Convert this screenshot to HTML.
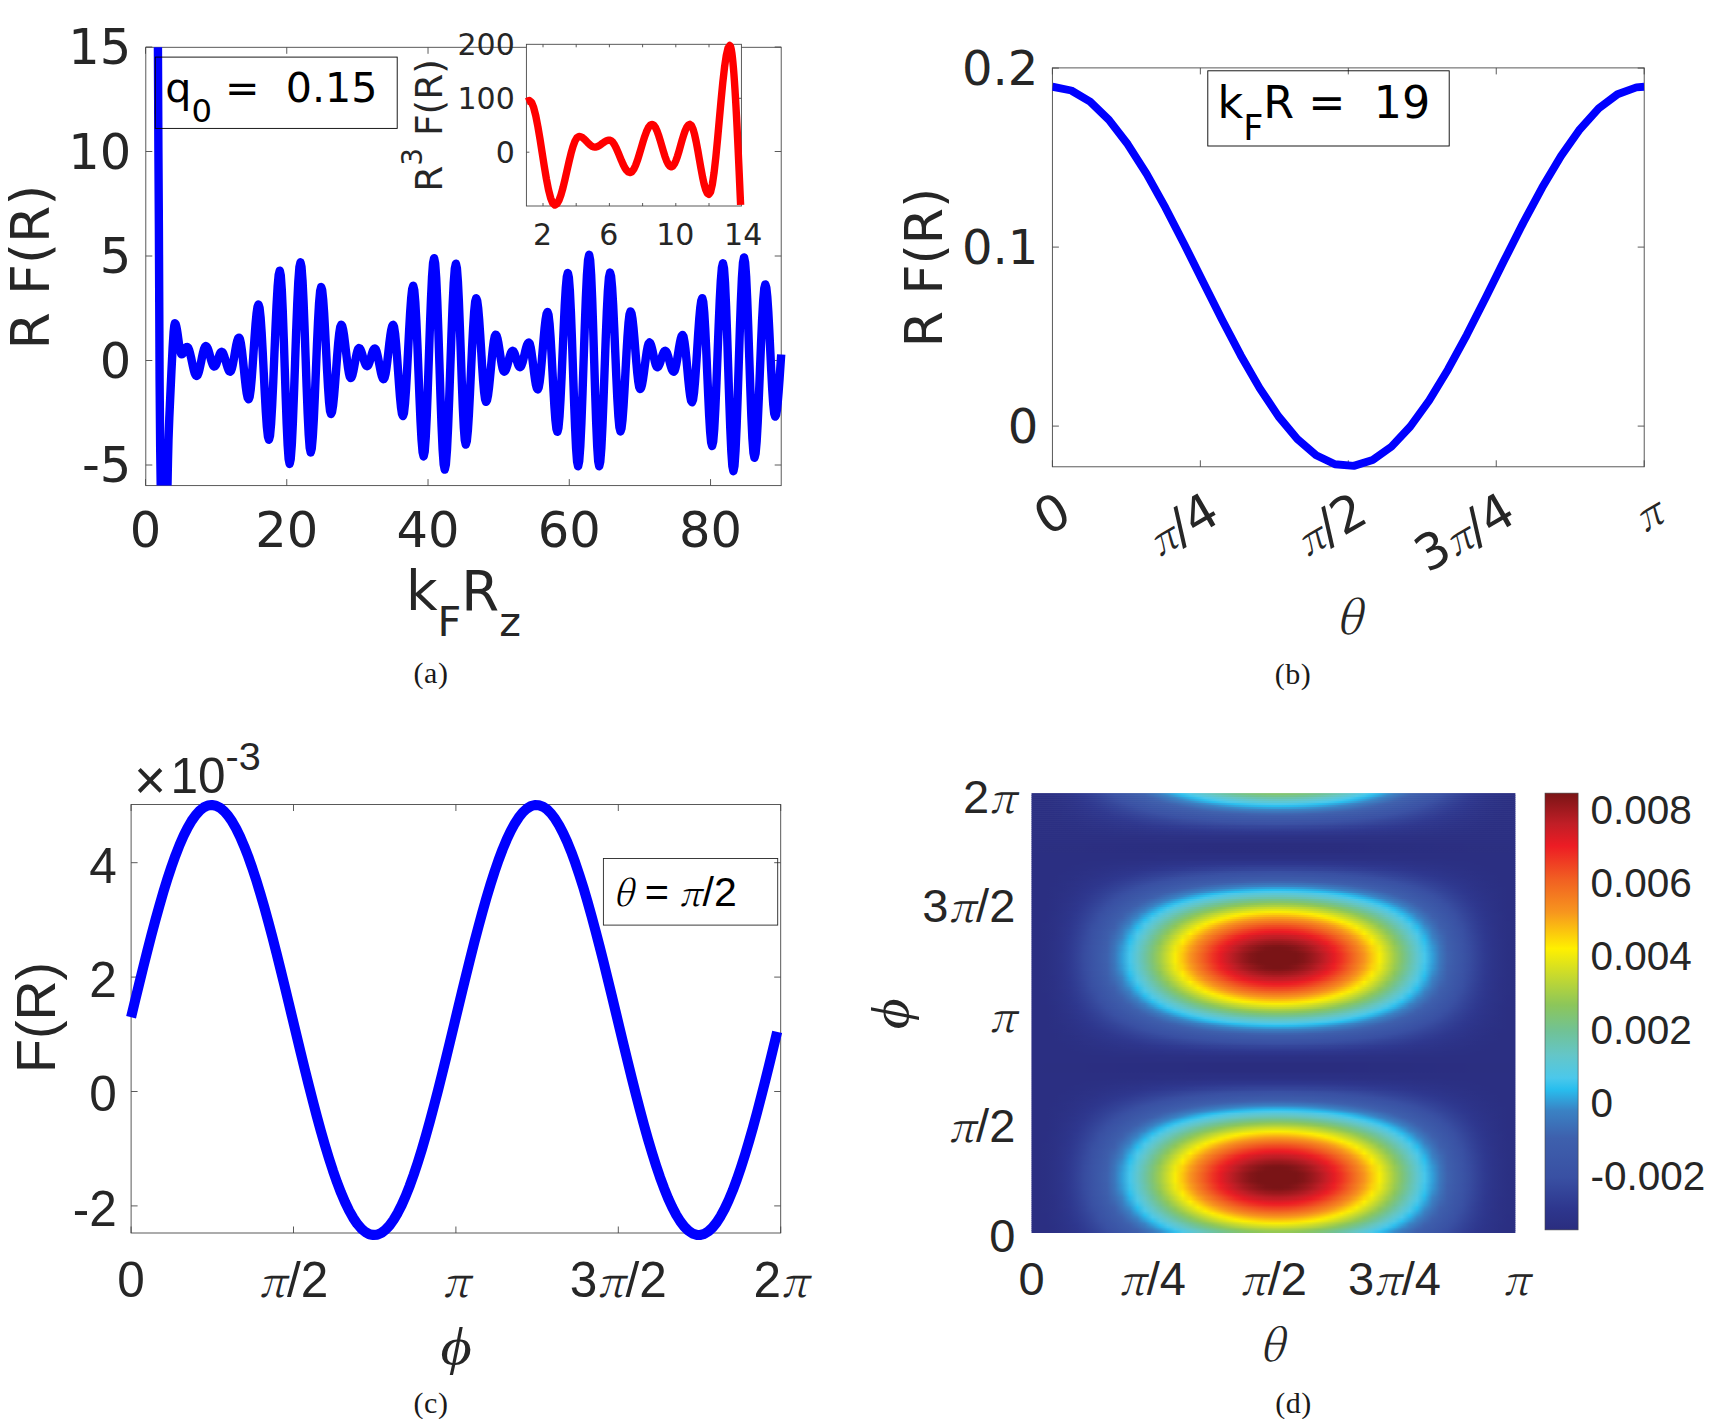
<!DOCTYPE html><html><head><meta charset="utf-8"><title>figure</title><style>html,body{margin:0;padding:0;background:#fff}svg{display:block}</style></head><body>
<svg width="1725" height="1419" viewBox="0 0 1725 1419">
<rect width="1725" height="1419" fill="#fff"/>
<g id="panel-a">
<clipPath id="clipA"><rect x="145.8" y="47.3" width="640.4000000000001" height="438.3"/></clipPath>
<rect x="145.8" y="47.3" width="635.4" height="438.3" fill="none" stroke="#484848" stroke-width="0.9"/>
<path d="M145.5 485.6v-6.5M145.5 47.3v6.5M286.76 485.6v-6.5M286.76 47.3v6.5M428.02 485.6v-6.5M428.02 47.3v6.5M569.28 485.6v-6.5M569.28 47.3v6.5M710.54 485.6v-6.5M710.54 47.3v6.5M145.8 465h6.5M781.2 465h-6.5M145.8 360.5h6.5M781.2 360.5h-6.5M145.8 256h6.5M781.2 256h-6.5M145.8 151.5h6.5M781.2 151.5h-6.5M145.8 47h6.5M781.2 47h-6.5" fill="none" stroke="#484848" stroke-width="0.9"/>
<path d="M157.9 41.3 158.4 150 158.9 230 159.6 380 160.2 450 160.7 485 161.6 515 164 532 166.4 515 167.5 485 168 460 168.5 440 169.3 418 170.2 398 171.4 372 172.6 348 173.6 332 174.3 325.5 174.93 323.22 175.61 323.98 176.28 326.19 176.95 329.64 177.62 333.98 178.29 338.79 178.96 343.6 179.63 347.94 180.3 351.39 180.97 353.6 181.64 354.36 182.19 354.18 182.74 353.64 183.29 352.82 183.84 351.77 184.39 350.61 184.95 349.46 185.5 348.41 186.05 347.59 186.6 347.05 187.15 346.87 188.1 347.58 189.05 349.66 189.99 352.88 190.94 356.95 191.88 361.45 192.83 365.96 193.78 370.03 194.72 373.25 195.67 375.32 196.61 376.04 197.54 375.31 198.47 373.18 199.39 369.86 200.32 365.69 201.25 361.06 202.17 356.43 203.1 352.26 204.02 348.94 204.95 346.82 205.88 346.08 206.72 346.58 207.57 348.04 208.42 350.31 209.27 353.16 210.11 356.33 210.96 359.5 211.81 362.35 212.66 364.62 213.5 366.08 214.35 366.58 215.08 366.22 215.81 365.17 216.54 363.53 217.27 361.47 218 359.19 218.73 356.9 219.46 354.84 220.19 353.21 220.91 352.16 221.64 351.8 222.49 352.28 223.34 353.7 224.19 355.9 225.03 358.67 225.88 361.75 226.73 364.83 227.58 367.6 228.42 369.8 229.27 371.22 230.12 371.7 231.01 370.87 231.89 368.45 232.78 364.68 233.67 359.92 234.55 354.66 235.44 349.39 236.33 344.63 237.21 340.86 238.1 338.44 238.99 337.61 239.95 339.12 240.92 343.5 241.88 350.32 242.85 358.92 243.82 368.45 244.78 377.98 245.75 386.58 246.71 393.4 247.68 397.78 248.64 399.29 249.63 396.97 250.61 390.24 251.6 379.76 252.59 366.54 253.57 351.9 254.56 337.25 255.54 324.04 256.53 313.55 257.51 306.82 258.5 304.5 259.54 307.81 260.59 317.41 261.63 332.36 262.68 351.21 263.72 372.1 264.77 392.99 265.81 411.83 266.85 426.79 267.9 436.39 268.94 439.7 270.03 435.56 271.11 423.55 272.2 404.84 273.28 381.27 274.36 355.15 275.45 329.02 276.53 305.45 277.62 286.75 278.7 274.74 279.78 270.6 280.77 275.33 281.75 289.06 282.74 310.45 283.72 337.4 284.71 367.27 285.7 397.14 286.68 424.09 287.67 445.48 288.65 459.21 289.64 463.94 290.72 459 291.81 444.69 292.89 422.38 293.97 394.28 295.06 363.13 296.14 331.98 297.23 303.88 298.31 281.57 299.39 267.26 300.48 262.32 301.5 266.98 302.53 280.48 303.55 301.52 304.58 328.03 305.6 357.41 306.63 386.8 307.65 413.31 308.68 434.35 309.7 447.85 310.73 452.51 311.77 448.46 312.81 436.7 313.86 418.39 314.9 395.31 315.95 369.73 316.99 344.15 318.04 321.08 319.08 302.77 320.13 291.01 321.17 286.96 322.16 290.07 323.14 299.1 324.13 313.16 325.11 330.88 326.1 350.52 327.08 370.16 328.07 387.88 329.05 401.94 330.04 410.96 331.02 414.08 332.05 411.89 333.07 405.55 334.1 395.67 335.12 383.23 336.15 369.44 337.17 355.64 338.2 343.2 339.22 333.32 340.25 326.98 341.27 324.8 342.22 326.1 343.17 329.88 344.11 335.76 345.06 343.18 346 351.4 346.95 359.63 347.9 367.04 348.84 372.93 349.79 376.71 350.73 378.01 351.56 377.28 352.39 375.15 353.22 371.84 354.04 367.66 354.87 363.03 355.7 358.4 356.53 354.23 357.36 350.91 358.18 348.79 359.01 348.05 359.82 348.5 360.63 349.78 361.43 351.79 362.24 354.32 363.05 357.12 363.86 359.92 364.67 362.45 365.47 364.45 366.28 365.74 367.09 366.18 367.86 365.75 368.63 364.49 369.4 362.53 370.17 360.06 370.93 357.32 371.7 354.58 372.47 352.1 373.24 350.14 374.01 348.88 374.78 348.45 375.66 349.2 376.55 351.38 377.44 354.78 378.32 359.07 379.21 363.82 380.1 368.57 380.99 372.86 381.87 376.26 382.76 378.44 383.65 379.19 384.59 377.86 385.54 374 386.48 367.98 387.43 360.4 388.38 351.99 389.32 343.59 390.27 336.01 391.21 329.99 392.16 326.13 393.11 324.8 394.09 327.03 395.08 333.51 396.06 343.6 397.05 356.32 398.03 370.42 399.02 384.52 400 397.24 400.99 407.33 401.97 413.81 402.96 416.05 403.99 412.86 405.01 403.61 406.03 389.2 407.06 371.04 408.08 350.91 409.11 330.78 410.13 312.62 411.16 298.21 412.18 288.96 413.21 285.77 414.25 289.95 415.3 302.07 416.34 320.95 417.39 344.74 418.43 371.11 419.48 397.48 420.52 421.27 421.56 440.15 422.61 452.27 423.65 456.45 424.7 451.6 425.74 437.52 426.79 415.58 427.83 387.95 428.88 357.32 429.92 326.68 430.97 299.05 432.01 277.12 433.05 263.03 434.1 258.18 435.16 263.36 436.23 278.38 437.29 301.77 438.36 331.24 439.42 363.92 440.48 396.59 441.55 426.07 442.61 449.46 443.68 464.48 444.74 469.65 445.86 464.61 446.98 449.99 448.09 427.2 449.21 398.5 450.33 366.68 451.44 334.86 452.56 306.15 453.68 283.37 454.8 268.74 455.91 263.7 456.9 268.13 457.88 280.98 458.87 300.99 459.85 326.21 460.84 354.16 461.82 382.12 462.81 407.33 463.8 427.35 464.78 440.2 465.77 444.62 466.81 441.04 467.86 430.64 468.9 414.44 469.94 394.03 470.99 371.41 472.03 348.78 473.08 328.37 474.12 312.17 475.17 301.77 476.21 298.19 477.2 300.73 478.18 308.09 479.17 319.56 480.15 334.01 481.14 350.02 482.12 366.04 483.11 380.49 484.1 391.96 485.08 399.32 486.07 401.86 487.03 400.21 488 395.44 488.96 388.01 489.93 378.64 490.89 368.25 491.86 357.87 492.83 348.5 493.79 341.07 494.76 336.3 495.72 334.65 496.57 335.56 497.42 338.19 498.27 342.29 499.11 347.45 499.96 353.18 500.81 358.9 501.66 364.07 502.5 368.16 503.35 370.8 504.2 371.7 505.05 371.19 505.89 369.71 506.74 367.4 507.59 364.49 508.44 361.26 509.28 358.03 510.13 355.12 510.98 352.81 511.82 351.32 512.67 350.81 513.4 351.21 514.13 352.37 514.86 354.18 515.59 356.46 516.32 358.99 517.05 361.52 517.78 363.8 518.51 365.61 519.24 366.77 519.96 367.17 520.85 366.57 521.74 364.82 522.63 362.09 523.51 358.66 524.4 354.85 525.29 351.05 526.17 347.61 527.06 344.89 527.95 343.14 528.83 342.53 529.72 343.68 530.61 347.01 531.49 352.2 532.38 358.74 533.27 365.99 534.15 373.23 535.04 379.77 535.93 384.96 536.82 388.29 537.7 389.44 538.69 387.54 539.67 382.04 540.66 373.48 541.64 362.68 542.63 350.71 543.61 338.75 544.6 327.95 545.59 319.38 546.57 313.88 547.56 311.99 548.54 314.92 549.53 323.43 550.51 336.68 551.5 353.39 552.48 371.9 553.47 390.41 554.45 407.12 555.44 420.37 556.42 428.88 557.41 431.81 558.45 427.93 559.5 416.64 560.54 399.07 561.59 376.93 562.63 352.39 563.68 327.85 564.72 305.7 565.77 288.13 566.81 276.85 567.86 272.96 568.88 277.7 569.91 291.43 570.93 312.81 571.96 339.76 572.98 369.63 574 399.51 575.03 426.45 576.05 447.84 577.08 461.57 578.1 466.3 579.21 461.13 580.31 446.11 581.42 422.72 582.52 393.24 583.62 360.57 584.73 327.89 585.83 298.42 586.93 275.03 588.04 260.01 589.14 254.83 590.15 260.01 591.15 275.03 592.16 298.42 593.16 327.89 594.17 360.57 595.17 393.24 596.18 422.72 597.18 446.11 598.19 461.13 599.19 466.3 600.28 461.56 601.36 447.8 602.44 426.37 603.53 399.37 604.61 369.44 605.7 339.5 606.78 312.5 607.86 291.07 608.95 277.31 610.03 272.57 611.08 276.46 612.12 287.74 613.17 305.31 614.21 327.45 615.25 351.99 616.3 376.54 617.34 398.68 618.39 416.25 619.43 427.53 620.48 431.42 621.48 428.48 622.49 419.96 623.49 406.68 624.5 389.95 625.5 371.41 626.51 352.86 627.51 336.13 628.52 322.86 629.52 314.33 630.53 311.4 631.49 313.3 632.46 318.81 633.43 327.4 634.39 338.22 635.36 350.22 636.32 362.22 637.29 373.04 638.25 381.63 639.22 387.15 640.19 389.05 641.11 387.91 642.04 384.6 642.96 379.46 643.89 372.98 644.82 365.79 645.74 358.6 646.67 352.12 647.6 346.98 648.52 343.67 649.45 342.53 650.24 343.14 651.02 344.89 651.81 347.61 652.6 351.05 653.39 354.85 654.18 358.66 654.97 362.09 655.75 364.82 656.54 366.57 657.33 367.17 658.12 366.77 658.91 365.61 659.7 363.8 660.48 361.52 661.27 358.99 662.06 356.46 662.85 354.18 663.64 352.37 664.43 351.21 665.21 350.81 666.06 351.32 666.91 352.81 667.76 355.12 668.6 358.03 669.45 361.26 670.3 364.49 671.15 367.4 671.99 369.71 672.84 371.19 673.69 371.7 674.58 370.81 675.46 368.2 676.35 364.15 677.24 359.04 678.12 353.37 679.01 347.71 679.9 342.6 680.78 338.55 681.67 335.94 682.56 335.05 683.5 336.69 684.45 341.46 685.4 348.9 686.34 358.26 687.29 368.65 688.23 379.03 689.18 388.4 690.13 395.83 691.07 400.61 692.02 402.25 693.04 399.7 694.07 392.31 695.09 380.8 696.12 366.3 697.14 350.22 698.17 334.14 699.19 319.64 700.22 308.13 701.24 300.74 702.27 298.19 703.25 301.81 704.24 312.31 705.22 328.66 706.21 349.26 707.19 372.1 708.18 394.94 709.16 415.54 710.15 431.89 711.14 442.39 712.12 446 713.2 441.53 714.29 428.56 715.37 408.35 716.46 382.88 717.54 354.66 718.62 326.43 719.71 300.96 720.79 280.75 721.88 267.78 722.96 263.31 724 268.4 725.05 283.16 726.09 306.16 727.14 335.14 728.18 367.27 729.23 399.39 730.27 428.38 731.32 451.37 732.36 466.14 733.41 471.23 734.47 466 735.53 450.81 736.6 427.16 737.66 397.35 738.73 364.31 739.79 331.27 740.86 301.47 741.92 277.81 742.98 262.63 744.05 257.39 745.09 262.3 746.14 276.53 747.18 298.71 748.23 326.64 749.27 357.61 750.32 388.58 751.36 416.52 752.4 438.69 753.45 452.92 754.49 457.83 755.58 453.58 756.66 441.27 757.75 422.08 758.83 397.91 759.91 371.11 761 344.31 762.08 320.14 763.17 300.96 764.25 288.64 765.33 284.39 766.32 287.63 767.3 297.02 768.29 311.65 769.27 330.08 770.26 350.52 771.25 370.95 772.23 389.38 773.22 404.01 774.2 413.4 775.19 416.64 776.05 414.96 776.9 410.03 777.76 402.19 778.62 391.98 779.48 380.08 780.34 367.32 781.2 354.55" fill="none" stroke="#0000ff" stroke-width="8.4" stroke-linejoin="round" stroke-linecap="butt" clip-path="url(#clipA)"/>
<text x="145.5" y="546.8" font-family='"DejaVu Sans", "Liberation Sans", sans-serif' font-size="49.5" text-anchor="middle" fill="#262626">0</text>
<text x="286.76" y="546.8" font-family='"DejaVu Sans", "Liberation Sans", sans-serif' font-size="49.5" text-anchor="middle" fill="#262626">20</text>
<text x="428.02" y="546.8" font-family='"DejaVu Sans", "Liberation Sans", sans-serif' font-size="49.5" text-anchor="middle" fill="#262626">40</text>
<text x="569.28" y="546.8" font-family='"DejaVu Sans", "Liberation Sans", sans-serif' font-size="49.5" text-anchor="middle" fill="#262626">60</text>
<text x="710.54" y="546.8" font-family='"DejaVu Sans", "Liberation Sans", sans-serif' font-size="49.5" text-anchor="middle" fill="#262626">80</text>
<text x="131.3" y="482.2" font-family='"DejaVu Sans", "Liberation Sans", sans-serif' font-size="49.5" text-anchor="end" fill="#262626">-5</text>
<text x="131.3" y="377.7" font-family='"DejaVu Sans", "Liberation Sans", sans-serif' font-size="49.5" text-anchor="end" fill="#262626">0</text>
<text x="131.3" y="273.2" font-family='"DejaVu Sans", "Liberation Sans", sans-serif' font-size="49.5" text-anchor="end" fill="#262626">5</text>
<text x="131.3" y="168.7" font-family='"DejaVu Sans", "Liberation Sans", sans-serif' font-size="49.5" text-anchor="end" fill="#262626">10</text>
<text x="131.3" y="64.2" font-family='"DejaVu Sans", "Liberation Sans", sans-serif' font-size="49.5" text-anchor="end" fill="#262626">15</text>
<text transform="translate(49.2 267) rotate(-90)" font-family='"DejaVu Sans", "Liberation Sans", sans-serif' font-size="53.8" text-anchor="middle" fill="#262626">R F(R)</text>
<text x="406" y="609.7" font-family='"DejaVu Sans", "Liberation Sans", sans-serif' font-size="54.5" fill="#262626">k<tspan font-size="41.3" dy="26.5">F</tspan><tspan font-size="54.5" dy="-26.5">R</tspan><tspan font-size="41.3" dy="26.5">z</tspan></text>
<rect x="155.3" y="57.1" width="241.9" height="71.3" fill="none" stroke="#000" stroke-width="0.9"/>
<text x="165.3" y="102" font-family='"DejaVu Sans", "Liberation Sans", sans-serif' font-size="41.2" fill="#000" xml:space="preserve">q<tspan font-size="32.3" dy="20">0</tspan><tspan font-size="41.2" dy="-20"> =  0.15</tspan></text>
<rect x="526.4" y="44.3" width="215.0" height="161.7" fill="#fff"/>
<rect x="526.4" y="44.3" width="215" height="161.7" fill="none" stroke="#484848" stroke-width="0.9"/>
<path d="M543 206v-3M543 44.3v3M576.2 206v-3M576.2 44.3v3M609.4 206v-3M609.4 44.3v3M642.6 206v-3M642.6 44.3v3M675.8 206v-3M675.8 44.3v3M709 206v-3M709 44.3v3M526.4 152.2h3M741.4 152.2h-3M526.4 98.3h3M741.4 98.3h-3" fill="none" stroke="#484848" stroke-width="0.9"/>
<path d="M526.38 101.62 529.39 100.46 531.52 102.25 533.64 107.47 535.77 115.78 537.89 126.61 540.02 139.22 542.14 152.75 544.27 166.29 546.4 178.9 548.52 189.73 550.65 198.04 552.77 203.26 554.9 205.04 556.91 203.87 558.92 200.45 560.93 194.99 562.94 187.88 564.95 179.61 566.96 170.72 568.97 161.84 570.98 153.57 572.99 146.46 575 141 577 137.58 579.01 136.41 580.33 136.59 581.64 137.12 582.96 137.97 584.27 139.07 585.58 140.36 586.9 141.74 588.21 143.12 589.53 144.41 590.84 145.51 592.15 146.36 593.47 146.89 594.78 147.07 596 146.95 597.22 146.61 598.43 146.05 599.65 145.33 600.87 144.49 602.09 143.59 603.3 142.69 604.52 141.86 605.74 141.13 606.96 140.58 608.17 140.23 609.39 140.12 611.11 140.67 612.83 142.29 614.55 144.87 616.27 148.23 617.99 152.15 619.71 156.35 621.43 160.55 623.15 164.46 624.87 167.83 626.59 170.41 628.31 172.03 630.03 172.58 631.86 171.76 633.7 169.35 635.54 165.52 637.37 160.52 639.21 154.71 641.04 148.46 642.88 142.22 644.71 136.41 646.55 131.41 648.39 127.58 650.22 125.17 652.06 124.35 653.66 125.07 655.27 127.19 656.87 130.56 658.47 134.96 660.08 140.07 661.68 145.57 663.29 151.06 664.89 156.17 666.49 160.57 668.1 163.94 669.7 166.06 671.3 166.78 672.85 166.06 674.4 163.94 675.94 160.57 677.49 156.17 679.03 151.06 680.58 145.57 682.13 140.07 683.67 134.96 685.22 130.56 686.76 127.19 688.31 125.07 689.86 124.35 691.44 125.54 693.02 129.04 694.61 134.6 696.19 141.86 697.78 150.3 699.36 159.36 700.95 168.42 702.53 176.87 704.12 184.12 705.7 189.69 707.29 193.18 708.87 194.38 710.61 191.84 712.35 184.4 714.09 172.58 715.83 157.16 717.57 139.21 719.3 119.94 721.04 100.68 722.78 82.72 724.52 67.31 726.26 55.48 728 48.04 729.74 45.51 730.26 45.97 730.78 47.35 731.3 49.64 731.83 52.83 732.35 56.89 732.87 61.81 733.39 67.55 733.91 74.07 734.43 81.34 734.96 89.31 735.48 97.94 736 107.16 736.52 116.92 737.04 127.17 737.57 137.84 738.09 148.85 738.61 160.16 739.13 171.68 739.65 183.34 740.17 195.07 740.61 204.81" fill="none" stroke="#ff0000" stroke-width="7.4" stroke-linejoin="round" stroke-linecap="butt"/>
<text x="542.5" y="244.7" font-family='"DejaVu Sans", "Liberation Sans", sans-serif' font-size="30" text-anchor="middle" fill="#262626">2</text>
<text x="608.9" y="244.7" font-family='"DejaVu Sans", "Liberation Sans", sans-serif' font-size="30" text-anchor="middle" fill="#262626">6</text>
<text x="675.3" y="244.7" font-family='"DejaVu Sans", "Liberation Sans", sans-serif' font-size="30" text-anchor="middle" fill="#262626">10</text>
<text x="743.2" y="244.7" font-family='"DejaVu Sans", "Liberation Sans", sans-serif' font-size="30" text-anchor="middle" fill="#262626">14</text>
<text x="514.8" y="163.1" font-family='"DejaVu Sans", "Liberation Sans", sans-serif' font-size="30" text-anchor="end" fill="#262626">0</text>
<text x="514.8" y="109.2" font-family='"DejaVu Sans", "Liberation Sans", sans-serif' font-size="30" text-anchor="end" fill="#262626">100</text>
<text x="514.8" y="55.3" font-family='"DejaVu Sans", "Liberation Sans", sans-serif' font-size="30" text-anchor="end" fill="#262626">200</text>
<text transform="translate(441.5 125.5) rotate(-90)" font-family='"DejaVu Sans", "Liberation Sans", sans-serif' font-size="37.5" text-anchor="middle" fill="#262626">R<tspan font-size="28" dy="-20">3</tspan><tspan dy="20"> F(R)</tspan></text>
<text x="431" y="683" font-family='"Liberation Serif", "DejaVu Serif", serif' font-size="30" text-anchor="middle" fill="#1a1a1a" letter-spacing="0.5">(a)</text>
</g>
<g id="panel-b">
<clipPath id="clipB"><rect x="1052.4" y="57.900000000000006" width="591.8" height="418.9"/></clipPath>
<rect x="1052.4" y="67.9" width="591.8" height="398.9" fill="none" stroke="#484848" stroke-width="0.9"/>
<path d="M1052.4 466.8v-6.5M1052.4 67.9v6.5M1200.35 466.8v-6.5M1200.35 67.9v6.5M1348.3 466.8v-6.5M1348.3 67.9v6.5M1496.25 466.8v-6.5M1496.25 67.9v6.5M1644.2 466.8v-6.5M1644.2 67.9v6.5M1052.4 426.1h6.5M1644.2 426.1h-6.5M1052.4 247.1h6.5M1644.2 247.1h-6.5M1052.4 68.1h6.5M1644.2 68.1h-6.5" fill="none" stroke="#484848" stroke-width="0.9"/>
<path d="M1052.4 86.72 1071.24 90.5 1090.08 101.69 1108.91 119.86 1127.75 144.26 1146.59 173.94 1165.43 207.7 1184.26 244.21 1203.1 282 1221.94 319.57 1240.78 355.42 1259.61 388.12 1278.45 416.37 1297.29 439.04 1316.13 455.23 1334.96 464.3 1353.8 465.87 1372.64 459.9 1391.48 446.61 1410.31 426.53 1429.15 400.48 1447.99 369.48 1466.83 334.77 1485.66 297.74 1504.5 259.85 1523.34 222.63 1542.18 187.56 1561.01 156.03 1579.85 129.3 1598.69 108.44 1617.53 94.27 1636.36 87.37 1644.2 86.72" fill="none" stroke="#0000ff" stroke-width="7.9" stroke-linejoin="round" stroke-linecap="butt" clip-path="url(#clipB)"/>
<text x="1038.3" y="443.1" font-family='"DejaVu Sans", "Liberation Sans", sans-serif' font-size="48" text-anchor="end" fill="#262626">0</text>
<text x="1038.3" y="264.1" font-family='"DejaVu Sans", "Liberation Sans", sans-serif' font-size="48" text-anchor="end" fill="#262626">0.1</text>
<text x="1038.3" y="85.1" font-family='"DejaVu Sans", "Liberation Sans", sans-serif' font-size="48" text-anchor="end" fill="#262626">0.2</text>
<text transform="translate(942.3 267.4) rotate(-90)" font-family='"DejaVu Sans", "Liberation Sans", sans-serif' font-size="52.1" text-anchor="middle" fill="#262626">R F(R)</text>
<text transform="translate(1074.4 520.8) rotate(-30)" font-family='"DejaVu Sans", "Liberation Sans", sans-serif' font-size="49.5" text-anchor="end" fill="#262626">0</text>
<text transform="translate(1222.35 520.8) rotate(-30)" font-family='"DejaVu Sans", "Liberation Sans", sans-serif' font-size="49.5" text-anchor="end" fill="#262626"><tspan font-family='"Noto Serif CJK SC", "Liberation Serif", serif' font-style="italic" font-size="38.5">π</tspan>/4</text>
<text transform="translate(1370.3 520.8) rotate(-30)" font-family='"DejaVu Sans", "Liberation Sans", sans-serif' font-size="49.5" text-anchor="end" fill="#262626"><tspan font-family='"Noto Serif CJK SC", "Liberation Serif", serif' font-style="italic" font-size="38.5">π</tspan>/2</text>
<text transform="translate(1518.25 520.8) rotate(-30)" font-family='"DejaVu Sans", "Liberation Sans", sans-serif' font-size="49.5" text-anchor="end" fill="#262626">3<tspan font-family='"Noto Serif CJK SC", "Liberation Serif", serif' font-style="italic" font-size="38.5">π</tspan>/4</text>
<text transform="translate(1666.2 520.8) rotate(-30)" font-family='"DejaVu Sans", "Liberation Sans", sans-serif' font-size="49.5" text-anchor="end" fill="#262626"><tspan font-family='"Noto Serif CJK SC", "Liberation Serif", serif' font-style="italic" font-size="38.5">π</tspan></text>
<text x="1348.5" y="634" font-family='"Noto Serif CJK SC", "Liberation Serif", serif' font-size="45.5" text-anchor="middle" fill="#262626" style="font-style:italic">θ</text>
<rect x="1207.8" y="70.8" width="241.4" height="75.2" fill="none" stroke="#000" stroke-width="0.9"/>
<text x="1217.5" y="118.4" font-family='"DejaVu Sans", "Liberation Sans", sans-serif' font-size="44.4" fill="#000" xml:space="preserve">k<tspan font-size="35" dy="21.5">F</tspan><tspan font-size="44.4" dy="-21.5">R =  19</tspan></text>
<text x="1293" y="684" font-family='"Liberation Serif", "DejaVu Serif", serif' font-size="30" text-anchor="middle" fill="#1a1a1a" letter-spacing="0.5">(b)</text>
</g>
<g id="panel-c">
<rect x="131.1" y="804.5" width="649.6" height="428.5" fill="none" stroke="#484848" stroke-width="0.9"/>
<path d="M131.1 1233v-6.5M131.1 804.5v6.5M293.5 1233v-6.5M293.5 804.5v6.5M455.9 1233v-6.5M455.9 804.5v6.5M618.3 1233v-6.5M618.3 804.5v6.5M780.7 1233v-6.5M780.7 804.5v6.5M131.1 1205.9h6.5M780.7 1205.9h-6.5M131.1 1091.5h6.5M780.7 1091.5h-6.5M131.1 977.1h6.5M780.7 977.1h-6.5M131.1 862.7h6.5M780.7 862.7h-6.5" fill="none" stroke="#484848" stroke-width="0.9"/>
<path d="M131.1 1017.2 135.14 1000.43 139.18 983.78 143.21 967.35 147.25 951.23 151.29 935.54 155.33 920.36 159.37 905.8 163.4 891.92 167.44 878.83 171.48 866.6 175.52 855.3 179.55 845.01 183.59 835.79 187.63 827.69 191.67 820.76 195.71 815.05 199.74 810.59 203.78 807.4 207.82 805.51 211.86 804.93 215.9 805.66 219.93 807.7 223.97 811.03 228.01 815.64 232.05 821.49 236.09 828.55 240.12 836.79 244.16 846.13 248.2 856.54 252.24 867.95 256.28 880.28 260.31 893.47 264.35 907.42 268.39 922.07 272.43 937.31 276.46 953.05 280.5 969.2 284.54 985.67 288.58 1002.34 292.62 1019.12 296.65 1035.91 300.69 1052.59 304.73 1069.08 308.77 1085.27 312.81 1101.07 316.84 1116.36 320.88 1131.07 324.92 1145.11 328.96 1158.38 333 1170.8 337.03 1182.31 341.07 1192.82 345.11 1202.29 349.15 1210.64 353.19 1217.83 357.22 1223.81 361.26 1228.55 365.3 1232.01 369.34 1234.19 373.37 1235.05 377.41 1234.61 381.45 1232.86 385.49 1229.81 389.53 1225.48 393.56 1219.89 397.6 1213.09 401.64 1205.11 405.68 1196 409.72 1185.82 413.75 1174.63 417.79 1162.49 421.83 1149.49 425.87 1135.69 429.91 1121.19 433.94 1106.07 437.98 1090.43 442.02 1074.36 446.06 1057.96 450.09 1041.32 454.13 1024.56 458.17 1007.76 462.21 991.04 466.25 974.5 470.28 958.24 474.32 942.35 478.36 926.94 482.4 912.09 486.44 897.9 490.47 884.46 494.51 871.84 498.55 860.13 502.59 849.39 506.63 839.69 510.66 831.09 514.7 823.65 518.74 817.4 522.78 812.38 526.82 808.64 530.85 806.18 534.89 805.02 538.93 805.18 542.97 806.65 547 809.41 551.04 813.47 555.08 818.78 559.12 825.32 563.16 833.04 567.19 841.91 571.23 851.86 575.27 862.84 579.31 874.77 583.35 887.6 587.38 901.23 591.42 915.58 595.46 930.57 599.5 946.11 603.54 962.09 607.57 978.43 611.61 995.02 615.65 1011.77 619.69 1028.57 623.73 1045.31 627.76 1061.9 631.8 1078.23 635.84 1094.21 639.88 1109.73 643.91 1124.71 647.95 1139.05 651.99 1152.67 656.03 1165.47 660.07 1177.39 664.1 1188.35 668.14 1198.28 672.18 1207.12 676.22 1214.83 680.26 1221.34 684.29 1226.63 688.33 1230.65 692.37 1233.4 696.41 1234.84 700.45 1234.97 704.48 1233.79 708.52 1231.3 712.56 1227.53 716.6 1222.49 720.63 1216.22 724.67 1208.75 728.71 1200.13 732.75 1190.41 736.79 1179.65 740.82 1167.92 744.86 1155.28 748.9 1141.82 752.94 1127.62 756.98 1112.76 761.01 1097.34 765.05 1081.44 769.09 1065.17 773.13 1048.62 777.17 1031.9" fill="none" stroke="#0000ff" stroke-width="10.1" stroke-linejoin="round" stroke-linecap="butt"/>
<text x="116.7" y="1225.7" font-family='"Liberation Sans", "DejaVu Sans", sans-serif' font-size="49.5" text-anchor="end" fill="#262626">-2</text>
<text x="116.7" y="1111.3" font-family='"Liberation Sans", "DejaVu Sans", sans-serif' font-size="49.5" text-anchor="end" fill="#262626">0</text>
<text x="116.7" y="996.9" font-family='"Liberation Sans", "DejaVu Sans", sans-serif' font-size="49.5" text-anchor="end" fill="#262626">2</text>
<text x="116.7" y="882.5" font-family='"Liberation Sans", "DejaVu Sans", sans-serif' font-size="49.5" text-anchor="end" fill="#262626">4</text>
<text x="131.1" y="1297.3" font-family='"Liberation Sans", "DejaVu Sans", sans-serif' font-size="49.5" text-anchor="middle" fill="#262626">0</text>
<text x="293.5" y="1297.3" font-family='"Liberation Sans", "DejaVu Sans", sans-serif' font-size="49.5" text-anchor="middle" fill="#262626"><tspan font-family='"Noto Serif CJK SC", "Liberation Serif", serif' font-style="italic" font-size="41">π</tspan><tspan dx="1.6">/</tspan>2</text>
<text x="455.9" y="1297.3" font-family='"Liberation Sans", "DejaVu Sans", sans-serif' font-size="49.5" text-anchor="middle" fill="#262626"><tspan font-family='"Noto Serif CJK SC", "Liberation Serif", serif' font-style="italic" font-size="41">π</tspan></text>
<text x="618.3" y="1297.3" font-family='"Liberation Sans", "DejaVu Sans", sans-serif' font-size="49.5" text-anchor="middle" fill="#262626">3<tspan font-family='"Noto Serif CJK SC", "Liberation Serif", serif' font-style="italic" font-size="41">π</tspan><tspan dx="1.6">/</tspan>2</text>
<text x="780.7" y="1297.3" font-family='"Liberation Sans", "DejaVu Sans", sans-serif' font-size="49.5" text-anchor="middle" fill="#262626">2<tspan font-family='"Noto Serif CJK SC", "Liberation Serif", serif' font-style="italic" font-size="41">π</tspan></text>
<text x="134" y="799.4" font-family='"Liberation Sans", "DejaVu Sans", sans-serif' font-size="55" text-anchor="start" fill="#262626">×</text>
<text x="170.4" y="793.3" font-family='"Liberation Sans", "DejaVu Sans", sans-serif' font-size="49.5" fill="#262626">10<tspan font-size="39.6" dy="-23.6">-3</tspan></text>
<text transform="translate(54.8 1017.5) rotate(-90)" font-family='"Liberation Sans", "DejaVu Sans", sans-serif' font-size="55.5" text-anchor="middle" fill="#262626">F(R)</text>
<text transform="translate(456.2 1364.2) scale(1.14 1)" x="-13.8" y="0" font-family='"Liberation Serif", "DejaVu Serif", serif' font-style="italic" font-size="53" fill="#262626">ϕ</text>
<rect x="603.4" y="858.5" width="174.3" height="66.6" fill="none" stroke="#262626" stroke-width="0.9"/>
<text x="613.2" y="906.3" font-family='"Liberation Sans", "DejaVu Sans", sans-serif' font-size="41.5" fill="#000"><tspan font-family='"Noto Serif CJK SC", "Liberation Serif", serif' font-style="italic" font-size="35.4">θ</tspan><tspan x="644.7">=</tspan><tspan x="679.3" font-family='"Noto Serif CJK SC", "Liberation Serif", serif' font-style="italic" font-size="33">π</tspan><tspan x="702.5" font-size="41">/2</tspan></text>
<text x="431" y="1412.6" font-family='"Liberation Serif", "DejaVu Serif", serif' font-size="30" text-anchor="middle" fill="#1a1a1a" letter-spacing="0.5">(c)</text>
</g>
<g id="panel-d">
<linearGradient id="cbar" x1="0" y1="1" x2="0" y2="0"><stop offset="0%" stop-color="#2a2d7f"/><stop offset="5%" stop-color="#2e378e"/><stop offset="12%" stop-color="#3950a3"/><stop offset="21%" stop-color="#3e60ad"/><stop offset="27.3%" stop-color="#3a82c4"/><stop offset="32.2%" stop-color="#28beee"/><stop offset="34.8%" stop-color="#4bc8eb"/><stop offset="40%" stop-color="#64c6c8"/><stop offset="45.45%" stop-color="#70c296"/><stop offset="51.5%" stop-color="#8cc65a"/><stop offset="58.3%" stop-color="#c8da2d"/><stop offset="64.4%" stop-color="#fff000"/><stop offset="72.7%" stop-color="#f7961e"/><stop offset="80.3%" stop-color="#f15f22"/><stop offset="87.9%" stop-color="#ed1c24"/><stop offset="93%" stop-color="#c01e26"/><stop offset="100%" stop-color="#7a1416"/></linearGradient>
<rect x="1545" y="793.1" width="33.1" height="436.8" fill="url(#cbar)" stroke="#444" stroke-width="0.6"/>
<defs><linearGradient id="h0"><stop offset="0%" stop-color="#2b2f82"/><stop offset="1.56%" stop-color="#2b2f82"/><stop offset="3.12%" stop-color="#2b2f82"/><stop offset="4.69%" stop-color="#2b3084"/><stop offset="6.25%" stop-color="#2c3186"/><stop offset="7.81%" stop-color="#2d3388"/><stop offset="9.38%" stop-color="#2d368c"/><stop offset="10.94%" stop-color="#2f3990"/><stop offset="12.5%" stop-color="#313e94"/><stop offset="14.06%" stop-color="#344499"/><stop offset="15.62%" stop-color="#374b9f"/><stop offset="17.19%" stop-color="#3951a4"/><stop offset="18.75%" stop-color="#3a55a6"/><stop offset="20.31%" stop-color="#3c59a8"/><stop offset="21.88%" stop-color="#3d5dab"/><stop offset="23.44%" stop-color="#3e63af"/><stop offset="25%" stop-color="#3c6fb7"/><stop offset="26.56%" stop-color="#3b7cc0"/><stop offset="28.12%" stop-color="#3592cf"/><stop offset="29.69%" stop-color="#2daee3"/><stop offset="31.25%" stop-color="#35c2ed"/><stop offset="32.81%" stop-color="#4ec8e7"/><stop offset="34.38%" stop-color="#58c7d9"/><stop offset="35.94%" stop-color="#61c6cc"/><stop offset="37.5%" stop-color="#67c5bc"/><stop offset="39.06%" stop-color="#6bc4ad"/><stop offset="40.62%" stop-color="#6ec39f"/><stop offset="42.19%" stop-color="#72c292"/><stop offset="43.75%" stop-color="#77c387"/><stop offset="45.31%" stop-color="#7bc47e"/><stop offset="46.88%" stop-color="#7ec477"/><stop offset="48.44%" stop-color="#80c473"/><stop offset="50%" stop-color="#82c570"/><stop offset="51.56%" stop-color="#82c570"/><stop offset="53.12%" stop-color="#81c473"/><stop offset="54.69%" stop-color="#7ec477"/><stop offset="56.25%" stop-color="#7bc47e"/><stop offset="57.81%" stop-color="#77c387"/><stop offset="59.38%" stop-color="#72c292"/><stop offset="60.94%" stop-color="#6ec39e"/><stop offset="62.5%" stop-color="#6bc4ac"/><stop offset="64.06%" stop-color="#67c5bc"/><stop offset="65.62%" stop-color="#62c6cb"/><stop offset="67.19%" stop-color="#58c7d9"/><stop offset="68.75%" stop-color="#4ec8e7"/><stop offset="70.31%" stop-color="#36c2ed"/><stop offset="71.88%" stop-color="#2dafe3"/><stop offset="73.44%" stop-color="#3592cf"/><stop offset="75%" stop-color="#3b7cc0"/><stop offset="76.56%" stop-color="#3c70b8"/><stop offset="78.12%" stop-color="#3e63af"/><stop offset="79.69%" stop-color="#3d5dab"/><stop offset="81.25%" stop-color="#3c59a8"/><stop offset="82.81%" stop-color="#3b55a6"/><stop offset="84.38%" stop-color="#3951a4"/><stop offset="85.94%" stop-color="#374b9f"/><stop offset="87.5%" stop-color="#344599"/><stop offset="89.06%" stop-color="#313f94"/><stop offset="90.62%" stop-color="#2f3990"/><stop offset="92.19%" stop-color="#2d368c"/><stop offset="93.75%" stop-color="#2d3389"/><stop offset="95.31%" stop-color="#2c3286"/><stop offset="96.88%" stop-color="#2b3084"/><stop offset="98.44%" stop-color="#2b2f82"/><stop offset="100%" stop-color="#2b2f82"/></linearGradient><linearGradient id="h1"><stop offset="0%" stop-color="#2b2f82"/><stop offset="1.56%" stop-color="#2b2f82"/><stop offset="3.12%" stop-color="#2b2f82"/><stop offset="4.69%" stop-color="#2b3084"/><stop offset="6.25%" stop-color="#2c3186"/><stop offset="7.81%" stop-color="#2c3388"/><stop offset="9.38%" stop-color="#2d358b"/><stop offset="10.94%" stop-color="#2f388f"/><stop offset="12.5%" stop-color="#313d93"/><stop offset="14.06%" stop-color="#334398"/><stop offset="15.62%" stop-color="#36499d"/><stop offset="17.19%" stop-color="#3950a3"/><stop offset="18.75%" stop-color="#3a53a5"/><stop offset="20.31%" stop-color="#3b57a7"/><stop offset="21.88%" stop-color="#3c5baa"/><stop offset="23.44%" stop-color="#3e5fac"/><stop offset="25%" stop-color="#3d69b3"/><stop offset="26.56%" stop-color="#3c75bb"/><stop offset="28.12%" stop-color="#3a81c3"/><stop offset="29.69%" stop-color="#339bd5"/><stop offset="31.25%" stop-color="#2bb5e8"/><stop offset="32.81%" stop-color="#3ac3ec"/><stop offset="34.38%" stop-color="#4fc8e6"/><stop offset="35.94%" stop-color="#58c7d9"/><stop offset="37.5%" stop-color="#60c6ce"/><stop offset="39.06%" stop-color="#66c5c1"/><stop offset="40.62%" stop-color="#69c4b4"/><stop offset="42.19%" stop-color="#6cc3a8"/><stop offset="43.75%" stop-color="#6ec39f"/><stop offset="45.31%" stop-color="#70c297"/><stop offset="46.88%" stop-color="#73c290"/><stop offset="48.44%" stop-color="#75c38c"/><stop offset="50%" stop-color="#76c38a"/><stop offset="51.56%" stop-color="#76c38a"/><stop offset="53.12%" stop-color="#75c38c"/><stop offset="54.69%" stop-color="#73c290"/><stop offset="56.25%" stop-color="#70c296"/><stop offset="57.81%" stop-color="#6ec39e"/><stop offset="59.38%" stop-color="#6cc3a8"/><stop offset="60.94%" stop-color="#69c4b4"/><stop offset="62.5%" stop-color="#66c5c1"/><stop offset="64.06%" stop-color="#60c6cd"/><stop offset="65.62%" stop-color="#58c7d9"/><stop offset="67.19%" stop-color="#4fc8e6"/><stop offset="68.75%" stop-color="#3bc3ec"/><stop offset="70.31%" stop-color="#2ab6e8"/><stop offset="71.88%" stop-color="#329cd6"/><stop offset="73.44%" stop-color="#3a81c4"/><stop offset="75%" stop-color="#3c75bb"/><stop offset="76.56%" stop-color="#3d69b3"/><stop offset="78.12%" stop-color="#3e5fac"/><stop offset="79.69%" stop-color="#3c5baa"/><stop offset="81.25%" stop-color="#3b57a8"/><stop offset="82.81%" stop-color="#3a54a5"/><stop offset="84.38%" stop-color="#3950a3"/><stop offset="85.94%" stop-color="#36499d"/><stop offset="87.5%" stop-color="#334398"/><stop offset="89.06%" stop-color="#313d93"/><stop offset="90.62%" stop-color="#2f388f"/><stop offset="92.19%" stop-color="#2d358b"/><stop offset="93.75%" stop-color="#2c3388"/><stop offset="95.31%" stop-color="#2c3186"/><stop offset="96.88%" stop-color="#2b3084"/><stop offset="98.44%" stop-color="#2b2f82"/><stop offset="100%" stop-color="#2b2f82"/></linearGradient><linearGradient id="h2"><stop offset="0%" stop-color="#2b2f82"/><stop offset="1.56%" stop-color="#2b2f82"/><stop offset="3.12%" stop-color="#2b2f82"/><stop offset="4.69%" stop-color="#2b3083"/><stop offset="6.25%" stop-color="#2c3185"/><stop offset="7.81%" stop-color="#2c3388"/><stop offset="9.38%" stop-color="#2d358b"/><stop offset="10.94%" stop-color="#2e378e"/><stop offset="12.5%" stop-color="#303c92"/><stop offset="14.06%" stop-color="#324196"/><stop offset="15.62%" stop-color="#35479b"/><stop offset="17.19%" stop-color="#384da0"/><stop offset="18.75%" stop-color="#3a52a4"/><stop offset="20.31%" stop-color="#3b55a6"/><stop offset="21.88%" stop-color="#3c59a8"/><stop offset="23.44%" stop-color="#3d5cab"/><stop offset="25%" stop-color="#3e60ad"/><stop offset="26.56%" stop-color="#3d6bb5"/><stop offset="28.12%" stop-color="#3b77bc"/><stop offset="29.69%" stop-color="#3a82c4"/><stop offset="31.25%" stop-color="#3399d4"/><stop offset="32.81%" stop-color="#2cb1e5"/><stop offset="34.38%" stop-color="#33c1ed"/><stop offset="35.94%" stop-color="#4ac8eb"/><stop offset="37.5%" stop-color="#52c7e1"/><stop offset="39.06%" stop-color="#59c7d7"/><stop offset="40.62%" stop-color="#60c6ce"/><stop offset="42.19%" stop-color="#65c6c5"/><stop offset="43.75%" stop-color="#67c5bc"/><stop offset="45.31%" stop-color="#69c4b5"/><stop offset="46.88%" stop-color="#6ac4af"/><stop offset="48.44%" stop-color="#6bc4ac"/><stop offset="50%" stop-color="#6bc4aa"/><stop offset="51.56%" stop-color="#6bc4aa"/><stop offset="53.12%" stop-color="#6bc4ac"/><stop offset="54.69%" stop-color="#6ac4af"/><stop offset="56.25%" stop-color="#69c4b5"/><stop offset="57.81%" stop-color="#67c5bc"/><stop offset="59.38%" stop-color="#65c6c5"/><stop offset="60.94%" stop-color="#60c6ce"/><stop offset="62.5%" stop-color="#5ac7d7"/><stop offset="64.06%" stop-color="#53c7e0"/><stop offset="65.62%" stop-color="#4ac8eb"/><stop offset="67.19%" stop-color="#33c1ed"/><stop offset="68.75%" stop-color="#2cb2e5"/><stop offset="70.31%" stop-color="#339ad5"/><stop offset="71.88%" stop-color="#3a82c4"/><stop offset="73.44%" stop-color="#3b77bc"/><stop offset="75%" stop-color="#3d6cb5"/><stop offset="76.56%" stop-color="#3e60ad"/><stop offset="78.12%" stop-color="#3d5cab"/><stop offset="79.69%" stop-color="#3c59a8"/><stop offset="81.25%" stop-color="#3b55a6"/><stop offset="82.81%" stop-color="#3a52a4"/><stop offset="84.38%" stop-color="#384da1"/><stop offset="85.94%" stop-color="#35479b"/><stop offset="87.5%" stop-color="#324196"/><stop offset="89.06%" stop-color="#303c92"/><stop offset="90.62%" stop-color="#2e378e"/><stop offset="92.19%" stop-color="#2d358b"/><stop offset="93.75%" stop-color="#2c3388"/><stop offset="95.31%" stop-color="#2c3185"/><stop offset="96.88%" stop-color="#2b3083"/><stop offset="98.44%" stop-color="#2b2f82"/><stop offset="100%" stop-color="#2b2f82"/></linearGradient><linearGradient id="h3"><stop offset="0%" stop-color="#2b2f82"/><stop offset="1.56%" stop-color="#2b2f82"/><stop offset="3.12%" stop-color="#2b2f82"/><stop offset="4.69%" stop-color="#2b3083"/><stop offset="6.25%" stop-color="#2c3185"/><stop offset="7.81%" stop-color="#2c3287"/><stop offset="9.38%" stop-color="#2d348a"/><stop offset="10.94%" stop-color="#2e378d"/><stop offset="12.5%" stop-color="#303b91"/><stop offset="14.06%" stop-color="#323f95"/><stop offset="15.62%" stop-color="#34459a"/><stop offset="17.19%" stop-color="#374b9f"/><stop offset="18.75%" stop-color="#3950a3"/><stop offset="20.31%" stop-color="#3a54a5"/><stop offset="21.88%" stop-color="#3b57a7"/><stop offset="23.44%" stop-color="#3c5aaa"/><stop offset="25%" stop-color="#3d5eac"/><stop offset="26.56%" stop-color="#3e64b0"/><stop offset="28.12%" stop-color="#3c6fb7"/><stop offset="29.69%" stop-color="#3b79be"/><stop offset="31.25%" stop-color="#3985c6"/><stop offset="32.81%" stop-color="#339bd5"/><stop offset="34.38%" stop-color="#2cb0e4"/><stop offset="35.94%" stop-color="#2fc0ed"/><stop offset="37.5%" stop-color="#43c6ec"/><stop offset="39.06%" stop-color="#4fc8e6"/><stop offset="40.62%" stop-color="#55c7dd"/><stop offset="42.19%" stop-color="#5ac7d6"/><stop offset="43.75%" stop-color="#5ec6d0"/><stop offset="45.31%" stop-color="#62c6cb"/><stop offset="46.88%" stop-color="#64c6c6"/><stop offset="48.44%" stop-color="#65c6c3"/><stop offset="50%" stop-color="#66c5c1"/><stop offset="51.56%" stop-color="#66c5c1"/><stop offset="53.12%" stop-color="#65c6c3"/><stop offset="54.69%" stop-color="#64c6c6"/><stop offset="56.25%" stop-color="#62c6cb"/><stop offset="57.81%" stop-color="#5fc6d0"/><stop offset="59.38%" stop-color="#5ac7d6"/><stop offset="60.94%" stop-color="#55c7dd"/><stop offset="62.5%" stop-color="#4fc8e5"/><stop offset="64.06%" stop-color="#43c6ec"/><stop offset="65.62%" stop-color="#2fc0ed"/><stop offset="67.19%" stop-color="#2cb0e5"/><stop offset="68.75%" stop-color="#329bd6"/><stop offset="70.31%" stop-color="#3985c6"/><stop offset="71.88%" stop-color="#3b79be"/><stop offset="73.44%" stop-color="#3c6fb7"/><stop offset="75%" stop-color="#3d64b0"/><stop offset="76.56%" stop-color="#3d5eac"/><stop offset="78.12%" stop-color="#3c5aaa"/><stop offset="79.69%" stop-color="#3b57a7"/><stop offset="81.25%" stop-color="#3a54a5"/><stop offset="82.81%" stop-color="#3951a3"/><stop offset="84.38%" stop-color="#374b9f"/><stop offset="85.94%" stop-color="#34459a"/><stop offset="87.5%" stop-color="#324095"/><stop offset="89.06%" stop-color="#303b91"/><stop offset="90.62%" stop-color="#2e378d"/><stop offset="92.19%" stop-color="#2d348a"/><stop offset="93.75%" stop-color="#2c3387"/><stop offset="95.31%" stop-color="#2c3185"/><stop offset="96.88%" stop-color="#2b3083"/><stop offset="98.44%" stop-color="#2b2f82"/><stop offset="100%" stop-color="#2b2f82"/></linearGradient><linearGradient id="h4"><stop offset="0%" stop-color="#2b2f82"/><stop offset="1.56%" stop-color="#2b2f82"/><stop offset="3.12%" stop-color="#2b2f82"/><stop offset="4.69%" stop-color="#2b3083"/><stop offset="6.25%" stop-color="#2c3185"/><stop offset="7.81%" stop-color="#2c3287"/><stop offset="9.38%" stop-color="#2d3489"/><stop offset="10.94%" stop-color="#2e368d"/><stop offset="12.5%" stop-color="#2f3990"/><stop offset="14.06%" stop-color="#313e94"/><stop offset="15.62%" stop-color="#334398"/><stop offset="17.19%" stop-color="#36499d"/><stop offset="18.75%" stop-color="#384ea2"/><stop offset="20.31%" stop-color="#3a52a4"/><stop offset="21.88%" stop-color="#3b55a6"/><stop offset="23.44%" stop-color="#3c58a8"/><stop offset="25%" stop-color="#3d5caa"/><stop offset="26.56%" stop-color="#3e5fac"/><stop offset="28.12%" stop-color="#3d67b2"/><stop offset="29.69%" stop-color="#3c70b8"/><stop offset="31.25%" stop-color="#3b7abf"/><stop offset="32.81%" stop-color="#3985c6"/><stop offset="34.38%" stop-color="#3398d4"/><stop offset="35.94%" stop-color="#2eabe1"/><stop offset="37.5%" stop-color="#28bced"/><stop offset="39.06%" stop-color="#38c3ed"/><stop offset="40.62%" stop-color="#48c7eb"/><stop offset="42.19%" stop-color="#4fc8e6"/><stop offset="43.75%" stop-color="#53c7e0"/><stop offset="45.31%" stop-color="#56c7db"/><stop offset="46.88%" stop-color="#59c7d8"/><stop offset="48.44%" stop-color="#5bc7d5"/><stop offset="50%" stop-color="#5bc7d4"/><stop offset="51.56%" stop-color="#5bc7d4"/><stop offset="53.12%" stop-color="#5bc7d5"/><stop offset="54.69%" stop-color="#59c7d8"/><stop offset="56.25%" stop-color="#56c7db"/><stop offset="57.81%" stop-color="#53c7e0"/><stop offset="59.38%" stop-color="#4fc8e6"/><stop offset="60.94%" stop-color="#48c7eb"/><stop offset="62.5%" stop-color="#38c3ed"/><stop offset="64.06%" stop-color="#28bded"/><stop offset="65.62%" stop-color="#2eace1"/><stop offset="67.19%" stop-color="#3399d4"/><stop offset="68.75%" stop-color="#3985c6"/><stop offset="70.31%" stop-color="#3b7abf"/><stop offset="71.88%" stop-color="#3c71b8"/><stop offset="73.44%" stop-color="#3d67b2"/><stop offset="75%" stop-color="#3e5fac"/><stop offset="76.56%" stop-color="#3d5caa"/><stop offset="78.12%" stop-color="#3c59a8"/><stop offset="79.69%" stop-color="#3b55a6"/><stop offset="81.25%" stop-color="#3a52a4"/><stop offset="82.81%" stop-color="#384ea2"/><stop offset="84.38%" stop-color="#36499d"/><stop offset="85.94%" stop-color="#334398"/><stop offset="87.5%" stop-color="#313e94"/><stop offset="89.06%" stop-color="#2f3990"/><stop offset="90.62%" stop-color="#2e368d"/><stop offset="92.19%" stop-color="#2d348a"/><stop offset="93.75%" stop-color="#2c3287"/><stop offset="95.31%" stop-color="#2c3185"/><stop offset="96.88%" stop-color="#2b3083"/><stop offset="98.44%" stop-color="#2b2f82"/><stop offset="100%" stop-color="#2b2f82"/></linearGradient><linearGradient id="h5"><stop offset="0%" stop-color="#2b2f82"/><stop offset="1.56%" stop-color="#2b2f82"/><stop offset="3.12%" stop-color="#2b2f82"/><stop offset="4.69%" stop-color="#2b3083"/><stop offset="6.25%" stop-color="#2b3184"/><stop offset="7.81%" stop-color="#2c3286"/><stop offset="9.38%" stop-color="#2d3389"/><stop offset="10.94%" stop-color="#2d358c"/><stop offset="12.5%" stop-color="#2e388f"/><stop offset="14.06%" stop-color="#303c92"/><stop offset="15.62%" stop-color="#324196"/><stop offset="17.19%" stop-color="#34469a"/><stop offset="18.75%" stop-color="#374b9f"/><stop offset="20.31%" stop-color="#3950a3"/><stop offset="21.88%" stop-color="#3a53a5"/><stop offset="23.44%" stop-color="#3b56a7"/><stop offset="25%" stop-color="#3c59a9"/><stop offset="26.56%" stop-color="#3d5caa"/><stop offset="28.12%" stop-color="#3e5fac"/><stop offset="29.69%" stop-color="#3d65b0"/><stop offset="31.25%" stop-color="#3c6eb6"/><stop offset="32.81%" stop-color="#3b76bc"/><stop offset="34.38%" stop-color="#3a7ec1"/><stop offset="35.94%" stop-color="#388aca"/><stop offset="37.5%" stop-color="#339ad5"/><stop offset="39.06%" stop-color="#2fa8df"/><stop offset="40.62%" stop-color="#2bb5e8"/><stop offset="42.19%" stop-color="#2bbfee"/><stop offset="43.75%" stop-color="#35c2ed"/><stop offset="45.31%" stop-color="#3ec4ec"/><stop offset="46.88%" stop-color="#45c6ec"/><stop offset="48.44%" stop-color="#49c7eb"/><stop offset="50%" stop-color="#4bc8eb"/><stop offset="51.56%" stop-color="#4bc8eb"/><stop offset="53.12%" stop-color="#49c7eb"/><stop offset="54.69%" stop-color="#45c6ec"/><stop offset="56.25%" stop-color="#3ec4ec"/><stop offset="57.81%" stop-color="#36c2ed"/><stop offset="59.38%" stop-color="#2bbfee"/><stop offset="60.94%" stop-color="#2bb5e8"/><stop offset="62.5%" stop-color="#2ea9df"/><stop offset="64.06%" stop-color="#339ad5"/><stop offset="65.62%" stop-color="#388aca"/><stop offset="67.19%" stop-color="#3a7ec1"/><stop offset="68.75%" stop-color="#3b76bc"/><stop offset="70.31%" stop-color="#3c6eb6"/><stop offset="71.88%" stop-color="#3d65b1"/><stop offset="73.44%" stop-color="#3e5fac"/><stop offset="75%" stop-color="#3d5caa"/><stop offset="76.56%" stop-color="#3c59a9"/><stop offset="78.12%" stop-color="#3b56a7"/><stop offset="79.69%" stop-color="#3a53a5"/><stop offset="81.25%" stop-color="#3950a3"/><stop offset="82.81%" stop-color="#374b9f"/><stop offset="84.38%" stop-color="#34469a"/><stop offset="85.94%" stop-color="#324196"/><stop offset="87.5%" stop-color="#303c92"/><stop offset="89.06%" stop-color="#2e388f"/><stop offset="90.62%" stop-color="#2d358c"/><stop offset="92.19%" stop-color="#2d3489"/><stop offset="93.75%" stop-color="#2c3286"/><stop offset="95.31%" stop-color="#2b3185"/><stop offset="96.88%" stop-color="#2b3083"/><stop offset="98.44%" stop-color="#2b2f82"/><stop offset="100%" stop-color="#2b2f82"/></linearGradient><linearGradient id="h6"><stop offset="0%" stop-color="#2b2f82"/><stop offset="1.56%" stop-color="#2b2f82"/><stop offset="3.12%" stop-color="#2b2f82"/><stop offset="4.69%" stop-color="#2b3083"/><stop offset="6.25%" stop-color="#2b3084"/><stop offset="7.81%" stop-color="#2c3286"/><stop offset="9.38%" stop-color="#2c3388"/><stop offset="10.94%" stop-color="#2d358b"/><stop offset="12.5%" stop-color="#2e378e"/><stop offset="14.06%" stop-color="#303b91"/><stop offset="15.62%" stop-color="#313f95"/><stop offset="17.19%" stop-color="#334398"/><stop offset="18.75%" stop-color="#36489c"/><stop offset="20.31%" stop-color="#384da1"/><stop offset="21.88%" stop-color="#3951a4"/><stop offset="23.44%" stop-color="#3a54a5"/><stop offset="25%" stop-color="#3b57a7"/><stop offset="26.56%" stop-color="#3c59a9"/><stop offset="28.12%" stop-color="#3d5cab"/><stop offset="29.69%" stop-color="#3e5fac"/><stop offset="31.25%" stop-color="#3d65b0"/><stop offset="32.81%" stop-color="#3d6cb5"/><stop offset="34.38%" stop-color="#3c74ba"/><stop offset="35.94%" stop-color="#3b7bbf"/><stop offset="37.5%" stop-color="#3a81c3"/><stop offset="39.06%" stop-color="#378dcc"/><stop offset="40.62%" stop-color="#3399d4"/><stop offset="42.19%" stop-color="#30a4db"/><stop offset="43.75%" stop-color="#2dace2"/><stop offset="45.31%" stop-color="#2bb4e7"/><stop offset="46.88%" stop-color="#29b9eb"/><stop offset="48.44%" stop-color="#28bded"/><stop offset="50%" stop-color="#29beee"/><stop offset="51.56%" stop-color="#29beee"/><stop offset="53.12%" stop-color="#28bded"/><stop offset="54.69%" stop-color="#29b9eb"/><stop offset="56.25%" stop-color="#2bb4e7"/><stop offset="57.81%" stop-color="#2dade2"/><stop offset="59.38%" stop-color="#30a4dc"/><stop offset="60.94%" stop-color="#3399d4"/><stop offset="62.5%" stop-color="#378dcc"/><stop offset="64.06%" stop-color="#3a81c3"/><stop offset="65.62%" stop-color="#3b7bbf"/><stop offset="67.19%" stop-color="#3c74ba"/><stop offset="68.75%" stop-color="#3d6cb5"/><stop offset="70.31%" stop-color="#3d65b0"/><stop offset="71.88%" stop-color="#3e5fac"/><stop offset="73.44%" stop-color="#3d5cab"/><stop offset="75%" stop-color="#3c5aa9"/><stop offset="76.56%" stop-color="#3b57a7"/><stop offset="78.12%" stop-color="#3a54a6"/><stop offset="79.69%" stop-color="#3951a4"/><stop offset="81.25%" stop-color="#384da1"/><stop offset="82.81%" stop-color="#36489d"/><stop offset="84.38%" stop-color="#334398"/><stop offset="85.94%" stop-color="#313f95"/><stop offset="87.5%" stop-color="#303b91"/><stop offset="89.06%" stop-color="#2e378e"/><stop offset="90.62%" stop-color="#2d358b"/><stop offset="92.19%" stop-color="#2c3388"/><stop offset="93.75%" stop-color="#2c3286"/><stop offset="95.31%" stop-color="#2b3184"/><stop offset="96.88%" stop-color="#2b3083"/><stop offset="98.44%" stop-color="#2b2f82"/><stop offset="100%" stop-color="#2b2f82"/></linearGradient><linearGradient id="h7"><stop offset="0%" stop-color="#2b2f82"/><stop offset="1.56%" stop-color="#2b2f82"/><stop offset="3.12%" stop-color="#2b2f82"/><stop offset="4.69%" stop-color="#2b3083"/><stop offset="6.25%" stop-color="#2b3084"/><stop offset="7.81%" stop-color="#2c3186"/><stop offset="9.38%" stop-color="#2c3388"/><stop offset="10.94%" stop-color="#2d348a"/><stop offset="12.5%" stop-color="#2e368d"/><stop offset="14.06%" stop-color="#2f3990"/><stop offset="15.62%" stop-color="#313d93"/><stop offset="17.19%" stop-color="#324197"/><stop offset="18.75%" stop-color="#34469a"/><stop offset="20.31%" stop-color="#364a9e"/><stop offset="21.88%" stop-color="#394fa2"/><stop offset="23.44%" stop-color="#3a52a4"/><stop offset="25%" stop-color="#3a55a6"/><stop offset="26.56%" stop-color="#3b57a7"/><stop offset="28.12%" stop-color="#3c5aa9"/><stop offset="29.69%" stop-color="#3d5cab"/><stop offset="31.25%" stop-color="#3e5eac"/><stop offset="32.81%" stop-color="#3e62af"/><stop offset="34.38%" stop-color="#3d69b3"/><stop offset="35.94%" stop-color="#3c70b8"/><stop offset="37.5%" stop-color="#3b75bc"/><stop offset="39.06%" stop-color="#3b7bbf"/><stop offset="40.62%" stop-color="#3a80c2"/><stop offset="42.19%" stop-color="#3987c7"/><stop offset="43.75%" stop-color="#368fcd"/><stop offset="45.31%" stop-color="#3495d2"/><stop offset="46.88%" stop-color="#339ad5"/><stop offset="48.44%" stop-color="#329ed8"/><stop offset="50%" stop-color="#31a0d9"/><stop offset="51.56%" stop-color="#31a0d9"/><stop offset="53.12%" stop-color="#329ed8"/><stop offset="54.69%" stop-color="#339bd5"/><stop offset="56.25%" stop-color="#3496d2"/><stop offset="57.81%" stop-color="#368fcd"/><stop offset="59.38%" stop-color="#3987c7"/><stop offset="60.94%" stop-color="#3a80c3"/><stop offset="62.5%" stop-color="#3b7bbf"/><stop offset="64.06%" stop-color="#3b76bc"/><stop offset="65.62%" stop-color="#3c70b8"/><stop offset="67.19%" stop-color="#3d69b3"/><stop offset="68.75%" stop-color="#3e63af"/><stop offset="70.31%" stop-color="#3e5fac"/><stop offset="71.88%" stop-color="#3d5cab"/><stop offset="73.44%" stop-color="#3c5aa9"/><stop offset="75%" stop-color="#3b57a7"/><stop offset="76.56%" stop-color="#3a55a6"/><stop offset="78.12%" stop-color="#3a52a4"/><stop offset="79.69%" stop-color="#394fa2"/><stop offset="81.25%" stop-color="#374a9e"/><stop offset="82.81%" stop-color="#34469a"/><stop offset="84.38%" stop-color="#334197"/><stop offset="85.94%" stop-color="#313d93"/><stop offset="87.5%" stop-color="#2f3990"/><stop offset="89.06%" stop-color="#2e368d"/><stop offset="90.62%" stop-color="#2d348a"/><stop offset="92.19%" stop-color="#2c3388"/><stop offset="93.75%" stop-color="#2c3186"/><stop offset="95.31%" stop-color="#2b3084"/><stop offset="96.88%" stop-color="#2b3083"/><stop offset="98.44%" stop-color="#2b2f82"/><stop offset="100%" stop-color="#2b2f82"/></linearGradient><linearGradient id="h8"><stop offset="0%" stop-color="#2b2f82"/><stop offset="1.56%" stop-color="#2b2f82"/><stop offset="3.12%" stop-color="#2b2f82"/><stop offset="4.69%" stop-color="#2b2f83"/><stop offset="6.25%" stop-color="#2b3084"/><stop offset="7.81%" stop-color="#2c3185"/><stop offset="9.38%" stop-color="#2c3287"/><stop offset="10.94%" stop-color="#2d3489"/><stop offset="12.5%" stop-color="#2d358c"/><stop offset="14.06%" stop-color="#2e388e"/><stop offset="15.62%" stop-color="#303b91"/><stop offset="17.19%" stop-color="#313f95"/><stop offset="18.75%" stop-color="#334398"/><stop offset="20.31%" stop-color="#35479c"/><stop offset="21.88%" stop-color="#374c9f"/><stop offset="23.44%" stop-color="#3950a3"/><stop offset="25%" stop-color="#3a52a4"/><stop offset="26.56%" stop-color="#3a55a6"/><stop offset="28.12%" stop-color="#3b57a7"/><stop offset="29.69%" stop-color="#3c59a9"/><stop offset="31.25%" stop-color="#3d5baa"/><stop offset="32.81%" stop-color="#3d5eab"/><stop offset="34.38%" stop-color="#3e60ad"/><stop offset="35.94%" stop-color="#3d65b0"/><stop offset="37.5%" stop-color="#3d6ab4"/><stop offset="39.06%" stop-color="#3c6fb7"/><stop offset="40.62%" stop-color="#3c73ba"/><stop offset="42.19%" stop-color="#3b77bd"/><stop offset="43.75%" stop-color="#3b7bbf"/><stop offset="45.31%" stop-color="#3b7dc1"/><stop offset="46.88%" stop-color="#3a7fc2"/><stop offset="48.44%" stop-color="#3a81c3"/><stop offset="50%" stop-color="#3a81c4"/><stop offset="51.56%" stop-color="#3a81c4"/><stop offset="53.12%" stop-color="#3a81c3"/><stop offset="54.69%" stop-color="#3a7fc2"/><stop offset="56.25%" stop-color="#3b7dc1"/><stop offset="57.81%" stop-color="#3b7bbf"/><stop offset="59.38%" stop-color="#3b77bd"/><stop offset="60.94%" stop-color="#3c73ba"/><stop offset="62.5%" stop-color="#3c6fb7"/><stop offset="64.06%" stop-color="#3d6ab4"/><stop offset="65.62%" stop-color="#3d65b0"/><stop offset="67.19%" stop-color="#3e60ad"/><stop offset="68.75%" stop-color="#3d5eac"/><stop offset="70.31%" stop-color="#3d5baa"/><stop offset="71.88%" stop-color="#3c59a9"/><stop offset="73.44%" stop-color="#3b57a7"/><stop offset="75%" stop-color="#3a55a6"/><stop offset="76.56%" stop-color="#3a52a5"/><stop offset="78.12%" stop-color="#3950a3"/><stop offset="79.69%" stop-color="#374c9f"/><stop offset="81.25%" stop-color="#35479c"/><stop offset="82.81%" stop-color="#334398"/><stop offset="84.38%" stop-color="#323f95"/><stop offset="85.94%" stop-color="#303b92"/><stop offset="87.5%" stop-color="#2e388f"/><stop offset="89.06%" stop-color="#2d368c"/><stop offset="90.62%" stop-color="#2d3489"/><stop offset="92.19%" stop-color="#2c3287"/><stop offset="93.75%" stop-color="#2c3185"/><stop offset="95.31%" stop-color="#2b3084"/><stop offset="96.88%" stop-color="#2b2f83"/><stop offset="98.44%" stop-color="#2b2f82"/><stop offset="100%" stop-color="#2b2f82"/></linearGradient><linearGradient id="h9"><stop offset="0%" stop-color="#2b2f82"/><stop offset="1.56%" stop-color="#2b2f82"/><stop offset="3.12%" stop-color="#2b2f82"/><stop offset="4.69%" stop-color="#2b2f83"/><stop offset="6.25%" stop-color="#2b3084"/><stop offset="7.81%" stop-color="#2c3185"/><stop offset="9.38%" stop-color="#2c3287"/><stop offset="10.94%" stop-color="#2d3389"/><stop offset="12.5%" stop-color="#2d358b"/><stop offset="14.06%" stop-color="#2e368d"/><stop offset="15.62%" stop-color="#2f3990"/><stop offset="17.19%" stop-color="#313d93"/><stop offset="18.75%" stop-color="#324096"/><stop offset="20.31%" stop-color="#344499"/><stop offset="21.88%" stop-color="#36489c"/><stop offset="23.44%" stop-color="#374ca0"/><stop offset="25%" stop-color="#3950a3"/><stop offset="26.56%" stop-color="#3a52a4"/><stop offset="28.12%" stop-color="#3a54a6"/><stop offset="29.69%" stop-color="#3b56a7"/><stop offset="31.25%" stop-color="#3c58a8"/><stop offset="32.81%" stop-color="#3c5aa9"/><stop offset="34.38%" stop-color="#3d5cab"/><stop offset="35.94%" stop-color="#3d5eac"/><stop offset="37.5%" stop-color="#3e60ad"/><stop offset="39.06%" stop-color="#3e63af"/><stop offset="40.62%" stop-color="#3d67b2"/><stop offset="42.19%" stop-color="#3d6ab4"/><stop offset="43.75%" stop-color="#3c6db6"/><stop offset="45.31%" stop-color="#3c70b8"/><stop offset="46.88%" stop-color="#3c72b9"/><stop offset="48.44%" stop-color="#3c73ba"/><stop offset="50%" stop-color="#3c74ba"/><stop offset="51.56%" stop-color="#3c74ba"/><stop offset="53.12%" stop-color="#3c73ba"/><stop offset="54.69%" stop-color="#3c72b9"/><stop offset="56.25%" stop-color="#3c70b8"/><stop offset="57.81%" stop-color="#3c6eb6"/><stop offset="59.38%" stop-color="#3d6bb4"/><stop offset="60.94%" stop-color="#3d67b2"/><stop offset="62.5%" stop-color="#3e63af"/><stop offset="64.06%" stop-color="#3e60ad"/><stop offset="65.62%" stop-color="#3d5eac"/><stop offset="67.19%" stop-color="#3d5cab"/><stop offset="68.75%" stop-color="#3c5aa9"/><stop offset="70.31%" stop-color="#3c58a8"/><stop offset="71.88%" stop-color="#3b56a7"/><stop offset="73.44%" stop-color="#3a54a6"/><stop offset="75%" stop-color="#3a52a4"/><stop offset="76.56%" stop-color="#3950a3"/><stop offset="78.12%" stop-color="#374ca0"/><stop offset="79.69%" stop-color="#36489d"/><stop offset="81.25%" stop-color="#344499"/><stop offset="82.81%" stop-color="#324196"/><stop offset="84.38%" stop-color="#313d93"/><stop offset="85.94%" stop-color="#2f3990"/><stop offset="87.5%" stop-color="#2e378d"/><stop offset="89.06%" stop-color="#2d358b"/><stop offset="90.62%" stop-color="#2d3389"/><stop offset="92.19%" stop-color="#2c3287"/><stop offset="93.75%" stop-color="#2c3185"/><stop offset="95.31%" stop-color="#2b3084"/><stop offset="96.88%" stop-color="#2b2f83"/><stop offset="98.44%" stop-color="#2b2f82"/><stop offset="100%" stop-color="#2b2f82"/></linearGradient><linearGradient id="h10"><stop offset="0%" stop-color="#2b2f82"/><stop offset="1.56%" stop-color="#2b2f82"/><stop offset="3.12%" stop-color="#2b2f82"/><stop offset="4.69%" stop-color="#2b2f82"/><stop offset="6.25%" stop-color="#2b3083"/><stop offset="7.81%" stop-color="#2b3185"/><stop offset="9.38%" stop-color="#2c3286"/><stop offset="10.94%" stop-color="#2c3388"/><stop offset="12.5%" stop-color="#2d348a"/><stop offset="14.06%" stop-color="#2d368c"/><stop offset="15.62%" stop-color="#2e378e"/><stop offset="17.19%" stop-color="#303b91"/><stop offset="18.75%" stop-color="#313e94"/><stop offset="20.31%" stop-color="#334197"/><stop offset="21.88%" stop-color="#34459a"/><stop offset="23.44%" stop-color="#36489d"/><stop offset="25%" stop-color="#374ca0"/><stop offset="26.56%" stop-color="#3950a3"/><stop offset="28.12%" stop-color="#3a52a4"/><stop offset="29.69%" stop-color="#3a54a5"/><stop offset="31.25%" stop-color="#3b55a6"/><stop offset="32.81%" stop-color="#3b57a7"/><stop offset="34.38%" stop-color="#3c59a8"/><stop offset="35.94%" stop-color="#3c5aa9"/><stop offset="37.5%" stop-color="#3d5caa"/><stop offset="39.06%" stop-color="#3d5dab"/><stop offset="40.62%" stop-color="#3d5eac"/><stop offset="42.19%" stop-color="#3e5fad"/><stop offset="43.75%" stop-color="#3e60ad"/><stop offset="45.31%" stop-color="#3e63af"/><stop offset="46.88%" stop-color="#3e64b0"/><stop offset="48.44%" stop-color="#3d65b1"/><stop offset="50%" stop-color="#3d66b1"/><stop offset="51.56%" stop-color="#3d66b1"/><stop offset="53.12%" stop-color="#3d65b1"/><stop offset="54.69%" stop-color="#3e64b0"/><stop offset="56.25%" stop-color="#3e63af"/><stop offset="57.81%" stop-color="#3e60ad"/><stop offset="59.38%" stop-color="#3e5fad"/><stop offset="60.94%" stop-color="#3d5eac"/><stop offset="62.5%" stop-color="#3d5dab"/><stop offset="64.06%" stop-color="#3d5caa"/><stop offset="65.62%" stop-color="#3c5aa9"/><stop offset="67.19%" stop-color="#3c59a8"/><stop offset="68.75%" stop-color="#3b57a7"/><stop offset="70.31%" stop-color="#3b55a6"/><stop offset="71.88%" stop-color="#3a54a5"/><stop offset="73.44%" stop-color="#3a52a4"/><stop offset="75%" stop-color="#3950a3"/><stop offset="76.56%" stop-color="#374ca0"/><stop offset="78.12%" stop-color="#36499d"/><stop offset="79.69%" stop-color="#34459a"/><stop offset="81.25%" stop-color="#334197"/><stop offset="82.81%" stop-color="#313e94"/><stop offset="84.38%" stop-color="#303b91"/><stop offset="85.94%" stop-color="#2e388e"/><stop offset="87.5%" stop-color="#2d368c"/><stop offset="89.06%" stop-color="#2d348a"/><stop offset="90.62%" stop-color="#2c3388"/><stop offset="92.19%" stop-color="#2c3286"/><stop offset="93.75%" stop-color="#2b3185"/><stop offset="95.31%" stop-color="#2b3083"/><stop offset="96.88%" stop-color="#2b2f82"/><stop offset="98.44%" stop-color="#2b2f82"/><stop offset="100%" stop-color="#2b2f82"/></linearGradient><linearGradient id="h11"><stop offset="0%" stop-color="#2b2f82"/><stop offset="1.56%" stop-color="#2b2f82"/><stop offset="3.12%" stop-color="#2b2f82"/><stop offset="4.69%" stop-color="#2b2f82"/><stop offset="6.25%" stop-color="#2b3083"/><stop offset="7.81%" stop-color="#2b3084"/><stop offset="9.38%" stop-color="#2c3185"/><stop offset="10.94%" stop-color="#2c3287"/><stop offset="12.5%" stop-color="#2d3489"/><stop offset="14.06%" stop-color="#2d358b"/><stop offset="15.62%" stop-color="#2e368d"/><stop offset="17.19%" stop-color="#2f388f"/><stop offset="18.75%" stop-color="#303b92"/><stop offset="20.31%" stop-color="#313e94"/><stop offset="21.88%" stop-color="#334197"/><stop offset="23.44%" stop-color="#344599"/><stop offset="25%" stop-color="#35489c"/><stop offset="26.56%" stop-color="#374b9f"/><stop offset="28.12%" stop-color="#384ea2"/><stop offset="29.69%" stop-color="#3951a4"/><stop offset="31.25%" stop-color="#3a52a4"/><stop offset="32.81%" stop-color="#3a54a5"/><stop offset="34.38%" stop-color="#3b55a6"/><stop offset="35.94%" stop-color="#3b57a7"/><stop offset="37.5%" stop-color="#3b58a8"/><stop offset="39.06%" stop-color="#3c59a9"/><stop offset="40.62%" stop-color="#3c5aa9"/><stop offset="42.19%" stop-color="#3c5baa"/><stop offset="43.75%" stop-color="#3d5caa"/><stop offset="45.31%" stop-color="#3d5cab"/><stop offset="46.88%" stop-color="#3d5dab"/><stop offset="48.44%" stop-color="#3d5dab"/><stop offset="50%" stop-color="#3d5dab"/><stop offset="51.56%" stop-color="#3d5dab"/><stop offset="53.12%" stop-color="#3d5dab"/><stop offset="54.69%" stop-color="#3d5dab"/><stop offset="56.25%" stop-color="#3d5cab"/><stop offset="57.81%" stop-color="#3d5caa"/><stop offset="59.38%" stop-color="#3c5baa"/><stop offset="60.94%" stop-color="#3c5aa9"/><stop offset="62.5%" stop-color="#3c59a9"/><stop offset="64.06%" stop-color="#3b58a8"/><stop offset="65.62%" stop-color="#3b57a7"/><stop offset="67.19%" stop-color="#3b55a6"/><stop offset="68.75%" stop-color="#3a54a5"/><stop offset="70.31%" stop-color="#3a52a4"/><stop offset="71.88%" stop-color="#3951a4"/><stop offset="73.44%" stop-color="#384ea2"/><stop offset="75%" stop-color="#374b9f"/><stop offset="76.56%" stop-color="#35489c"/><stop offset="78.12%" stop-color="#344599"/><stop offset="79.69%" stop-color="#334197"/><stop offset="81.25%" stop-color="#313e94"/><stop offset="82.81%" stop-color="#303b92"/><stop offset="84.38%" stop-color="#2f388f"/><stop offset="85.94%" stop-color="#2e368d"/><stop offset="87.5%" stop-color="#2d358b"/><stop offset="89.06%" stop-color="#2d3489"/><stop offset="90.62%" stop-color="#2c3287"/><stop offset="92.19%" stop-color="#2c3186"/><stop offset="93.75%" stop-color="#2b3084"/><stop offset="95.31%" stop-color="#2b3083"/><stop offset="96.88%" stop-color="#2b2f82"/><stop offset="98.44%" stop-color="#2b2f82"/><stop offset="100%" stop-color="#2b2f82"/></linearGradient><linearGradient id="h12"><stop offset="0%" stop-color="#2b2f82"/><stop offset="1.56%" stop-color="#2b2f82"/><stop offset="3.12%" stop-color="#2b2f82"/><stop offset="4.69%" stop-color="#2b2f82"/><stop offset="6.25%" stop-color="#2b3083"/><stop offset="7.81%" stop-color="#2b3084"/><stop offset="9.38%" stop-color="#2c3185"/><stop offset="10.94%" stop-color="#2c3287"/><stop offset="12.5%" stop-color="#2c3388"/><stop offset="14.06%" stop-color="#2d348a"/><stop offset="15.62%" stop-color="#2d368c"/><stop offset="17.19%" stop-color="#2e378e"/><stop offset="18.75%" stop-color="#2f3990"/><stop offset="20.31%" stop-color="#303c92"/><stop offset="21.88%" stop-color="#323f95"/><stop offset="23.44%" stop-color="#334297"/><stop offset="25%" stop-color="#34459a"/><stop offset="26.56%" stop-color="#35489c"/><stop offset="28.12%" stop-color="#374b9f"/><stop offset="29.69%" stop-color="#384ea1"/><stop offset="31.25%" stop-color="#3950a3"/><stop offset="32.81%" stop-color="#3a52a4"/><stop offset="34.38%" stop-color="#3a53a5"/><stop offset="35.94%" stop-color="#3a54a6"/><stop offset="37.5%" stop-color="#3b55a6"/><stop offset="39.06%" stop-color="#3b56a7"/><stop offset="40.62%" stop-color="#3b57a8"/><stop offset="42.19%" stop-color="#3c58a8"/><stop offset="43.75%" stop-color="#3c59a9"/><stop offset="45.31%" stop-color="#3c59a9"/><stop offset="46.88%" stop-color="#3c5aa9"/><stop offset="48.44%" stop-color="#3c5aa9"/><stop offset="50%" stop-color="#3c5aa9"/><stop offset="51.56%" stop-color="#3c5aa9"/><stop offset="53.12%" stop-color="#3c5aa9"/><stop offset="54.69%" stop-color="#3c5aa9"/><stop offset="56.25%" stop-color="#3c5aa9"/><stop offset="57.81%" stop-color="#3c59a9"/><stop offset="59.38%" stop-color="#3c58a8"/><stop offset="60.94%" stop-color="#3b57a8"/><stop offset="62.5%" stop-color="#3b56a7"/><stop offset="64.06%" stop-color="#3b55a6"/><stop offset="65.62%" stop-color="#3a54a6"/><stop offset="67.19%" stop-color="#3a53a5"/><stop offset="68.75%" stop-color="#3a52a4"/><stop offset="70.31%" stop-color="#3950a3"/><stop offset="71.88%" stop-color="#384ea1"/><stop offset="73.44%" stop-color="#374b9f"/><stop offset="75%" stop-color="#35489c"/><stop offset="76.56%" stop-color="#34459a"/><stop offset="78.12%" stop-color="#334297"/><stop offset="79.69%" stop-color="#323f95"/><stop offset="81.25%" stop-color="#303c92"/><stop offset="82.81%" stop-color="#2f3a90"/><stop offset="84.38%" stop-color="#2e378e"/><stop offset="85.94%" stop-color="#2d368c"/><stop offset="87.5%" stop-color="#2d348a"/><stop offset="89.06%" stop-color="#2c3388"/><stop offset="90.62%" stop-color="#2c3287"/><stop offset="92.19%" stop-color="#2c3185"/><stop offset="93.75%" stop-color="#2b3084"/><stop offset="95.31%" stop-color="#2b3083"/><stop offset="96.88%" stop-color="#2b2f82"/><stop offset="98.44%" stop-color="#2b2f82"/><stop offset="100%" stop-color="#2b2f82"/></linearGradient><linearGradient id="h13"><stop offset="0%" stop-color="#2b2f82"/><stop offset="1.56%" stop-color="#2b2f82"/><stop offset="3.12%" stop-color="#2b2f82"/><stop offset="4.69%" stop-color="#2b2f82"/><stop offset="6.25%" stop-color="#2b3083"/><stop offset="7.81%" stop-color="#2b3084"/><stop offset="9.38%" stop-color="#2b3185"/><stop offset="10.94%" stop-color="#2c3286"/><stop offset="12.5%" stop-color="#2c3287"/><stop offset="14.06%" stop-color="#2d3389"/><stop offset="15.62%" stop-color="#2d358a"/><stop offset="17.19%" stop-color="#2d368c"/><stop offset="18.75%" stop-color="#2e378e"/><stop offset="20.31%" stop-color="#2f3990"/><stop offset="21.88%" stop-color="#303c92"/><stop offset="23.44%" stop-color="#313e94"/><stop offset="25%" stop-color="#324196"/><stop offset="26.56%" stop-color="#334398"/><stop offset="28.12%" stop-color="#34469a"/><stop offset="29.69%" stop-color="#36489c"/><stop offset="31.25%" stop-color="#374b9e"/><stop offset="32.81%" stop-color="#384da0"/><stop offset="34.38%" stop-color="#394fa2"/><stop offset="35.94%" stop-color="#3951a3"/><stop offset="37.5%" stop-color="#3a52a4"/><stop offset="39.06%" stop-color="#3a53a5"/><stop offset="40.62%" stop-color="#3a53a5"/><stop offset="42.19%" stop-color="#3a54a6"/><stop offset="43.75%" stop-color="#3a55a6"/><stop offset="45.31%" stop-color="#3b55a6"/><stop offset="46.88%" stop-color="#3b55a6"/><stop offset="48.44%" stop-color="#3b56a7"/><stop offset="50%" stop-color="#3b56a7"/><stop offset="51.56%" stop-color="#3b56a7"/><stop offset="53.12%" stop-color="#3b56a7"/><stop offset="54.69%" stop-color="#3b55a6"/><stop offset="56.25%" stop-color="#3b55a6"/><stop offset="57.81%" stop-color="#3a55a6"/><stop offset="59.38%" stop-color="#3a54a6"/><stop offset="60.94%" stop-color="#3a53a5"/><stop offset="62.5%" stop-color="#3a53a5"/><stop offset="64.06%" stop-color="#3a52a4"/><stop offset="65.62%" stop-color="#3951a3"/><stop offset="67.19%" stop-color="#394fa2"/><stop offset="68.75%" stop-color="#384da0"/><stop offset="70.31%" stop-color="#374b9f"/><stop offset="71.88%" stop-color="#36489c"/><stop offset="73.44%" stop-color="#34469a"/><stop offset="75%" stop-color="#334398"/><stop offset="76.56%" stop-color="#324196"/><stop offset="78.12%" stop-color="#313e94"/><stop offset="79.69%" stop-color="#303c92"/><stop offset="81.25%" stop-color="#2f3990"/><stop offset="82.81%" stop-color="#2e378e"/><stop offset="84.38%" stop-color="#2d368c"/><stop offset="85.94%" stop-color="#2d358a"/><stop offset="87.5%" stop-color="#2d3389"/><stop offset="89.06%" stop-color="#2c3287"/><stop offset="90.62%" stop-color="#2c3286"/><stop offset="92.19%" stop-color="#2b3185"/><stop offset="93.75%" stop-color="#2b3084"/><stop offset="95.31%" stop-color="#2b3083"/><stop offset="96.88%" stop-color="#2b2f82"/><stop offset="98.44%" stop-color="#2b2f82"/><stop offset="100%" stop-color="#2b2f82"/></linearGradient><linearGradient id="h14"><stop offset="0%" stop-color="#2b2f82"/><stop offset="1.56%" stop-color="#2b2f82"/><stop offset="3.12%" stop-color="#2b2f82"/><stop offset="4.69%" stop-color="#2b2f82"/><stop offset="6.25%" stop-color="#2b2f83"/><stop offset="7.81%" stop-color="#2b3083"/><stop offset="9.38%" stop-color="#2b3084"/><stop offset="10.94%" stop-color="#2c3185"/><stop offset="12.5%" stop-color="#2c3286"/><stop offset="14.06%" stop-color="#2c3388"/><stop offset="15.62%" stop-color="#2d3489"/><stop offset="17.19%" stop-color="#2d358b"/><stop offset="18.75%" stop-color="#2e368c"/><stop offset="20.31%" stop-color="#2e378e"/><stop offset="21.88%" stop-color="#2f3990"/><stop offset="23.44%" stop-color="#303c92"/><stop offset="25%" stop-color="#313e94"/><stop offset="26.56%" stop-color="#324096"/><stop offset="28.12%" stop-color="#334297"/><stop offset="29.69%" stop-color="#344499"/><stop offset="31.25%" stop-color="#35479b"/><stop offset="32.81%" stop-color="#36499d"/><stop offset="34.38%" stop-color="#374b9e"/><stop offset="35.94%" stop-color="#374ca0"/><stop offset="37.5%" stop-color="#384ea1"/><stop offset="39.06%" stop-color="#3950a3"/><stop offset="40.62%" stop-color="#3951a3"/><stop offset="42.19%" stop-color="#3951a4"/><stop offset="43.75%" stop-color="#3a52a4"/><stop offset="45.31%" stop-color="#3a52a4"/><stop offset="46.88%" stop-color="#3a52a5"/><stop offset="48.44%" stop-color="#3a53a5"/><stop offset="50%" stop-color="#3a53a5"/><stop offset="51.56%" stop-color="#3a53a5"/><stop offset="53.12%" stop-color="#3a53a5"/><stop offset="54.69%" stop-color="#3a52a5"/><stop offset="56.25%" stop-color="#3a52a4"/><stop offset="57.81%" stop-color="#3a52a4"/><stop offset="59.38%" stop-color="#3951a4"/><stop offset="60.94%" stop-color="#3951a3"/><stop offset="62.5%" stop-color="#3950a3"/><stop offset="64.06%" stop-color="#384ea2"/><stop offset="65.62%" stop-color="#374da0"/><stop offset="67.19%" stop-color="#374b9f"/><stop offset="68.75%" stop-color="#36499d"/><stop offset="70.31%" stop-color="#35479b"/><stop offset="71.88%" stop-color="#344499"/><stop offset="73.44%" stop-color="#334297"/><stop offset="75%" stop-color="#324096"/><stop offset="76.56%" stop-color="#313e94"/><stop offset="78.12%" stop-color="#303c92"/><stop offset="79.69%" stop-color="#2f3990"/><stop offset="81.25%" stop-color="#2e378e"/><stop offset="82.81%" stop-color="#2e368c"/><stop offset="84.38%" stop-color="#2d358b"/><stop offset="85.94%" stop-color="#2d3489"/><stop offset="87.5%" stop-color="#2c3388"/><stop offset="89.06%" stop-color="#2c3286"/><stop offset="90.62%" stop-color="#2c3185"/><stop offset="92.19%" stop-color="#2b3084"/><stop offset="93.75%" stop-color="#2b3083"/><stop offset="95.31%" stop-color="#2b2f83"/><stop offset="96.88%" stop-color="#2b2f82"/><stop offset="98.44%" stop-color="#2b2f82"/><stop offset="100%" stop-color="#2b2f82"/></linearGradient><linearGradient id="h15"><stop offset="0%" stop-color="#2b2f82"/><stop offset="1.56%" stop-color="#2b2f82"/><stop offset="3.12%" stop-color="#2b2f82"/><stop offset="4.69%" stop-color="#2b2f82"/><stop offset="6.25%" stop-color="#2b2f82"/><stop offset="7.81%" stop-color="#2b3083"/><stop offset="9.38%" stop-color="#2b3084"/><stop offset="10.94%" stop-color="#2c3185"/><stop offset="12.5%" stop-color="#2c3286"/><stop offset="14.06%" stop-color="#2c3287"/><stop offset="15.62%" stop-color="#2c3388"/><stop offset="17.19%" stop-color="#2d348a"/><stop offset="18.75%" stop-color="#2d358b"/><stop offset="20.31%" stop-color="#2e368c"/><stop offset="21.88%" stop-color="#2e378e"/><stop offset="23.44%" stop-color="#2f3990"/><stop offset="25%" stop-color="#303b91"/><stop offset="26.56%" stop-color="#313d93"/><stop offset="28.12%" stop-color="#313f95"/><stop offset="29.69%" stop-color="#324196"/><stop offset="31.25%" stop-color="#334398"/><stop offset="32.81%" stop-color="#344499"/><stop offset="34.38%" stop-color="#35469b"/><stop offset="35.94%" stop-color="#35489c"/><stop offset="37.5%" stop-color="#36499d"/><stop offset="39.06%" stop-color="#374a9e"/><stop offset="40.62%" stop-color="#374c9f"/><stop offset="42.19%" stop-color="#384da0"/><stop offset="43.75%" stop-color="#384ea1"/><stop offset="45.31%" stop-color="#384ea2"/><stop offset="46.88%" stop-color="#394fa2"/><stop offset="48.44%" stop-color="#394fa3"/><stop offset="50%" stop-color="#3950a3"/><stop offset="51.56%" stop-color="#3950a3"/><stop offset="53.12%" stop-color="#394fa3"/><stop offset="54.69%" stop-color="#394fa2"/><stop offset="56.25%" stop-color="#384ea2"/><stop offset="57.81%" stop-color="#384ea1"/><stop offset="59.38%" stop-color="#384da0"/><stop offset="60.94%" stop-color="#374c9f"/><stop offset="62.5%" stop-color="#374b9e"/><stop offset="64.06%" stop-color="#36499d"/><stop offset="65.62%" stop-color="#35489c"/><stop offset="67.19%" stop-color="#35469b"/><stop offset="68.75%" stop-color="#344499"/><stop offset="70.31%" stop-color="#334398"/><stop offset="71.88%" stop-color="#324196"/><stop offset="73.44%" stop-color="#313f95"/><stop offset="75%" stop-color="#313d93"/><stop offset="76.56%" stop-color="#303b91"/><stop offset="78.12%" stop-color="#2f3990"/><stop offset="79.69%" stop-color="#2e378e"/><stop offset="81.25%" stop-color="#2e368d"/><stop offset="82.81%" stop-color="#2d358b"/><stop offset="84.38%" stop-color="#2d348a"/><stop offset="85.94%" stop-color="#2c3388"/><stop offset="87.5%" stop-color="#2c3287"/><stop offset="89.06%" stop-color="#2c3286"/><stop offset="90.62%" stop-color="#2c3185"/><stop offset="92.19%" stop-color="#2b3084"/><stop offset="93.75%" stop-color="#2b3083"/><stop offset="95.31%" stop-color="#2b2f82"/><stop offset="96.88%" stop-color="#2b2f82"/><stop offset="98.44%" stop-color="#2b2f82"/><stop offset="100%" stop-color="#2b2f82"/></linearGradient><linearGradient id="h16"><stop offset="0%" stop-color="#2b2f82"/><stop offset="1.56%" stop-color="#2b2f82"/><stop offset="3.12%" stop-color="#2b2f82"/><stop offset="4.69%" stop-color="#2b2f82"/><stop offset="6.25%" stop-color="#2b2f82"/><stop offset="7.81%" stop-color="#2b2f83"/><stop offset="9.38%" stop-color="#2b3083"/><stop offset="10.94%" stop-color="#2b3084"/><stop offset="12.5%" stop-color="#2c3185"/><stop offset="14.06%" stop-color="#2c3186"/><stop offset="15.62%" stop-color="#2c3287"/><stop offset="17.19%" stop-color="#2c3388"/><stop offset="18.75%" stop-color="#2d3489"/><stop offset="20.31%" stop-color="#2d348a"/><stop offset="21.88%" stop-color="#2d358b"/><stop offset="23.44%" stop-color="#2e368c"/><stop offset="25%" stop-color="#2e378e"/><stop offset="26.56%" stop-color="#2e388f"/><stop offset="28.12%" stop-color="#2f3a90"/><stop offset="29.69%" stop-color="#303b91"/><stop offset="31.25%" stop-color="#303c93"/><stop offset="32.81%" stop-color="#313e94"/><stop offset="34.38%" stop-color="#323f95"/><stop offset="35.94%" stop-color="#324096"/><stop offset="37.5%" stop-color="#334297"/><stop offset="39.06%" stop-color="#334398"/><stop offset="40.62%" stop-color="#344499"/><stop offset="42.19%" stop-color="#344499"/><stop offset="43.75%" stop-color="#34459a"/><stop offset="45.31%" stop-color="#34469a"/><stop offset="46.88%" stop-color="#35469b"/><stop offset="48.44%" stop-color="#35469b"/><stop offset="50%" stop-color="#35479b"/><stop offset="51.56%" stop-color="#35479b"/><stop offset="53.12%" stop-color="#35469b"/><stop offset="54.69%" stop-color="#35469b"/><stop offset="56.25%" stop-color="#34469a"/><stop offset="57.81%" stop-color="#34459a"/><stop offset="59.38%" stop-color="#344499"/><stop offset="60.94%" stop-color="#344499"/><stop offset="62.5%" stop-color="#334398"/><stop offset="64.06%" stop-color="#334297"/><stop offset="65.62%" stop-color="#324096"/><stop offset="67.19%" stop-color="#323f95"/><stop offset="68.75%" stop-color="#313e94"/><stop offset="70.31%" stop-color="#303c93"/><stop offset="71.88%" stop-color="#303b91"/><stop offset="73.44%" stop-color="#2f3a90"/><stop offset="75%" stop-color="#2e388f"/><stop offset="76.56%" stop-color="#2e378e"/><stop offset="78.12%" stop-color="#2e368c"/><stop offset="79.69%" stop-color="#2d358b"/><stop offset="81.25%" stop-color="#2d348a"/><stop offset="82.81%" stop-color="#2d3489"/><stop offset="84.38%" stop-color="#2c3388"/><stop offset="85.94%" stop-color="#2c3287"/><stop offset="87.5%" stop-color="#2c3186"/><stop offset="89.06%" stop-color="#2c3185"/><stop offset="90.62%" stop-color="#2b3084"/><stop offset="92.19%" stop-color="#2b3083"/><stop offset="93.75%" stop-color="#2b2f83"/><stop offset="95.31%" stop-color="#2b2f82"/><stop offset="96.88%" stop-color="#2b2f82"/><stop offset="98.44%" stop-color="#2b2f82"/><stop offset="100%" stop-color="#2b2f82"/></linearGradient><linearGradient id="h17"><stop offset="0%" stop-color="#2b2f82"/><stop offset="1.56%" stop-color="#2b2f82"/><stop offset="3.12%" stop-color="#2b2f82"/><stop offset="4.69%" stop-color="#2b2f82"/><stop offset="6.25%" stop-color="#2b2f82"/><stop offset="7.81%" stop-color="#2b2f83"/><stop offset="9.38%" stop-color="#2b3083"/><stop offset="10.94%" stop-color="#2b3084"/><stop offset="12.5%" stop-color="#2b3184"/><stop offset="14.06%" stop-color="#2c3185"/><stop offset="15.62%" stop-color="#2c3286"/><stop offset="17.19%" stop-color="#2c3287"/><stop offset="18.75%" stop-color="#2c3388"/><stop offset="20.31%" stop-color="#2d3489"/><stop offset="21.88%" stop-color="#2d348a"/><stop offset="23.44%" stop-color="#2d358b"/><stop offset="25%" stop-color="#2e368c"/><stop offset="26.56%" stop-color="#2e378e"/><stop offset="28.12%" stop-color="#2e388f"/><stop offset="29.69%" stop-color="#2f3990"/><stop offset="31.25%" stop-color="#2f3a91"/><stop offset="32.81%" stop-color="#303c92"/><stop offset="34.38%" stop-color="#313d93"/><stop offset="35.94%" stop-color="#313e94"/><stop offset="37.5%" stop-color="#323f95"/><stop offset="39.06%" stop-color="#324096"/><stop offset="40.62%" stop-color="#324196"/><stop offset="42.19%" stop-color="#334297"/><stop offset="43.75%" stop-color="#334297"/><stop offset="45.31%" stop-color="#334398"/><stop offset="46.88%" stop-color="#334398"/><stop offset="48.44%" stop-color="#334398"/><stop offset="50%" stop-color="#334398"/><stop offset="51.56%" stop-color="#334398"/><stop offset="53.12%" stop-color="#334398"/><stop offset="54.69%" stop-color="#334398"/><stop offset="56.25%" stop-color="#334398"/><stop offset="57.81%" stop-color="#334297"/><stop offset="59.38%" stop-color="#334297"/><stop offset="60.94%" stop-color="#324196"/><stop offset="62.5%" stop-color="#324096"/><stop offset="64.06%" stop-color="#323f95"/><stop offset="65.62%" stop-color="#313e94"/><stop offset="67.19%" stop-color="#313d93"/><stop offset="68.75%" stop-color="#303c92"/><stop offset="70.31%" stop-color="#303a91"/><stop offset="71.88%" stop-color="#2f3990"/><stop offset="73.44%" stop-color="#2e388f"/><stop offset="75%" stop-color="#2e378e"/><stop offset="76.56%" stop-color="#2e368c"/><stop offset="78.12%" stop-color="#2d358b"/><stop offset="79.69%" stop-color="#2d348a"/><stop offset="81.25%" stop-color="#2d3489"/><stop offset="82.81%" stop-color="#2c3388"/><stop offset="84.38%" stop-color="#2c3287"/><stop offset="85.94%" stop-color="#2c3286"/><stop offset="87.5%" stop-color="#2c3185"/><stop offset="89.06%" stop-color="#2b3184"/><stop offset="90.62%" stop-color="#2b3084"/><stop offset="92.19%" stop-color="#2b3083"/><stop offset="93.75%" stop-color="#2b2f83"/><stop offset="95.31%" stop-color="#2b2f82"/><stop offset="96.88%" stop-color="#2b2f82"/><stop offset="98.44%" stop-color="#2b2f82"/><stop offset="100%" stop-color="#2b2f82"/></linearGradient><linearGradient id="h18"><stop offset="0%" stop-color="#2b2f82"/><stop offset="1.56%" stop-color="#2b2f82"/><stop offset="3.12%" stop-color="#2b2f82"/><stop offset="4.69%" stop-color="#2b2f82"/><stop offset="6.25%" stop-color="#2b2f82"/><stop offset="7.81%" stop-color="#2b2f82"/><stop offset="9.38%" stop-color="#2b3083"/><stop offset="10.94%" stop-color="#2b3083"/><stop offset="12.5%" stop-color="#2b3084"/><stop offset="14.06%" stop-color="#2b3184"/><stop offset="15.62%" stop-color="#2c3185"/><stop offset="17.19%" stop-color="#2c3286"/><stop offset="18.75%" stop-color="#2c3287"/><stop offset="20.31%" stop-color="#2c3387"/><stop offset="21.88%" stop-color="#2c3388"/><stop offset="23.44%" stop-color="#2d3489"/><stop offset="25%" stop-color="#2d348a"/><stop offset="26.56%" stop-color="#2d358b"/><stop offset="28.12%" stop-color="#2d368c"/><stop offset="29.69%" stop-color="#2e368d"/><stop offset="31.25%" stop-color="#2e378d"/><stop offset="32.81%" stop-color="#2e378e"/><stop offset="34.38%" stop-color="#2f388f"/><stop offset="35.94%" stop-color="#2f3990"/><stop offset="37.5%" stop-color="#2f3a90"/><stop offset="39.06%" stop-color="#303b91"/><stop offset="40.62%" stop-color="#303b92"/><stop offset="42.19%" stop-color="#303c92"/><stop offset="43.75%" stop-color="#303c93"/><stop offset="45.31%" stop-color="#313d93"/><stop offset="46.88%" stop-color="#313d93"/><stop offset="48.44%" stop-color="#313d93"/><stop offset="50%" stop-color="#313d93"/><stop offset="51.56%" stop-color="#313d93"/><stop offset="53.12%" stop-color="#313d93"/><stop offset="54.69%" stop-color="#313d93"/><stop offset="56.25%" stop-color="#313d93"/><stop offset="57.81%" stop-color="#303c93"/><stop offset="59.38%" stop-color="#303c92"/><stop offset="60.94%" stop-color="#303b92"/><stop offset="62.5%" stop-color="#303b91"/><stop offset="64.06%" stop-color="#2f3a90"/><stop offset="65.62%" stop-color="#2f3990"/><stop offset="67.19%" stop-color="#2f388f"/><stop offset="68.75%" stop-color="#2e378e"/><stop offset="70.31%" stop-color="#2e378d"/><stop offset="71.88%" stop-color="#2e368d"/><stop offset="73.44%" stop-color="#2d368c"/><stop offset="75%" stop-color="#2d358b"/><stop offset="76.56%" stop-color="#2d348a"/><stop offset="78.12%" stop-color="#2d3489"/><stop offset="79.69%" stop-color="#2c3388"/><stop offset="81.25%" stop-color="#2c3387"/><stop offset="82.81%" stop-color="#2c3287"/><stop offset="84.38%" stop-color="#2c3286"/><stop offset="85.94%" stop-color="#2c3185"/><stop offset="87.5%" stop-color="#2b3184"/><stop offset="89.06%" stop-color="#2b3084"/><stop offset="90.62%" stop-color="#2b3083"/><stop offset="92.19%" stop-color="#2b3083"/><stop offset="93.75%" stop-color="#2b2f82"/><stop offset="95.31%" stop-color="#2b2f82"/><stop offset="96.88%" stop-color="#2b2f82"/><stop offset="98.44%" stop-color="#2b2f82"/><stop offset="100%" stop-color="#2b2f82"/></linearGradient><linearGradient id="h19"><stop offset="0%" stop-color="#2b2f82"/><stop offset="1.56%" stop-color="#2b2f82"/><stop offset="3.12%" stop-color="#2b2f82"/><stop offset="4.69%" stop-color="#2b2f82"/><stop offset="6.25%" stop-color="#2b2f82"/><stop offset="7.81%" stop-color="#2b2f82"/><stop offset="9.38%" stop-color="#2b2f82"/><stop offset="10.94%" stop-color="#2b3083"/><stop offset="12.5%" stop-color="#2b3083"/><stop offset="14.06%" stop-color="#2b3084"/><stop offset="15.62%" stop-color="#2b3084"/><stop offset="17.19%" stop-color="#2b3185"/><stop offset="18.75%" stop-color="#2c3185"/><stop offset="20.31%" stop-color="#2c3186"/><stop offset="21.88%" stop-color="#2c3286"/><stop offset="23.44%" stop-color="#2c3287"/><stop offset="25%" stop-color="#2c3388"/><stop offset="26.56%" stop-color="#2c3388"/><stop offset="28.12%" stop-color="#2d3489"/><stop offset="29.69%" stop-color="#2d3489"/><stop offset="31.25%" stop-color="#2d348a"/><stop offset="32.81%" stop-color="#2d358b"/><stop offset="34.38%" stop-color="#2d358b"/><stop offset="35.94%" stop-color="#2d358c"/><stop offset="37.5%" stop-color="#2e368c"/><stop offset="39.06%" stop-color="#2e368d"/><stop offset="40.62%" stop-color="#2e368d"/><stop offset="42.19%" stop-color="#2e378d"/><stop offset="43.75%" stop-color="#2e378e"/><stop offset="45.31%" stop-color="#2e378e"/><stop offset="46.88%" stop-color="#2e378e"/><stop offset="48.44%" stop-color="#2e378e"/><stop offset="50%" stop-color="#2e378e"/><stop offset="51.56%" stop-color="#2e378e"/><stop offset="53.12%" stop-color="#2e378e"/><stop offset="54.69%" stop-color="#2e378e"/><stop offset="56.25%" stop-color="#2e378e"/><stop offset="57.81%" stop-color="#2e378e"/><stop offset="59.38%" stop-color="#2e378d"/><stop offset="60.94%" stop-color="#2e368d"/><stop offset="62.5%" stop-color="#2e368d"/><stop offset="64.06%" stop-color="#2e368c"/><stop offset="65.62%" stop-color="#2d358c"/><stop offset="67.19%" stop-color="#2d358b"/><stop offset="68.75%" stop-color="#2d358b"/><stop offset="70.31%" stop-color="#2d348a"/><stop offset="71.88%" stop-color="#2d3489"/><stop offset="73.44%" stop-color="#2d3489"/><stop offset="75%" stop-color="#2c3388"/><stop offset="76.56%" stop-color="#2c3388"/><stop offset="78.12%" stop-color="#2c3287"/><stop offset="79.69%" stop-color="#2c3286"/><stop offset="81.25%" stop-color="#2c3286"/><stop offset="82.81%" stop-color="#2c3185"/><stop offset="84.38%" stop-color="#2b3185"/><stop offset="85.94%" stop-color="#2b3084"/><stop offset="87.5%" stop-color="#2b3084"/><stop offset="89.06%" stop-color="#2b3083"/><stop offset="90.62%" stop-color="#2b3083"/><stop offset="92.19%" stop-color="#2b2f82"/><stop offset="93.75%" stop-color="#2b2f82"/><stop offset="95.31%" stop-color="#2b2f82"/><stop offset="96.88%" stop-color="#2b2f82"/><stop offset="98.44%" stop-color="#2b2f82"/><stop offset="100%" stop-color="#2b2f82"/></linearGradient><linearGradient id="h20"><stop offset="0%" stop-color="#2b2f82"/><stop offset="1.56%" stop-color="#2b2f82"/><stop offset="3.12%" stop-color="#2b2f82"/><stop offset="4.69%" stop-color="#2b2f82"/><stop offset="6.25%" stop-color="#2b2f82"/><stop offset="7.81%" stop-color="#2b2f82"/><stop offset="9.38%" stop-color="#2b2f82"/><stop offset="10.94%" stop-color="#2b2f83"/><stop offset="12.5%" stop-color="#2b3083"/><stop offset="14.06%" stop-color="#2b3083"/><stop offset="15.62%" stop-color="#2b3084"/><stop offset="17.19%" stop-color="#2b3084"/><stop offset="18.75%" stop-color="#2b3184"/><stop offset="20.31%" stop-color="#2c3185"/><stop offset="21.88%" stop-color="#2c3185"/><stop offset="23.44%" stop-color="#2c3286"/><stop offset="25%" stop-color="#2c3286"/><stop offset="26.56%" stop-color="#2c3287"/><stop offset="28.12%" stop-color="#2c3387"/><stop offset="29.69%" stop-color="#2c3388"/><stop offset="31.25%" stop-color="#2c3388"/><stop offset="32.81%" stop-color="#2d3489"/><stop offset="34.38%" stop-color="#2d3489"/><stop offset="35.94%" stop-color="#2d348a"/><stop offset="37.5%" stop-color="#2d348a"/><stop offset="39.06%" stop-color="#2d358a"/><stop offset="40.62%" stop-color="#2d358b"/><stop offset="42.19%" stop-color="#2d358b"/><stop offset="43.75%" stop-color="#2d358b"/><stop offset="45.31%" stop-color="#2d358b"/><stop offset="46.88%" stop-color="#2d358c"/><stop offset="48.44%" stop-color="#2d358c"/><stop offset="50%" stop-color="#2d358c"/><stop offset="51.56%" stop-color="#2d358c"/><stop offset="53.12%" stop-color="#2d358c"/><stop offset="54.69%" stop-color="#2d358c"/><stop offset="56.25%" stop-color="#2d358b"/><stop offset="57.81%" stop-color="#2d358b"/><stop offset="59.38%" stop-color="#2d358b"/><stop offset="60.94%" stop-color="#2d358b"/><stop offset="62.5%" stop-color="#2d358a"/><stop offset="64.06%" stop-color="#2d348a"/><stop offset="65.62%" stop-color="#2d348a"/><stop offset="67.19%" stop-color="#2d3489"/><stop offset="68.75%" stop-color="#2d3489"/><stop offset="70.31%" stop-color="#2c3388"/><stop offset="71.88%" stop-color="#2c3388"/><stop offset="73.44%" stop-color="#2c3387"/><stop offset="75%" stop-color="#2c3287"/><stop offset="76.56%" stop-color="#2c3286"/><stop offset="78.12%" stop-color="#2c3286"/><stop offset="79.69%" stop-color="#2c3185"/><stop offset="81.25%" stop-color="#2c3185"/><stop offset="82.81%" stop-color="#2b3184"/><stop offset="84.38%" stop-color="#2b3084"/><stop offset="85.94%" stop-color="#2b3084"/><stop offset="87.5%" stop-color="#2b3083"/><stop offset="89.06%" stop-color="#2b3083"/><stop offset="90.62%" stop-color="#2b2f83"/><stop offset="92.19%" stop-color="#2b2f82"/><stop offset="93.75%" stop-color="#2b2f82"/><stop offset="95.31%" stop-color="#2b2f82"/><stop offset="96.88%" stop-color="#2b2f82"/><stop offset="98.44%" stop-color="#2b2f82"/><stop offset="100%" stop-color="#2b2f82"/></linearGradient><linearGradient id="h21"><stop offset="0%" stop-color="#2b2f82"/><stop offset="1.56%" stop-color="#2b2f82"/><stop offset="3.12%" stop-color="#2b2f82"/><stop offset="4.69%" stop-color="#2b2f82"/><stop offset="6.25%" stop-color="#2b2f82"/><stop offset="7.81%" stop-color="#2b2f82"/><stop offset="9.38%" stop-color="#2b2f82"/><stop offset="10.94%" stop-color="#2b2f82"/><stop offset="12.5%" stop-color="#2b2f82"/><stop offset="14.06%" stop-color="#2b2f82"/><stop offset="15.62%" stop-color="#2b2f83"/><stop offset="17.19%" stop-color="#2b3083"/><stop offset="18.75%" stop-color="#2b3083"/><stop offset="20.31%" stop-color="#2b3083"/><stop offset="21.88%" stop-color="#2b3083"/><stop offset="23.44%" stop-color="#2b3084"/><stop offset="25%" stop-color="#2b3084"/><stop offset="26.56%" stop-color="#2b3084"/><stop offset="28.12%" stop-color="#2b3184"/><stop offset="29.69%" stop-color="#2c3185"/><stop offset="31.25%" stop-color="#2c3185"/><stop offset="32.81%" stop-color="#2c3185"/><stop offset="34.38%" stop-color="#2c3185"/><stop offset="35.94%" stop-color="#2c3186"/><stop offset="37.5%" stop-color="#2c3286"/><stop offset="39.06%" stop-color="#2c3286"/><stop offset="40.62%" stop-color="#2c3286"/><stop offset="42.19%" stop-color="#2c3286"/><stop offset="43.75%" stop-color="#2c3286"/><stop offset="45.31%" stop-color="#2c3286"/><stop offset="46.88%" stop-color="#2c3287"/><stop offset="48.44%" stop-color="#2c3287"/><stop offset="50%" stop-color="#2c3287"/><stop offset="51.56%" stop-color="#2c3287"/><stop offset="53.12%" stop-color="#2c3287"/><stop offset="54.69%" stop-color="#2c3287"/><stop offset="56.25%" stop-color="#2c3286"/><stop offset="57.81%" stop-color="#2c3286"/><stop offset="59.38%" stop-color="#2c3286"/><stop offset="60.94%" stop-color="#2c3286"/><stop offset="62.5%" stop-color="#2c3286"/><stop offset="64.06%" stop-color="#2c3286"/><stop offset="65.62%" stop-color="#2c3186"/><stop offset="67.19%" stop-color="#2c3185"/><stop offset="68.75%" stop-color="#2c3185"/><stop offset="70.31%" stop-color="#2c3185"/><stop offset="71.88%" stop-color="#2c3185"/><stop offset="73.44%" stop-color="#2b3184"/><stop offset="75%" stop-color="#2b3084"/><stop offset="76.56%" stop-color="#2b3084"/><stop offset="78.12%" stop-color="#2b3084"/><stop offset="79.69%" stop-color="#2b3083"/><stop offset="81.25%" stop-color="#2b3083"/><stop offset="82.81%" stop-color="#2b3083"/><stop offset="84.38%" stop-color="#2b3083"/><stop offset="85.94%" stop-color="#2b2f83"/><stop offset="87.5%" stop-color="#2b2f82"/><stop offset="89.06%" stop-color="#2b2f82"/><stop offset="90.62%" stop-color="#2b2f82"/><stop offset="92.19%" stop-color="#2b2f82"/><stop offset="93.75%" stop-color="#2b2f82"/><stop offset="95.31%" stop-color="#2b2f82"/><stop offset="96.88%" stop-color="#2b2f82"/><stop offset="98.44%" stop-color="#2b2f82"/><stop offset="100%" stop-color="#2b2f82"/></linearGradient><linearGradient id="h22"><stop offset="0%" stop-color="#2b2f82"/><stop offset="1.56%" stop-color="#2b2f82"/><stop offset="3.12%" stop-color="#2b2f82"/><stop offset="4.69%" stop-color="#2b2f82"/><stop offset="6.25%" stop-color="#2b2f82"/><stop offset="7.81%" stop-color="#2b2f82"/><stop offset="9.38%" stop-color="#2b2f82"/><stop offset="10.94%" stop-color="#2b2f82"/><stop offset="12.5%" stop-color="#2b2f82"/><stop offset="14.06%" stop-color="#2b2f82"/><stop offset="15.62%" stop-color="#2b2f82"/><stop offset="17.19%" stop-color="#2b2f82"/><stop offset="18.75%" stop-color="#2b2f82"/><stop offset="20.31%" stop-color="#2b2f82"/><stop offset="21.88%" stop-color="#2b2f82"/><stop offset="23.44%" stop-color="#2b2f83"/><stop offset="25%" stop-color="#2b2f83"/><stop offset="26.56%" stop-color="#2b3083"/><stop offset="28.12%" stop-color="#2b3083"/><stop offset="29.69%" stop-color="#2b3083"/><stop offset="31.25%" stop-color="#2b3083"/><stop offset="32.81%" stop-color="#2b3083"/><stop offset="34.38%" stop-color="#2b3083"/><stop offset="35.94%" stop-color="#2b3084"/><stop offset="37.5%" stop-color="#2b3084"/><stop offset="39.06%" stop-color="#2b3084"/><stop offset="40.62%" stop-color="#2b3084"/><stop offset="42.19%" stop-color="#2b3084"/><stop offset="43.75%" stop-color="#2b3084"/><stop offset="45.31%" stop-color="#2b3084"/><stop offset="46.88%" stop-color="#2b3084"/><stop offset="48.44%" stop-color="#2b3084"/><stop offset="50%" stop-color="#2b3084"/><stop offset="51.56%" stop-color="#2b3084"/><stop offset="53.12%" stop-color="#2b3084"/><stop offset="54.69%" stop-color="#2b3084"/><stop offset="56.25%" stop-color="#2b3084"/><stop offset="57.81%" stop-color="#2b3084"/><stop offset="59.38%" stop-color="#2b3084"/><stop offset="60.94%" stop-color="#2b3084"/><stop offset="62.5%" stop-color="#2b3084"/><stop offset="64.06%" stop-color="#2b3084"/><stop offset="65.62%" stop-color="#2b3084"/><stop offset="67.19%" stop-color="#2b3083"/><stop offset="68.75%" stop-color="#2b3083"/><stop offset="70.31%" stop-color="#2b3083"/><stop offset="71.88%" stop-color="#2b3083"/><stop offset="73.44%" stop-color="#2b3083"/><stop offset="75%" stop-color="#2b3083"/><stop offset="76.56%" stop-color="#2b2f83"/><stop offset="78.12%" stop-color="#2b2f83"/><stop offset="79.69%" stop-color="#2b2f82"/><stop offset="81.25%" stop-color="#2b2f82"/><stop offset="82.81%" stop-color="#2b2f82"/><stop offset="84.38%" stop-color="#2b2f82"/><stop offset="85.94%" stop-color="#2b2f82"/><stop offset="87.5%" stop-color="#2b2f82"/><stop offset="89.06%" stop-color="#2b2f82"/><stop offset="90.62%" stop-color="#2b2f82"/><stop offset="92.19%" stop-color="#2b2f82"/><stop offset="93.75%" stop-color="#2b2f82"/><stop offset="95.31%" stop-color="#2b2f82"/><stop offset="96.88%" stop-color="#2b2f82"/><stop offset="98.44%" stop-color="#2b2f82"/><stop offset="100%" stop-color="#2b2f82"/></linearGradient><linearGradient id="h23"><stop offset="0%" stop-color="#2b2f82"/><stop offset="1.56%" stop-color="#2b2f82"/><stop offset="3.12%" stop-color="#2b2f82"/><stop offset="4.69%" stop-color="#2b2f82"/><stop offset="6.25%" stop-color="#2b2f82"/><stop offset="7.81%" stop-color="#2b2f82"/><stop offset="9.38%" stop-color="#2b2f82"/><stop offset="10.94%" stop-color="#2b2f82"/><stop offset="12.5%" stop-color="#2b2f82"/><stop offset="14.06%" stop-color="#2b2f82"/><stop offset="15.62%" stop-color="#2b2f82"/><stop offset="17.19%" stop-color="#2b2f82"/><stop offset="18.75%" stop-color="#2b2f82"/><stop offset="20.31%" stop-color="#2b2f82"/><stop offset="21.88%" stop-color="#2b2f82"/><stop offset="23.44%" stop-color="#2b2f82"/><stop offset="25%" stop-color="#2b2f82"/><stop offset="26.56%" stop-color="#2b2f82"/><stop offset="28.12%" stop-color="#2b2f82"/><stop offset="29.69%" stop-color="#2b2f82"/><stop offset="31.25%" stop-color="#2b2f82"/><stop offset="32.81%" stop-color="#2b2f82"/><stop offset="34.38%" stop-color="#2b2f82"/><stop offset="35.94%" stop-color="#2b2f82"/><stop offset="37.5%" stop-color="#2b2f82"/><stop offset="39.06%" stop-color="#2b2f82"/><stop offset="40.62%" stop-color="#2b2f82"/><stop offset="42.19%" stop-color="#2b2f82"/><stop offset="43.75%" stop-color="#2b2f82"/><stop offset="45.31%" stop-color="#2b2f82"/><stop offset="46.88%" stop-color="#2b2f82"/><stop offset="48.44%" stop-color="#2b2f82"/><stop offset="50%" stop-color="#2b2f82"/><stop offset="51.56%" stop-color="#2b2f82"/><stop offset="53.12%" stop-color="#2b2f82"/><stop offset="54.69%" stop-color="#2b2f82"/><stop offset="56.25%" stop-color="#2b2f82"/><stop offset="57.81%" stop-color="#2b2f82"/><stop offset="59.38%" stop-color="#2b2f82"/><stop offset="60.94%" stop-color="#2b2f82"/><stop offset="62.5%" stop-color="#2b2f82"/><stop offset="64.06%" stop-color="#2b2f82"/><stop offset="65.62%" stop-color="#2b2f82"/><stop offset="67.19%" stop-color="#2b2f82"/><stop offset="68.75%" stop-color="#2b2f82"/><stop offset="70.31%" stop-color="#2b2f82"/><stop offset="71.88%" stop-color="#2b2f82"/><stop offset="73.44%" stop-color="#2b2f82"/><stop offset="75%" stop-color="#2b2f82"/><stop offset="76.56%" stop-color="#2b2f82"/><stop offset="78.12%" stop-color="#2b2f82"/><stop offset="79.69%" stop-color="#2b2f82"/><stop offset="81.25%" stop-color="#2b2f82"/><stop offset="82.81%" stop-color="#2b2f82"/><stop offset="84.38%" stop-color="#2b2f82"/><stop offset="85.94%" stop-color="#2b2f82"/><stop offset="87.5%" stop-color="#2b2f82"/><stop offset="89.06%" stop-color="#2b2f82"/><stop offset="90.62%" stop-color="#2b2f82"/><stop offset="92.19%" stop-color="#2b2f82"/><stop offset="93.75%" stop-color="#2b2f82"/><stop offset="95.31%" stop-color="#2b2f82"/><stop offset="96.88%" stop-color="#2b2f82"/><stop offset="98.44%" stop-color="#2b2f82"/><stop offset="100%" stop-color="#2b2f82"/></linearGradient><linearGradient id="h24"><stop offset="0%" stop-color="#2b2f82"/><stop offset="1.56%" stop-color="#2b2f82"/><stop offset="3.12%" stop-color="#2b2f81"/><stop offset="4.69%" stop-color="#2b2f81"/><stop offset="6.25%" stop-color="#2b2f81"/><stop offset="7.81%" stop-color="#2b2f81"/><stop offset="9.38%" stop-color="#2b2f81"/><stop offset="10.94%" stop-color="#2b2f81"/><stop offset="12.5%" stop-color="#2b2e81"/><stop offset="14.06%" stop-color="#2b2e81"/><stop offset="15.62%" stop-color="#2b2e81"/><stop offset="17.19%" stop-color="#2b2e81"/><stop offset="18.75%" stop-color="#2a2e81"/><stop offset="20.31%" stop-color="#2a2e81"/><stop offset="21.88%" stop-color="#2a2e81"/><stop offset="23.44%" stop-color="#2a2e80"/><stop offset="25%" stop-color="#2a2e80"/><stop offset="26.56%" stop-color="#2a2e80"/><stop offset="28.12%" stop-color="#2a2e80"/><stop offset="29.69%" stop-color="#2a2e80"/><stop offset="31.25%" stop-color="#2a2e80"/><stop offset="32.81%" stop-color="#2a2d80"/><stop offset="34.38%" stop-color="#2a2d80"/><stop offset="35.94%" stop-color="#2a2d80"/><stop offset="37.5%" stop-color="#2a2d7f"/><stop offset="39.06%" stop-color="#2a2d7f"/><stop offset="40.62%" stop-color="#2a2d7f"/><stop offset="42.19%" stop-color="#2a2d7f"/><stop offset="43.75%" stop-color="#2a2d7f"/><stop offset="45.31%" stop-color="#2a2d7f"/><stop offset="46.88%" stop-color="#2a2d7f"/><stop offset="48.44%" stop-color="#2a2d7f"/><stop offset="50%" stop-color="#2a2d7f"/><stop offset="51.56%" stop-color="#2a2d7f"/><stop offset="53.12%" stop-color="#2a2d7f"/><stop offset="54.69%" stop-color="#2a2d7f"/><stop offset="56.25%" stop-color="#2a2d7f"/><stop offset="57.81%" stop-color="#2a2d7f"/><stop offset="59.38%" stop-color="#2a2d7f"/><stop offset="60.94%" stop-color="#2a2d7f"/><stop offset="62.5%" stop-color="#2a2d7f"/><stop offset="64.06%" stop-color="#2a2d7f"/><stop offset="65.62%" stop-color="#2a2d80"/><stop offset="67.19%" stop-color="#2a2d80"/><stop offset="68.75%" stop-color="#2a2d80"/><stop offset="70.31%" stop-color="#2a2e80"/><stop offset="71.88%" stop-color="#2a2e80"/><stop offset="73.44%" stop-color="#2a2e80"/><stop offset="75%" stop-color="#2a2e80"/><stop offset="76.56%" stop-color="#2a2e80"/><stop offset="78.12%" stop-color="#2a2e80"/><stop offset="79.69%" stop-color="#2a2e81"/><stop offset="81.25%" stop-color="#2a2e81"/><stop offset="82.81%" stop-color="#2a2e81"/><stop offset="84.38%" stop-color="#2b2e81"/><stop offset="85.94%" stop-color="#2b2e81"/><stop offset="87.5%" stop-color="#2b2e81"/><stop offset="89.06%" stop-color="#2b2e81"/><stop offset="90.62%" stop-color="#2b2f81"/><stop offset="92.19%" stop-color="#2b2f81"/><stop offset="93.75%" stop-color="#2b2f81"/><stop offset="95.31%" stop-color="#2b2f81"/><stop offset="96.88%" stop-color="#2b2f81"/><stop offset="98.44%" stop-color="#2b2f81"/><stop offset="100%" stop-color="#2b2f82"/></linearGradient><linearGradient id="h25"><stop offset="0%" stop-color="#2b2f82"/><stop offset="1.56%" stop-color="#2b2f82"/><stop offset="3.12%" stop-color="#2b2f82"/><stop offset="4.69%" stop-color="#2b3084"/><stop offset="6.25%" stop-color="#2c3286"/><stop offset="7.81%" stop-color="#2d3489"/><stop offset="9.38%" stop-color="#2e368d"/><stop offset="10.94%" stop-color="#2f3a91"/><stop offset="12.5%" stop-color="#324096"/><stop offset="14.06%" stop-color="#35469b"/><stop offset="15.62%" stop-color="#384da1"/><stop offset="17.19%" stop-color="#3a52a5"/><stop offset="18.75%" stop-color="#3b56a7"/><stop offset="20.31%" stop-color="#3c5baa"/><stop offset="21.88%" stop-color="#3e5fac"/><stop offset="23.44%" stop-color="#3d6ab4"/><stop offset="25%" stop-color="#3b78bd"/><stop offset="26.56%" stop-color="#378bca"/><stop offset="28.12%" stop-color="#2eaae0"/><stop offset="29.69%" stop-color="#33c1ed"/><stop offset="31.25%" stop-color="#4ec8e7"/><stop offset="32.81%" stop-color="#59c7d7"/><stop offset="34.38%" stop-color="#64c6c7"/><stop offset="35.94%" stop-color="#69c4b4"/><stop offset="37.5%" stop-color="#6dc3a2"/><stop offset="39.06%" stop-color="#72c291"/><stop offset="40.62%" stop-color="#7ac381"/><stop offset="42.19%" stop-color="#80c473"/><stop offset="43.75%" stop-color="#86c567"/><stop offset="45.31%" stop-color="#8ac65d"/><stop offset="46.88%" stop-color="#8fc757"/><stop offset="48.44%" stop-color="#94c954"/><stop offset="50%" stop-color="#96c952"/><stop offset="51.56%" stop-color="#96c952"/><stop offset="53.12%" stop-color="#94c954"/><stop offset="54.69%" stop-color="#90c757"/><stop offset="56.25%" stop-color="#8ac65d"/><stop offset="57.81%" stop-color="#86c567"/><stop offset="59.38%" stop-color="#80c473"/><stop offset="60.94%" stop-color="#7ac381"/><stop offset="62.5%" stop-color="#72c291"/><stop offset="64.06%" stop-color="#6dc3a2"/><stop offset="65.62%" stop-color="#69c4b4"/><stop offset="67.19%" stop-color="#64c6c7"/><stop offset="68.75%" stop-color="#5ac7d6"/><stop offset="70.31%" stop-color="#4ec8e6"/><stop offset="71.88%" stop-color="#34c1ed"/><stop offset="73.44%" stop-color="#2eaae0"/><stop offset="75%" stop-color="#378bcb"/><stop offset="76.56%" stop-color="#3b78bd"/><stop offset="78.12%" stop-color="#3d6bb4"/><stop offset="79.69%" stop-color="#3e5fac"/><stop offset="81.25%" stop-color="#3c5baa"/><stop offset="82.81%" stop-color="#3b57a7"/><stop offset="84.38%" stop-color="#3a53a5"/><stop offset="85.94%" stop-color="#384ea1"/><stop offset="87.5%" stop-color="#35479b"/><stop offset="89.06%" stop-color="#324096"/><stop offset="90.62%" stop-color="#303a91"/><stop offset="92.19%" stop-color="#2e368d"/><stop offset="93.75%" stop-color="#2d3489"/><stop offset="95.31%" stop-color="#2c3286"/><stop offset="96.88%" stop-color="#2b3084"/><stop offset="98.44%" stop-color="#2b2f82"/><stop offset="100%" stop-color="#2b2f82"/></linearGradient><linearGradient id="h26"><stop offset="0%" stop-color="#2b2f82"/><stop offset="1.56%" stop-color="#2b2f82"/><stop offset="3.12%" stop-color="#2b2f82"/><stop offset="4.69%" stop-color="#2b3084"/><stop offset="6.25%" stop-color="#2c3286"/><stop offset="7.81%" stop-color="#2d3489"/><stop offset="9.38%" stop-color="#2e368d"/><stop offset="10.94%" stop-color="#303b92"/><stop offset="12.5%" stop-color="#324197"/><stop offset="14.06%" stop-color="#35489c"/><stop offset="15.62%" stop-color="#394fa2"/><stop offset="17.19%" stop-color="#3a54a5"/><stop offset="18.75%" stop-color="#3b58a8"/><stop offset="20.31%" stop-color="#3d5cab"/><stop offset="21.88%" stop-color="#3e62ae"/><stop offset="23.44%" stop-color="#3c70b8"/><stop offset="25%" stop-color="#3a7fc2"/><stop offset="26.56%" stop-color="#339bd5"/><stop offset="28.12%" stop-color="#29bbec"/><stop offset="29.69%" stop-color="#48c7eb"/><stop offset="31.25%" stop-color="#56c7db"/><stop offset="32.81%" stop-color="#62c6ca"/><stop offset="34.38%" stop-color="#68c5b6"/><stop offset="35.94%" stop-color="#6dc3a1"/><stop offset="37.5%" stop-color="#74c38e"/><stop offset="39.06%" stop-color="#7dc47b"/><stop offset="40.62%" stop-color="#84c56a"/><stop offset="42.19%" stop-color="#8bc65c"/><stop offset="43.75%" stop-color="#96c953"/><stop offset="45.31%" stop-color="#9fcc4c"/><stop offset="46.88%" stop-color="#a6cf47"/><stop offset="48.44%" stop-color="#aad043"/><stop offset="50%" stop-color="#add142"/><stop offset="51.56%" stop-color="#add142"/><stop offset="53.12%" stop-color="#aad043"/><stop offset="54.69%" stop-color="#a6cf47"/><stop offset="56.25%" stop-color="#9fcc4c"/><stop offset="57.81%" stop-color="#96c953"/><stop offset="59.38%" stop-color="#8bc65b"/><stop offset="60.94%" stop-color="#85c56a"/><stop offset="62.5%" stop-color="#7dc47b"/><stop offset="64.06%" stop-color="#74c38d"/><stop offset="65.62%" stop-color="#6dc3a1"/><stop offset="67.19%" stop-color="#68c5b5"/><stop offset="68.75%" stop-color="#62c6ca"/><stop offset="70.31%" stop-color="#57c7db"/><stop offset="71.88%" stop-color="#49c7eb"/><stop offset="73.44%" stop-color="#29bced"/><stop offset="75%" stop-color="#329cd6"/><stop offset="76.56%" stop-color="#3a7fc2"/><stop offset="78.12%" stop-color="#3c71b8"/><stop offset="79.69%" stop-color="#3e62af"/><stop offset="81.25%" stop-color="#3d5cab"/><stop offset="82.81%" stop-color="#3b58a8"/><stop offset="84.38%" stop-color="#3a54a5"/><stop offset="85.94%" stop-color="#394fa3"/><stop offset="87.5%" stop-color="#36489c"/><stop offset="89.06%" stop-color="#334197"/><stop offset="90.62%" stop-color="#303b92"/><stop offset="92.19%" stop-color="#2e368d"/><stop offset="93.75%" stop-color="#2d3489"/><stop offset="95.31%" stop-color="#2c3286"/><stop offset="96.88%" stop-color="#2b3084"/><stop offset="98.44%" stop-color="#2b2f82"/><stop offset="100%" stop-color="#2b2f82"/></linearGradient><linearGradient id="h27"><stop offset="0%" stop-color="#2b2f82"/><stop offset="1.56%" stop-color="#2b2f82"/><stop offset="3.12%" stop-color="#2b2f82"/><stop offset="4.69%" stop-color="#2b3084"/><stop offset="6.25%" stop-color="#2c3287"/><stop offset="7.81%" stop-color="#2d348a"/><stop offset="9.38%" stop-color="#2e378e"/><stop offset="10.94%" stop-color="#303c93"/><stop offset="12.5%" stop-color="#334398"/><stop offset="14.06%" stop-color="#364a9e"/><stop offset="15.62%" stop-color="#3951a4"/><stop offset="17.19%" stop-color="#3b55a6"/><stop offset="18.75%" stop-color="#3c5aa9"/><stop offset="20.31%" stop-color="#3d5eac"/><stop offset="21.88%" stop-color="#3d69b3"/><stop offset="23.44%" stop-color="#3b78bd"/><stop offset="25%" stop-color="#368ecc"/><stop offset="26.56%" stop-color="#2cb1e5"/><stop offset="28.12%" stop-color="#3fc5ec"/><stop offset="29.69%" stop-color="#54c7de"/><stop offset="31.25%" stop-color="#61c6cc"/><stop offset="32.81%" stop-color="#69c4b5"/><stop offset="34.38%" stop-color="#6ec39e"/><stop offset="35.94%" stop-color="#77c387"/><stop offset="37.5%" stop-color="#81c472"/><stop offset="39.06%" stop-color="#8ac65e"/><stop offset="40.62%" stop-color="#99ca51"/><stop offset="42.19%" stop-color="#a6cf46"/><stop offset="43.75%" stop-color="#b2d33d"/><stop offset="45.31%" stop-color="#bcd636"/><stop offset="46.88%" stop-color="#c3d831"/><stop offset="48.44%" stop-color="#c8da2d"/><stop offset="50%" stop-color="#cbdb2b"/><stop offset="51.56%" stop-color="#cbdb2b"/><stop offset="53.12%" stop-color="#c8da2d"/><stop offset="54.69%" stop-color="#c3d831"/><stop offset="56.25%" stop-color="#bcd636"/><stop offset="57.81%" stop-color="#b3d33d"/><stop offset="59.38%" stop-color="#a7cf46"/><stop offset="60.94%" stop-color="#99ca50"/><stop offset="62.5%" stop-color="#8ac65d"/><stop offset="64.06%" stop-color="#81c471"/><stop offset="65.62%" stop-color="#77c387"/><stop offset="67.19%" stop-color="#6ec39e"/><stop offset="68.75%" stop-color="#69c4b5"/><stop offset="70.31%" stop-color="#62c6cb"/><stop offset="71.88%" stop-color="#55c7de"/><stop offset="73.44%" stop-color="#40c5ec"/><stop offset="75%" stop-color="#2cb2e5"/><stop offset="76.56%" stop-color="#368fcd"/><stop offset="78.12%" stop-color="#3b78be"/><stop offset="79.69%" stop-color="#3d69b3"/><stop offset="81.25%" stop-color="#3d5eac"/><stop offset="82.81%" stop-color="#3c5aa9"/><stop offset="84.38%" stop-color="#3b55a6"/><stop offset="85.94%" stop-color="#3951a4"/><stop offset="87.5%" stop-color="#364a9e"/><stop offset="89.06%" stop-color="#334398"/><stop offset="90.62%" stop-color="#303d93"/><stop offset="92.19%" stop-color="#2e378e"/><stop offset="93.75%" stop-color="#2d348a"/><stop offset="95.31%" stop-color="#2c3287"/><stop offset="96.88%" stop-color="#2b3084"/><stop offset="98.44%" stop-color="#2b2f82"/><stop offset="100%" stop-color="#2b2f82"/></linearGradient><linearGradient id="h28"><stop offset="0%" stop-color="#2b2f82"/><stop offset="1.56%" stop-color="#2b2f82"/><stop offset="3.12%" stop-color="#2b2f82"/><stop offset="4.69%" stop-color="#2b3084"/><stop offset="6.25%" stop-color="#2c3287"/><stop offset="7.81%" stop-color="#2d348a"/><stop offset="9.38%" stop-color="#2e378e"/><stop offset="10.94%" stop-color="#313d93"/><stop offset="12.5%" stop-color="#344499"/><stop offset="14.06%" stop-color="#374b9f"/><stop offset="15.62%" stop-color="#3a52a4"/><stop offset="17.19%" stop-color="#3b56a7"/><stop offset="18.75%" stop-color="#3c5baa"/><stop offset="20.31%" stop-color="#3e60ad"/><stop offset="21.88%" stop-color="#3c6eb7"/><stop offset="23.44%" stop-color="#3a7ec1"/><stop offset="25%" stop-color="#329dd7"/><stop offset="26.56%" stop-color="#2bbfee"/><stop offset="28.12%" stop-color="#4ec8e7"/><stop offset="29.69%" stop-color="#5cc7d3"/><stop offset="31.25%" stop-color="#66c5be"/><stop offset="32.81%" stop-color="#6dc3a4"/><stop offset="34.38%" stop-color="#75c38c"/><stop offset="35.94%" stop-color="#80c473"/><stop offset="37.5%" stop-color="#8bc65d"/><stop offset="39.06%" stop-color="#9ccb4e"/><stop offset="40.62%" stop-color="#add141"/><stop offset="42.19%" stop-color="#bbd637"/><stop offset="43.75%" stop-color="#c8da2d"/><stop offset="45.31%" stop-color="#d2de25"/><stop offset="46.88%" stop-color="#dae11f"/><stop offset="48.44%" stop-color="#dfe31a"/><stop offset="50%" stop-color="#e2e418"/><stop offset="51.56%" stop-color="#e2e418"/><stop offset="53.12%" stop-color="#dfe31a"/><stop offset="54.69%" stop-color="#dae11e"/><stop offset="56.25%" stop-color="#d2de25"/><stop offset="57.81%" stop-color="#c8da2d"/><stop offset="59.38%" stop-color="#bcd636"/><stop offset="60.94%" stop-color="#add141"/><stop offset="62.5%" stop-color="#9dcc4e"/><stop offset="64.06%" stop-color="#8bc65c"/><stop offset="65.62%" stop-color="#80c473"/><stop offset="67.19%" stop-color="#75c38b"/><stop offset="68.75%" stop-color="#6dc3a4"/><stop offset="70.31%" stop-color="#67c5bd"/><stop offset="71.88%" stop-color="#5cc7d3"/><stop offset="73.44%" stop-color="#4ec8e7"/><stop offset="75%" stop-color="#2cbfee"/><stop offset="76.56%" stop-color="#329ed7"/><stop offset="78.12%" stop-color="#3a7ec1"/><stop offset="79.69%" stop-color="#3c6fb7"/><stop offset="81.25%" stop-color="#3e60ad"/><stop offset="82.81%" stop-color="#3c5baa"/><stop offset="84.38%" stop-color="#3b56a7"/><stop offset="85.94%" stop-color="#3a52a4"/><stop offset="87.5%" stop-color="#374c9f"/><stop offset="89.06%" stop-color="#344499"/><stop offset="90.62%" stop-color="#313d93"/><stop offset="92.19%" stop-color="#2e388e"/><stop offset="93.75%" stop-color="#2d348a"/><stop offset="95.31%" stop-color="#2c3287"/><stop offset="96.88%" stop-color="#2b3084"/><stop offset="98.44%" stop-color="#2b2f83"/><stop offset="100%" stop-color="#2b2f82"/></linearGradient><linearGradient id="h29"><stop offset="0%" stop-color="#2b2f82"/><stop offset="1.56%" stop-color="#2b2f82"/><stop offset="3.12%" stop-color="#2b2f83"/><stop offset="4.69%" stop-color="#2b3184"/><stop offset="6.25%" stop-color="#2c3287"/><stop offset="7.81%" stop-color="#2d358b"/><stop offset="9.38%" stop-color="#2e388f"/><stop offset="10.94%" stop-color="#313e94"/><stop offset="12.5%" stop-color="#34459a"/><stop offset="14.06%" stop-color="#384da0"/><stop offset="15.62%" stop-color="#3a53a5"/><stop offset="17.19%" stop-color="#3b57a8"/><stop offset="18.75%" stop-color="#3d5cab"/><stop offset="20.31%" stop-color="#3e64af"/><stop offset="21.88%" stop-color="#3c73ba"/><stop offset="23.44%" stop-color="#3986c7"/><stop offset="25%" stop-color="#2eace1"/><stop offset="26.56%" stop-color="#3dc4ec"/><stop offset="28.12%" stop-color="#55c7dd"/><stop offset="29.69%" stop-color="#63c6c9"/><stop offset="31.25%" stop-color="#6ac4ae"/><stop offset="32.81%" stop-color="#71c294"/><stop offset="34.38%" stop-color="#7ec479"/><stop offset="35.94%" stop-color="#8ac65f"/><stop offset="37.5%" stop-color="#9ccb4e"/><stop offset="39.06%" stop-color="#b0d23f"/><stop offset="40.62%" stop-color="#c1d832"/><stop offset="42.19%" stop-color="#d0dd26"/><stop offset="43.75%" stop-color="#dee31b"/><stop offset="45.31%" stop-color="#e8e713"/><stop offset="46.88%" stop-color="#f0ea0c"/><stop offset="48.44%" stop-color="#f6ec08"/><stop offset="50%" stop-color="#f9ed05"/><stop offset="51.56%" stop-color="#f9ed05"/><stop offset="53.12%" stop-color="#f6ec07"/><stop offset="54.69%" stop-color="#f0ea0c"/><stop offset="56.25%" stop-color="#e8e712"/><stop offset="57.81%" stop-color="#dee31b"/><stop offset="59.38%" stop-color="#d1dd26"/><stop offset="60.94%" stop-color="#c1d832"/><stop offset="62.5%" stop-color="#b0d23f"/><stop offset="64.06%" stop-color="#9dcc4d"/><stop offset="65.62%" stop-color="#8ac65f"/><stop offset="67.19%" stop-color="#7ec478"/><stop offset="68.75%" stop-color="#71c293"/><stop offset="70.31%" stop-color="#6ac4ad"/><stop offset="71.88%" stop-color="#64c6c8"/><stop offset="73.44%" stop-color="#55c7dd"/><stop offset="75%" stop-color="#3ec4ec"/><stop offset="76.56%" stop-color="#2dade2"/><stop offset="78.12%" stop-color="#3987c7"/><stop offset="79.69%" stop-color="#3c74ba"/><stop offset="81.25%" stop-color="#3e64b0"/><stop offset="82.81%" stop-color="#3d5cab"/><stop offset="84.38%" stop-color="#3b57a8"/><stop offset="85.94%" stop-color="#3a53a5"/><stop offset="87.5%" stop-color="#384da1"/><stop offset="89.06%" stop-color="#34459a"/><stop offset="90.62%" stop-color="#313e94"/><stop offset="92.19%" stop-color="#2f388f"/><stop offset="93.75%" stop-color="#2d358b"/><stop offset="95.31%" stop-color="#2c3287"/><stop offset="96.88%" stop-color="#2b3184"/><stop offset="98.44%" stop-color="#2b2f83"/><stop offset="100%" stop-color="#2b2f82"/></linearGradient><linearGradient id="h30"><stop offset="0%" stop-color="#2b2f82"/><stop offset="1.56%" stop-color="#2b2f82"/><stop offset="3.12%" stop-color="#2b2f83"/><stop offset="4.69%" stop-color="#2b3184"/><stop offset="6.25%" stop-color="#2c3387"/><stop offset="7.81%" stop-color="#2d358b"/><stop offset="9.38%" stop-color="#2f3990"/><stop offset="10.94%" stop-color="#323f95"/><stop offset="12.5%" stop-color="#35479b"/><stop offset="14.06%" stop-color="#394fa2"/><stop offset="15.62%" stop-color="#3a54a5"/><stop offset="17.19%" stop-color="#3c59a8"/><stop offset="18.75%" stop-color="#3d5eac"/><stop offset="20.31%" stop-color="#3d6ab3"/><stop offset="21.88%" stop-color="#3b7abf"/><stop offset="23.44%" stop-color="#3398d3"/><stop offset="25%" stop-color="#2abeee"/><stop offset="26.56%" stop-color="#4fc8e6"/><stop offset="28.12%" stop-color="#5ec6d0"/><stop offset="29.69%" stop-color="#68c5b6"/><stop offset="31.25%" stop-color="#6fc299"/><stop offset="32.81%" stop-color="#7cc47c"/><stop offset="34.38%" stop-color="#8ac65f"/><stop offset="35.94%" stop-color="#9fcc4c"/><stop offset="37.5%" stop-color="#b6d43b"/><stop offset="39.06%" stop-color="#cadb2b"/><stop offset="40.62%" stop-color="#dde21c"/><stop offset="42.19%" stop-color="#ede90f"/><stop offset="43.75%" stop-color="#fbee04"/><stop offset="45.31%" stop-color="#fee803"/><stop offset="46.88%" stop-color="#fddd06"/><stop offset="48.44%" stop-color="#fdd609"/><stop offset="50%" stop-color="#fcd30a"/><stop offset="51.56%" stop-color="#fcd30a"/><stop offset="53.12%" stop-color="#fdd609"/><stop offset="54.69%" stop-color="#fddd06"/><stop offset="56.25%" stop-color="#fee703"/><stop offset="57.81%" stop-color="#fbee03"/><stop offset="59.38%" stop-color="#ede90f"/><stop offset="60.94%" stop-color="#dde21c"/><stop offset="62.5%" stop-color="#cadb2b"/><stop offset="64.06%" stop-color="#b6d43a"/><stop offset="65.62%" stop-color="#a0cd4b"/><stop offset="67.19%" stop-color="#8ac65e"/><stop offset="68.75%" stop-color="#7dc47b"/><stop offset="70.31%" stop-color="#6fc298"/><stop offset="71.88%" stop-color="#69c4b5"/><stop offset="73.44%" stop-color="#5fc6d0"/><stop offset="75%" stop-color="#4fc8e5"/><stop offset="76.56%" stop-color="#2bbfee"/><stop offset="78.12%" stop-color="#3399d4"/><stop offset="79.69%" stop-color="#3b7bbf"/><stop offset="81.25%" stop-color="#3d6ab4"/><stop offset="82.81%" stop-color="#3d5eac"/><stop offset="84.38%" stop-color="#3c59a9"/><stop offset="85.94%" stop-color="#3a54a6"/><stop offset="87.5%" stop-color="#394fa2"/><stop offset="89.06%" stop-color="#35479b"/><stop offset="90.62%" stop-color="#324095"/><stop offset="92.19%" stop-color="#2f3990"/><stop offset="93.75%" stop-color="#2d358b"/><stop offset="95.31%" stop-color="#2c3387"/><stop offset="96.88%" stop-color="#2b3185"/><stop offset="98.44%" stop-color="#2b2f83"/><stop offset="100%" stop-color="#2b2f82"/></linearGradient><linearGradient id="h31"><stop offset="0%" stop-color="#2b2f82"/><stop offset="1.56%" stop-color="#2b2f82"/><stop offset="3.12%" stop-color="#2b2f83"/><stop offset="4.69%" stop-color="#2b3185"/><stop offset="6.25%" stop-color="#2c3388"/><stop offset="7.81%" stop-color="#2d358b"/><stop offset="9.38%" stop-color="#2f3a90"/><stop offset="10.94%" stop-color="#324096"/><stop offset="12.5%" stop-color="#35489c"/><stop offset="14.06%" stop-color="#3950a3"/><stop offset="15.62%" stop-color="#3b55a6"/><stop offset="17.19%" stop-color="#3c5aa9"/><stop offset="18.75%" stop-color="#3e5fac"/><stop offset="20.31%" stop-color="#3c6eb7"/><stop offset="21.88%" stop-color="#3a80c2"/><stop offset="23.44%" stop-color="#2fa5dd"/><stop offset="25%" stop-color="#3ac3ec"/><stop offset="26.56%" stop-color="#55c7dd"/><stop offset="28.12%" stop-color="#65c6c6"/><stop offset="29.69%" stop-color="#6cc3a7"/><stop offset="31.25%" stop-color="#76c389"/><stop offset="32.81%" stop-color="#85c56a"/><stop offset="34.38%" stop-color="#98ca51"/><stop offset="35.94%" stop-color="#b1d23e"/><stop offset="37.5%" stop-color="#c8da2d"/><stop offset="39.06%" stop-color="#dee31b"/><stop offset="40.62%" stop-color="#f1ea0b"/><stop offset="42.19%" stop-color="#ffec01"/><stop offset="43.75%" stop-color="#fddb07"/><stop offset="45.31%" stop-color="#fccd0c"/><stop offset="46.88%" stop-color="#fbc20f"/><stop offset="48.44%" stop-color="#fabb12"/><stop offset="50%" stop-color="#fab713"/><stop offset="51.56%" stop-color="#fab713"/><stop offset="53.12%" stop-color="#fabb12"/><stop offset="54.69%" stop-color="#fbc20f"/><stop offset="56.25%" stop-color="#fccd0c"/><stop offset="57.81%" stop-color="#fddb07"/><stop offset="59.38%" stop-color="#ffec01"/><stop offset="60.94%" stop-color="#f2eb0b"/><stop offset="62.5%" stop-color="#dee31b"/><stop offset="64.06%" stop-color="#c9da2c"/><stop offset="65.62%" stop-color="#b2d33e"/><stop offset="67.19%" stop-color="#99ca50"/><stop offset="68.75%" stop-color="#85c569"/><stop offset="70.31%" stop-color="#77c388"/><stop offset="71.88%" stop-color="#6cc3a6"/><stop offset="73.44%" stop-color="#65c6c5"/><stop offset="75%" stop-color="#55c7dc"/><stop offset="76.56%" stop-color="#3bc3ec"/><stop offset="78.12%" stop-color="#2fa6dd"/><stop offset="79.69%" stop-color="#3a80c3"/><stop offset="81.25%" stop-color="#3c6fb7"/><stop offset="82.81%" stop-color="#3e5fad"/><stop offset="84.38%" stop-color="#3c5aa9"/><stop offset="85.94%" stop-color="#3b55a6"/><stop offset="87.5%" stop-color="#3950a3"/><stop offset="89.06%" stop-color="#36489c"/><stop offset="90.62%" stop-color="#324096"/><stop offset="92.19%" stop-color="#2f3a90"/><stop offset="93.75%" stop-color="#2d358b"/><stop offset="95.31%" stop-color="#2c3388"/><stop offset="96.88%" stop-color="#2c3185"/><stop offset="98.44%" stop-color="#2b2f83"/><stop offset="100%" stop-color="#2b2f82"/></linearGradient><linearGradient id="h32"><stop offset="0%" stop-color="#2b2f82"/><stop offset="1.56%" stop-color="#2b2f82"/><stop offset="3.12%" stop-color="#2b2f83"/><stop offset="4.69%" stop-color="#2c3185"/><stop offset="6.25%" stop-color="#2c3388"/><stop offset="7.81%" stop-color="#2d358c"/><stop offset="9.38%" stop-color="#2f3a91"/><stop offset="10.94%" stop-color="#324197"/><stop offset="12.5%" stop-color="#36499d"/><stop offset="14.06%" stop-color="#3951a4"/><stop offset="15.62%" stop-color="#3b56a7"/><stop offset="17.19%" stop-color="#3c5baa"/><stop offset="18.75%" stop-color="#3e61ae"/><stop offset="20.31%" stop-color="#3c73ba"/><stop offset="21.88%" stop-color="#3888c8"/><stop offset="23.44%" stop-color="#2bb2e6"/><stop offset="25%" stop-color="#4ac8eb"/><stop offset="26.56%" stop-color="#5cc7d4"/><stop offset="28.12%" stop-color="#68c5b8"/><stop offset="29.69%" stop-color="#6fc299"/><stop offset="31.25%" stop-color="#7ec478"/><stop offset="32.81%" stop-color="#8ec758"/><stop offset="34.38%" stop-color="#a9d044"/><stop offset="35.94%" stop-color="#c3d831"/><stop offset="37.5%" stop-color="#dce21d"/><stop offset="39.06%" stop-color="#f2eb0b"/><stop offset="40.62%" stop-color="#fee803"/><stop offset="42.19%" stop-color="#fcd30a"/><stop offset="43.75%" stop-color="#fbc110"/><stop offset="45.31%" stop-color="#f9b215"/><stop offset="46.88%" stop-color="#f9a718"/><stop offset="48.44%" stop-color="#f89f1b"/><stop offset="50%" stop-color="#f89c1c"/><stop offset="51.56%" stop-color="#f89c1c"/><stop offset="53.12%" stop-color="#f89f1b"/><stop offset="54.69%" stop-color="#f8a718"/><stop offset="56.25%" stop-color="#f9b215"/><stop offset="57.81%" stop-color="#fbc010"/><stop offset="59.38%" stop-color="#fcd20a"/><stop offset="60.94%" stop-color="#fee703"/><stop offset="62.5%" stop-color="#f2eb0a"/><stop offset="64.06%" stop-color="#dce21d"/><stop offset="65.62%" stop-color="#c4d930"/><stop offset="67.19%" stop-color="#aad043"/><stop offset="68.75%" stop-color="#8fc758"/><stop offset="70.31%" stop-color="#7fc477"/><stop offset="71.88%" stop-color="#70c298"/><stop offset="73.44%" stop-color="#68c5b7"/><stop offset="75%" stop-color="#5cc7d3"/><stop offset="76.56%" stop-color="#4bc8eb"/><stop offset="78.12%" stop-color="#2bb3e7"/><stop offset="79.69%" stop-color="#3889c9"/><stop offset="81.25%" stop-color="#3c73ba"/><stop offset="82.81%" stop-color="#3e62ae"/><stop offset="84.38%" stop-color="#3c5baa"/><stop offset="85.94%" stop-color="#3b56a7"/><stop offset="87.5%" stop-color="#3951a4"/><stop offset="89.06%" stop-color="#36499d"/><stop offset="90.62%" stop-color="#334197"/><stop offset="92.19%" stop-color="#2f3a91"/><stop offset="93.75%" stop-color="#2d368c"/><stop offset="95.31%" stop-color="#2c3388"/><stop offset="96.88%" stop-color="#2c3185"/><stop offset="98.44%" stop-color="#2b2f83"/><stop offset="100%" stop-color="#2b2f82"/></linearGradient><linearGradient id="h33"><stop offset="0%" stop-color="#2b2f82"/><stop offset="1.56%" stop-color="#2b2f82"/><stop offset="3.12%" stop-color="#2b2f83"/><stop offset="4.69%" stop-color="#2c3185"/><stop offset="6.25%" stop-color="#2c3388"/><stop offset="7.81%" stop-color="#2d368c"/><stop offset="9.38%" stop-color="#303b91"/><stop offset="10.94%" stop-color="#334297"/><stop offset="12.5%" stop-color="#364a9e"/><stop offset="14.06%" stop-color="#3a52a4"/><stop offset="15.62%" stop-color="#3b57a7"/><stop offset="17.19%" stop-color="#3d5cab"/><stop offset="18.75%" stop-color="#3d65b0"/><stop offset="20.31%" stop-color="#3b77bd"/><stop offset="21.88%" stop-color="#3594d1"/><stop offset="23.44%" stop-color="#2abfee"/><stop offset="25%" stop-color="#51c8e3"/><stop offset="26.56%" stop-color="#62c6cb"/><stop offset="28.12%" stop-color="#6bc4ab"/><stop offset="29.69%" stop-color="#76c389"/><stop offset="31.25%" stop-color="#86c567"/><stop offset="32.81%" stop-color="#9ecc4c"/><stop offset="34.38%" stop-color="#bad537"/><stop offset="35.94%" stop-color="#d5df22"/><stop offset="37.5%" stop-color="#efe90d"/><stop offset="39.06%" stop-color="#fee803"/><stop offset="40.62%" stop-color="#fccf0b"/><stop offset="42.19%" stop-color="#fab912"/><stop offset="43.75%" stop-color="#f8a619"/><stop offset="45.31%" stop-color="#f7971e"/><stop offset="46.88%" stop-color="#f68f1e"/><stop offset="48.44%" stop-color="#f68a1f"/><stop offset="50%" stop-color="#f5871f"/><stop offset="51.56%" stop-color="#f5871f"/><stop offset="53.12%" stop-color="#f68a1f"/><stop offset="54.69%" stop-color="#f68f1f"/><stop offset="56.25%" stop-color="#f7971e"/><stop offset="57.81%" stop-color="#f8a619"/><stop offset="59.38%" stop-color="#fab813"/><stop offset="60.94%" stop-color="#fcce0b"/><stop offset="62.5%" stop-color="#fee703"/><stop offset="64.06%" stop-color="#efea0d"/><stop offset="65.62%" stop-color="#d6e022"/><stop offset="67.19%" stop-color="#bbd637"/><stop offset="68.75%" stop-color="#9fcc4c"/><stop offset="70.31%" stop-color="#86c566"/><stop offset="71.88%" stop-color="#76c388"/><stop offset="73.44%" stop-color="#6bc4aa"/><stop offset="75%" stop-color="#62c6ca"/><stop offset="76.56%" stop-color="#51c8e3"/><stop offset="78.12%" stop-color="#2bbfee"/><stop offset="79.69%" stop-color="#3495d1"/><stop offset="81.25%" stop-color="#3b78bd"/><stop offset="82.81%" stop-color="#3d66b1"/><stop offset="84.38%" stop-color="#3d5cab"/><stop offset="85.94%" stop-color="#3b57a7"/><stop offset="87.5%" stop-color="#3a52a4"/><stop offset="89.06%" stop-color="#374a9e"/><stop offset="90.62%" stop-color="#334297"/><stop offset="92.19%" stop-color="#303b91"/><stop offset="93.75%" stop-color="#2e368c"/><stop offset="95.31%" stop-color="#2c3388"/><stop offset="96.88%" stop-color="#2c3185"/><stop offset="98.44%" stop-color="#2b2f83"/><stop offset="100%" stop-color="#2b2f82"/></linearGradient><linearGradient id="h34"><stop offset="0%" stop-color="#2b2f82"/><stop offset="1.56%" stop-color="#2b2f82"/><stop offset="3.12%" stop-color="#2b2f83"/><stop offset="4.69%" stop-color="#2c3185"/><stop offset="6.25%" stop-color="#2c3388"/><stop offset="7.81%" stop-color="#2e368c"/><stop offset="9.38%" stop-color="#303b92"/><stop offset="10.94%" stop-color="#334398"/><stop offset="12.5%" stop-color="#374b9f"/><stop offset="14.06%" stop-color="#3a52a5"/><stop offset="15.62%" stop-color="#3b58a8"/><stop offset="17.19%" stop-color="#3d5dab"/><stop offset="18.75%" stop-color="#3d69b3"/><stop offset="20.31%" stop-color="#3b7cc0"/><stop offset="21.88%" stop-color="#31a0d9"/><stop offset="23.44%" stop-color="#38c3ed"/><stop offset="25%" stop-color="#56c7db"/><stop offset="26.56%" stop-color="#66c5c0"/><stop offset="28.12%" stop-color="#6ec39d"/><stop offset="29.69%" stop-color="#7dc479"/><stop offset="31.25%" stop-color="#90c757"/><stop offset="32.81%" stop-color="#aed140"/><stop offset="34.38%" stop-color="#ccdb2a"/><stop offset="35.94%" stop-color="#e8e713"/><stop offset="37.5%" stop-color="#ffec01"/><stop offset="39.06%" stop-color="#fcd00b"/><stop offset="40.62%" stop-color="#fab613"/><stop offset="42.19%" stop-color="#f89f1b"/><stop offset="43.75%" stop-color="#f68f1e"/><stop offset="45.31%" stop-color="#f5851f"/><stop offset="46.88%" stop-color="#f47d20"/><stop offset="48.44%" stop-color="#f47820"/><stop offset="50%" stop-color="#f37520"/><stop offset="51.56%" stop-color="#f37520"/><stop offset="53.12%" stop-color="#f47820"/><stop offset="54.69%" stop-color="#f47d20"/><stop offset="56.25%" stop-color="#f5851f"/><stop offset="57.81%" stop-color="#f68f1f"/><stop offset="59.38%" stop-color="#f89f1b"/><stop offset="60.94%" stop-color="#fab514"/><stop offset="62.5%" stop-color="#fccf0b"/><stop offset="64.06%" stop-color="#ffec01"/><stop offset="65.62%" stop-color="#e8e713"/><stop offset="67.19%" stop-color="#ccdc2a"/><stop offset="68.75%" stop-color="#afd240"/><stop offset="70.31%" stop-color="#90c757"/><stop offset="71.88%" stop-color="#7ec479"/><stop offset="73.44%" stop-color="#6ec39d"/><stop offset="75%" stop-color="#66c5bf"/><stop offset="76.56%" stop-color="#57c7db"/><stop offset="78.12%" stop-color="#3ac3ec"/><stop offset="79.69%" stop-color="#31a1da"/><stop offset="81.25%" stop-color="#3b7cc0"/><stop offset="82.81%" stop-color="#3d6ab3"/><stop offset="84.38%" stop-color="#3d5dab"/><stop offset="85.94%" stop-color="#3b58a8"/><stop offset="87.5%" stop-color="#3a53a5"/><stop offset="89.06%" stop-color="#374c9f"/><stop offset="90.62%" stop-color="#334398"/><stop offset="92.19%" stop-color="#303c92"/><stop offset="93.75%" stop-color="#2e368d"/><stop offset="95.31%" stop-color="#2c3388"/><stop offset="96.88%" stop-color="#2c3185"/><stop offset="98.44%" stop-color="#2b3083"/><stop offset="100%" stop-color="#2b2f82"/></linearGradient><linearGradient id="h35"><stop offset="0%" stop-color="#2b2f82"/><stop offset="1.56%" stop-color="#2b2f82"/><stop offset="3.12%" stop-color="#2b3083"/><stop offset="4.69%" stop-color="#2c3185"/><stop offset="6.25%" stop-color="#2d3388"/><stop offset="7.81%" stop-color="#2e368d"/><stop offset="9.38%" stop-color="#303c92"/><stop offset="10.94%" stop-color="#344499"/><stop offset="12.5%" stop-color="#374da0"/><stop offset="14.06%" stop-color="#3a53a5"/><stop offset="15.62%" stop-color="#3c58a8"/><stop offset="17.19%" stop-color="#3d5eac"/><stop offset="18.75%" stop-color="#3c6db6"/><stop offset="20.31%" stop-color="#3a80c3"/><stop offset="21.88%" stop-color="#2dace1"/><stop offset="23.44%" stop-color="#47c7eb"/><stop offset="25%" stop-color="#5cc7d3"/><stop offset="26.56%" stop-color="#69c4b3"/><stop offset="28.12%" stop-color="#73c290"/><stop offset="29.69%" stop-color="#85c56a"/><stop offset="31.25%" stop-color="#9fcc4c"/><stop offset="32.81%" stop-color="#bed734"/><stop offset="34.38%" stop-color="#dde21c"/><stop offset="35.94%" stop-color="#faee04"/><stop offset="37.5%" stop-color="#fdd509"/><stop offset="39.06%" stop-color="#fab813"/><stop offset="40.62%" stop-color="#f89d1c"/><stop offset="42.19%" stop-color="#f68b1f"/><stop offset="43.75%" stop-color="#f47e20"/><stop offset="45.31%" stop-color="#f37321"/><stop offset="46.88%" stop-color="#f26b21"/><stop offset="48.44%" stop-color="#f26522"/><stop offset="50%" stop-color="#f16322"/><stop offset="51.56%" stop-color="#f16222"/><stop offset="53.12%" stop-color="#f26522"/><stop offset="54.69%" stop-color="#f26b21"/><stop offset="56.25%" stop-color="#f37321"/><stop offset="57.81%" stop-color="#f47d20"/><stop offset="59.38%" stop-color="#f68b1f"/><stop offset="60.94%" stop-color="#f89c1c"/><stop offset="62.5%" stop-color="#fab713"/><stop offset="64.06%" stop-color="#fdd509"/><stop offset="65.62%" stop-color="#fbee03"/><stop offset="67.19%" stop-color="#dee31b"/><stop offset="68.75%" stop-color="#bfd734"/><stop offset="70.31%" stop-color="#9fcc4b"/><stop offset="71.88%" stop-color="#85c569"/><stop offset="73.44%" stop-color="#73c28f"/><stop offset="75%" stop-color="#69c4b3"/><stop offset="76.56%" stop-color="#5dc7d2"/><stop offset="78.12%" stop-color="#48c7eb"/><stop offset="79.69%" stop-color="#2dade2"/><stop offset="81.25%" stop-color="#3a81c3"/><stop offset="82.81%" stop-color="#3c6db6"/><stop offset="84.38%" stop-color="#3d5eac"/><stop offset="85.94%" stop-color="#3c59a8"/><stop offset="87.5%" stop-color="#3a53a5"/><stop offset="89.06%" stop-color="#384da0"/><stop offset="90.62%" stop-color="#344499"/><stop offset="92.19%" stop-color="#303c92"/><stop offset="93.75%" stop-color="#2e368d"/><stop offset="95.31%" stop-color="#2d3388"/><stop offset="96.88%" stop-color="#2c3185"/><stop offset="98.44%" stop-color="#2b3083"/><stop offset="100%" stop-color="#2b2f82"/></linearGradient><linearGradient id="h36"><stop offset="0%" stop-color="#2b2f82"/><stop offset="1.56%" stop-color="#2b2f82"/><stop offset="3.12%" stop-color="#2b3083"/><stop offset="4.69%" stop-color="#2c3185"/><stop offset="6.25%" stop-color="#2d3389"/><stop offset="7.81%" stop-color="#2e368d"/><stop offset="9.38%" stop-color="#313d93"/><stop offset="10.94%" stop-color="#34459a"/><stop offset="12.5%" stop-color="#384ea1"/><stop offset="14.06%" stop-color="#3a54a5"/><stop offset="15.62%" stop-color="#3c59a9"/><stop offset="17.19%" stop-color="#3e5fad"/><stop offset="18.75%" stop-color="#3c71b8"/><stop offset="20.31%" stop-color="#3889c9"/><stop offset="21.88%" stop-color="#2ab7e9"/><stop offset="23.44%" stop-color="#4fc8e6"/><stop offset="25%" stop-color="#62c6cb"/><stop offset="26.56%" stop-color="#6cc3a7"/><stop offset="28.12%" stop-color="#7ac381"/><stop offset="29.69%" stop-color="#8cc65a"/><stop offset="31.25%" stop-color="#aed141"/><stop offset="32.81%" stop-color="#cfdd28"/><stop offset="34.38%" stop-color="#eee90e"/><stop offset="35.94%" stop-color="#fee005"/><stop offset="37.5%" stop-color="#fbbe11"/><stop offset="39.06%" stop-color="#f8a01b"/><stop offset="40.62%" stop-color="#f68a1f"/><stop offset="42.19%" stop-color="#f47a20"/><stop offset="43.75%" stop-color="#f26c21"/><stop offset="45.31%" stop-color="#f16122"/><stop offset="46.88%" stop-color="#f15722"/><stop offset="48.44%" stop-color="#f05022"/><stop offset="50%" stop-color="#f04d23"/><stop offset="51.56%" stop-color="#f04d23"/><stop offset="53.12%" stop-color="#f05022"/><stop offset="54.69%" stop-color="#f15722"/><stop offset="56.25%" stop-color="#f16122"/><stop offset="57.81%" stop-color="#f26c21"/><stop offset="59.38%" stop-color="#f47a20"/><stop offset="60.94%" stop-color="#f68a1f"/><stop offset="62.5%" stop-color="#f89f1b"/><stop offset="64.06%" stop-color="#fbbe11"/><stop offset="65.62%" stop-color="#fddf06"/><stop offset="67.19%" stop-color="#efea0d"/><stop offset="68.75%" stop-color="#cfdd27"/><stop offset="70.31%" stop-color="#afd240"/><stop offset="71.88%" stop-color="#8dc659"/><stop offset="73.44%" stop-color="#7ac380"/><stop offset="75%" stop-color="#6cc3a6"/><stop offset="76.56%" stop-color="#62c6ca"/><stop offset="78.12%" stop-color="#4fc8e5"/><stop offset="79.69%" stop-color="#2ab9ea"/><stop offset="81.25%" stop-color="#388ac9"/><stop offset="82.81%" stop-color="#3c71b9"/><stop offset="84.38%" stop-color="#3e5fad"/><stop offset="85.94%" stop-color="#3c5aa9"/><stop offset="87.5%" stop-color="#3a54a6"/><stop offset="89.06%" stop-color="#384ea1"/><stop offset="90.62%" stop-color="#34459a"/><stop offset="92.19%" stop-color="#313d93"/><stop offset="93.75%" stop-color="#2e378d"/><stop offset="95.31%" stop-color="#2d3389"/><stop offset="96.88%" stop-color="#2c3185"/><stop offset="98.44%" stop-color="#2b3083"/><stop offset="100%" stop-color="#2b2f82"/></linearGradient><linearGradient id="h37"><stop offset="0%" stop-color="#2b2f82"/><stop offset="1.56%" stop-color="#2b2f82"/><stop offset="3.12%" stop-color="#2b3083"/><stop offset="4.69%" stop-color="#2c3185"/><stop offset="6.25%" stop-color="#2d3489"/><stop offset="7.81%" stop-color="#2e378d"/><stop offset="9.38%" stop-color="#313d93"/><stop offset="10.94%" stop-color="#34459a"/><stop offset="12.5%" stop-color="#384fa2"/><stop offset="14.06%" stop-color="#3a54a6"/><stop offset="15.62%" stop-color="#3c5aa9"/><stop offset="17.19%" stop-color="#3e60ad"/><stop offset="18.75%" stop-color="#3c74ba"/><stop offset="20.31%" stop-color="#368fcd"/><stop offset="21.88%" stop-color="#29beee"/><stop offset="23.44%" stop-color="#52c7e1"/><stop offset="25%" stop-color="#65c6c4"/><stop offset="26.56%" stop-color="#6ec39f"/><stop offset="28.12%" stop-color="#7ec477"/><stop offset="29.69%" stop-color="#95c953"/><stop offset="31.25%" stop-color="#b8d539"/><stop offset="32.81%" stop-color="#d9e11f"/><stop offset="34.38%" stop-color="#faee04"/><stop offset="35.94%" stop-color="#fcd10a"/><stop offset="37.5%" stop-color="#f9af16"/><stop offset="39.06%" stop-color="#f7921e"/><stop offset="40.62%" stop-color="#f47f20"/><stop offset="42.19%" stop-color="#f36e21"/><stop offset="43.75%" stop-color="#f16022"/><stop offset="45.31%" stop-color="#f05322"/><stop offset="46.88%" stop-color="#f04823"/><stop offset="48.44%" stop-color="#ef4123"/><stop offset="50%" stop-color="#ef3e23"/><stop offset="51.56%" stop-color="#ef3e23"/><stop offset="53.12%" stop-color="#ef4123"/><stop offset="54.69%" stop-color="#f04823"/><stop offset="56.25%" stop-color="#f05322"/><stop offset="57.81%" stop-color="#f16022"/><stop offset="59.38%" stop-color="#f36e21"/><stop offset="60.94%" stop-color="#f47e20"/><stop offset="62.5%" stop-color="#f6911e"/><stop offset="64.06%" stop-color="#f9ae16"/><stop offset="65.62%" stop-color="#fcd00b"/><stop offset="67.19%" stop-color="#fbee04"/><stop offset="68.75%" stop-color="#dae11e"/><stop offset="70.31%" stop-color="#b9d539"/><stop offset="71.88%" stop-color="#96c952"/><stop offset="73.44%" stop-color="#7fc476"/><stop offset="75%" stop-color="#6ec39e"/><stop offset="76.56%" stop-color="#65c6c4"/><stop offset="78.12%" stop-color="#53c7e0"/><stop offset="79.69%" stop-color="#2bbfee"/><stop offset="81.25%" stop-color="#3691ce"/><stop offset="82.81%" stop-color="#3c74bb"/><stop offset="84.38%" stop-color="#3e61ad"/><stop offset="85.94%" stop-color="#3c5aa9"/><stop offset="87.5%" stop-color="#3a55a6"/><stop offset="89.06%" stop-color="#384fa2"/><stop offset="90.62%" stop-color="#34459a"/><stop offset="92.19%" stop-color="#313d93"/><stop offset="93.75%" stop-color="#2e378e"/><stop offset="95.31%" stop-color="#2d3489"/><stop offset="96.88%" stop-color="#2c3185"/><stop offset="98.44%" stop-color="#2b3083"/><stop offset="100%" stop-color="#2b2f82"/></linearGradient><linearGradient id="h38"><stop offset="0%" stop-color="#2b2f82"/><stop offset="1.56%" stop-color="#2b2f82"/><stop offset="3.12%" stop-color="#2b3083"/><stop offset="4.69%" stop-color="#2c3185"/><stop offset="6.25%" stop-color="#2d3489"/><stop offset="7.81%" stop-color="#2e378e"/><stop offset="9.38%" stop-color="#313e94"/><stop offset="10.94%" stop-color="#35469b"/><stop offset="12.5%" stop-color="#3950a3"/><stop offset="14.06%" stop-color="#3b55a6"/><stop offset="15.62%" stop-color="#3c5baa"/><stop offset="17.19%" stop-color="#3e63af"/><stop offset="18.75%" stop-color="#3b78bd"/><stop offset="20.31%" stop-color="#339ad5"/><stop offset="21.88%" stop-color="#36c2ed"/><stop offset="23.44%" stop-color="#58c7d9"/><stop offset="25%" stop-color="#68c5b9"/><stop offset="26.56%" stop-color="#72c292"/><stop offset="28.12%" stop-color="#85c569"/><stop offset="29.69%" stop-color="#a3ce49"/><stop offset="31.25%" stop-color="#c7da2e"/><stop offset="32.81%" stop-color="#eae811"/><stop offset="34.38%" stop-color="#fee105"/><stop offset="35.94%" stop-color="#fabb12"/><stop offset="37.5%" stop-color="#f7981d"/><stop offset="39.06%" stop-color="#f5821f"/><stop offset="40.62%" stop-color="#f36e21"/><stop offset="42.19%" stop-color="#f15d22"/><stop offset="43.75%" stop-color="#f04b23"/><stop offset="45.31%" stop-color="#ef3d23"/><stop offset="46.88%" stop-color="#ee3223"/><stop offset="48.44%" stop-color="#ee2b24"/><stop offset="50%" stop-color="#ee2724"/><stop offset="51.56%" stop-color="#ee2724"/><stop offset="53.12%" stop-color="#ee2b24"/><stop offset="54.69%" stop-color="#ee3223"/><stop offset="56.25%" stop-color="#ef3d23"/><stop offset="57.81%" stop-color="#f04b23"/><stop offset="59.38%" stop-color="#f15d22"/><stop offset="60.94%" stop-color="#f36e21"/><stop offset="62.5%" stop-color="#f58120"/><stop offset="64.06%" stop-color="#f7971e"/><stop offset="65.62%" stop-color="#faba12"/><stop offset="67.19%" stop-color="#fee005"/><stop offset="68.75%" stop-color="#ebe811"/><stop offset="70.31%" stop-color="#c8da2d"/><stop offset="71.88%" stop-color="#a4ce48"/><stop offset="73.44%" stop-color="#86c568"/><stop offset="75%" stop-color="#72c291"/><stop offset="76.56%" stop-color="#68c5b8"/><stop offset="78.12%" stop-color="#58c7d9"/><stop offset="79.69%" stop-color="#38c3ed"/><stop offset="81.25%" stop-color="#339bd5"/><stop offset="82.81%" stop-color="#3b78bd"/><stop offset="84.38%" stop-color="#3e64b0"/><stop offset="85.94%" stop-color="#3c5baa"/><stop offset="87.5%" stop-color="#3b55a6"/><stop offset="89.06%" stop-color="#3950a3"/><stop offset="90.62%" stop-color="#35469b"/><stop offset="92.19%" stop-color="#313e94"/><stop offset="93.75%" stop-color="#2e378e"/><stop offset="95.31%" stop-color="#2d3489"/><stop offset="96.88%" stop-color="#2c3185"/><stop offset="98.44%" stop-color="#2b3083"/><stop offset="100%" stop-color="#2b2f82"/></linearGradient><linearGradient id="h39"><stop offset="0%" stop-color="#2b2f82"/><stop offset="1.56%" stop-color="#2b2f82"/><stop offset="3.12%" stop-color="#2b3083"/><stop offset="4.69%" stop-color="#2c3185"/><stop offset="6.25%" stop-color="#2d3489"/><stop offset="7.81%" stop-color="#2e378e"/><stop offset="9.38%" stop-color="#313e94"/><stop offset="10.94%" stop-color="#35479b"/><stop offset="12.5%" stop-color="#3950a3"/><stop offset="14.06%" stop-color="#3b56a7"/><stop offset="15.62%" stop-color="#3d5caa"/><stop offset="17.19%" stop-color="#3d66b1"/><stop offset="18.75%" stop-color="#3b7abf"/><stop offset="20.31%" stop-color="#31a1d9"/><stop offset="21.88%" stop-color="#3fc5ec"/><stop offset="23.44%" stop-color="#5bc7d5"/><stop offset="25%" stop-color="#69c4b2"/><stop offset="26.56%" stop-color="#76c38a"/><stop offset="28.12%" stop-color="#8ac65f"/><stop offset="29.69%" stop-color="#acd142"/><stop offset="31.25%" stop-color="#d1de26"/><stop offset="32.81%" stop-color="#f5ec08"/><stop offset="34.38%" stop-color="#fcd30a"/><stop offset="35.94%" stop-color="#f9ac17"/><stop offset="37.5%" stop-color="#f68d1f"/><stop offset="39.06%" stop-color="#f47720"/><stop offset="40.62%" stop-color="#f16322"/><stop offset="42.19%" stop-color="#f04f22"/><stop offset="43.75%" stop-color="#ef3d23"/><stop offset="45.31%" stop-color="#ee2f23"/><stop offset="46.88%" stop-color="#ed2424"/><stop offset="48.44%" stop-color="#ed1c24"/><stop offset="50%" stop-color="#e91c24"/><stop offset="51.56%" stop-color="#e91c24"/><stop offset="53.12%" stop-color="#ed1c24"/><stop offset="54.69%" stop-color="#ed2324"/><stop offset="56.25%" stop-color="#ee2e23"/><stop offset="57.81%" stop-color="#ef3d23"/><stop offset="59.38%" stop-color="#f04f22"/><stop offset="60.94%" stop-color="#f16322"/><stop offset="62.5%" stop-color="#f47620"/><stop offset="64.06%" stop-color="#f68c1f"/><stop offset="65.62%" stop-color="#f9ac17"/><stop offset="67.19%" stop-color="#fcd20a"/><stop offset="68.75%" stop-color="#f6ec08"/><stop offset="70.31%" stop-color="#d2de25"/><stop offset="71.88%" stop-color="#add141"/><stop offset="73.44%" stop-color="#8ac65e"/><stop offset="75%" stop-color="#76c389"/><stop offset="76.56%" stop-color="#6ac4b1"/><stop offset="78.12%" stop-color="#5bc7d4"/><stop offset="79.69%" stop-color="#40c5ec"/><stop offset="81.25%" stop-color="#30a2da"/><stop offset="82.81%" stop-color="#3b7bbf"/><stop offset="84.38%" stop-color="#3d66b1"/><stop offset="85.94%" stop-color="#3d5caa"/><stop offset="87.5%" stop-color="#3b56a7"/><stop offset="89.06%" stop-color="#3950a3"/><stop offset="90.62%" stop-color="#35479b"/><stop offset="92.19%" stop-color="#313e94"/><stop offset="93.75%" stop-color="#2e378e"/><stop offset="95.31%" stop-color="#2d3489"/><stop offset="96.88%" stop-color="#2c3185"/><stop offset="98.44%" stop-color="#2b3083"/><stop offset="100%" stop-color="#2b2f82"/></linearGradient><linearGradient id="h40"><stop offset="0%" stop-color="#2b2f82"/><stop offset="1.56%" stop-color="#2b2f82"/><stop offset="3.12%" stop-color="#2b3083"/><stop offset="4.69%" stop-color="#2c3185"/><stop offset="6.25%" stop-color="#2d3489"/><stop offset="7.81%" stop-color="#2e378e"/><stop offset="9.38%" stop-color="#313f94"/><stop offset="10.94%" stop-color="#35479c"/><stop offset="12.5%" stop-color="#3951a3"/><stop offset="14.06%" stop-color="#3b56a7"/><stop offset="15.62%" stop-color="#3d5cab"/><stop offset="17.19%" stop-color="#3d68b2"/><stop offset="18.75%" stop-color="#3b7dc0"/><stop offset="20.31%" stop-color="#2fa8de"/><stop offset="21.88%" stop-color="#48c7eb"/><stop offset="23.44%" stop-color="#5ec6d0"/><stop offset="25%" stop-color="#6bc4ab"/><stop offset="26.56%" stop-color="#7ac381"/><stop offset="28.12%" stop-color="#90c757"/><stop offset="29.69%" stop-color="#b6d43b"/><stop offset="31.25%" stop-color="#dbe21d"/><stop offset="32.81%" stop-color="#ffef00"/><stop offset="34.38%" stop-color="#fbc50e"/><stop offset="35.94%" stop-color="#f89e1b"/><stop offset="37.5%" stop-color="#f5831f"/><stop offset="39.06%" stop-color="#f26c21"/><stop offset="40.62%" stop-color="#f15722"/><stop offset="42.19%" stop-color="#ef4123"/><stop offset="43.75%" stop-color="#ee2f23"/><stop offset="45.31%" stop-color="#ed2024"/><stop offset="46.88%" stop-color="#e61c24"/><stop offset="48.44%" stop-color="#de1d25"/><stop offset="50%" stop-color="#da1d25"/><stop offset="51.56%" stop-color="#da1d25"/><stop offset="53.12%" stop-color="#de1d25"/><stop offset="54.69%" stop-color="#e61c24"/><stop offset="56.25%" stop-color="#ed2024"/><stop offset="57.81%" stop-color="#ee2f23"/><stop offset="59.38%" stop-color="#ef4123"/><stop offset="60.94%" stop-color="#f05622"/><stop offset="62.5%" stop-color="#f26c21"/><stop offset="64.06%" stop-color="#f5821f"/><stop offset="65.62%" stop-color="#f89d1c"/><stop offset="67.19%" stop-color="#fbc40f"/><stop offset="68.75%" stop-color="#ffee01"/><stop offset="70.31%" stop-color="#dce21d"/><stop offset="71.88%" stop-color="#b7d43a"/><stop offset="73.44%" stop-color="#91c856"/><stop offset="75%" stop-color="#7ac380"/><stop offset="76.56%" stop-color="#6bc4aa"/><stop offset="78.12%" stop-color="#5fc6cf"/><stop offset="79.69%" stop-color="#49c7eb"/><stop offset="81.25%" stop-color="#2ea9df"/><stop offset="82.81%" stop-color="#3b7dc1"/><stop offset="84.38%" stop-color="#3d68b3"/><stop offset="85.94%" stop-color="#3d5cab"/><stop offset="87.5%" stop-color="#3b56a7"/><stop offset="89.06%" stop-color="#3951a3"/><stop offset="90.62%" stop-color="#35489c"/><stop offset="92.19%" stop-color="#313f95"/><stop offset="93.75%" stop-color="#2e388e"/><stop offset="95.31%" stop-color="#2d3489"/><stop offset="96.88%" stop-color="#2c3186"/><stop offset="98.44%" stop-color="#2b3083"/><stop offset="100%" stop-color="#2b2f82"/></linearGradient><linearGradient id="h41"><stop offset="0%" stop-color="#2b2f82"/><stop offset="1.56%" stop-color="#2b2f82"/><stop offset="3.12%" stop-color="#2b3083"/><stop offset="4.69%" stop-color="#2c3186"/><stop offset="6.25%" stop-color="#2d3489"/><stop offset="7.81%" stop-color="#2e388f"/><stop offset="9.38%" stop-color="#323f95"/><stop offset="10.94%" stop-color="#36489d"/><stop offset="12.5%" stop-color="#3951a4"/><stop offset="14.06%" stop-color="#3b57a7"/><stop offset="15.62%" stop-color="#3d5dab"/><stop offset="17.19%" stop-color="#3d6bb5"/><stop offset="18.75%" stop-color="#3a81c3"/><stop offset="20.31%" stop-color="#2cb2e6"/><stop offset="21.88%" stop-color="#4ec8e6"/><stop offset="23.44%" stop-color="#64c6c8"/><stop offset="25%" stop-color="#6ec39f"/><stop offset="26.56%" stop-color="#80c474"/><stop offset="28.12%" stop-color="#9dcc4d"/><stop offset="29.69%" stop-color="#c4d930"/><stop offset="31.25%" stop-color="#ebe811"/><stop offset="32.81%" stop-color="#fddb07"/><stop offset="34.38%" stop-color="#f9b015"/><stop offset="35.94%" stop-color="#f68c1f"/><stop offset="37.5%" stop-color="#f37321"/><stop offset="39.06%" stop-color="#f15c22"/><stop offset="40.62%" stop-color="#ef4223"/><stop offset="42.19%" stop-color="#ee2c24"/><stop offset="43.75%" stop-color="#eb1c24"/><stop offset="45.31%" stop-color="#db1d25"/><stop offset="46.88%" stop-color="#d01d25"/><stop offset="48.44%" stop-color="#c81e26"/><stop offset="50%" stop-color="#c41e26"/><stop offset="51.56%" stop-color="#c41e26"/><stop offset="53.12%" stop-color="#c81e26"/><stop offset="54.69%" stop-color="#cf1d25"/><stop offset="56.25%" stop-color="#db1d25"/><stop offset="57.81%" stop-color="#ea1c24"/><stop offset="59.38%" stop-color="#ee2c24"/><stop offset="60.94%" stop-color="#ef4223"/><stop offset="62.5%" stop-color="#f15b22"/><stop offset="64.06%" stop-color="#f37321"/><stop offset="65.62%" stop-color="#f68c1f"/><stop offset="67.19%" stop-color="#f9af16"/><stop offset="68.75%" stop-color="#fdda07"/><stop offset="70.31%" stop-color="#ebe810"/><stop offset="71.88%" stop-color="#c5d92f"/><stop offset="73.44%" stop-color="#9ecc4d"/><stop offset="75%" stop-color="#81c473"/><stop offset="76.56%" stop-color="#6ec39e"/><stop offset="78.12%" stop-color="#64c6c8"/><stop offset="79.69%" stop-color="#4fc8e5"/><stop offset="81.25%" stop-color="#2bb3e6"/><stop offset="82.81%" stop-color="#3a81c3"/><stop offset="84.38%" stop-color="#3d6cb5"/><stop offset="85.94%" stop-color="#3d5dab"/><stop offset="87.5%" stop-color="#3b57a7"/><stop offset="89.06%" stop-color="#3951a4"/><stop offset="90.62%" stop-color="#36489d"/><stop offset="92.19%" stop-color="#324095"/><stop offset="93.75%" stop-color="#2e388f"/><stop offset="95.31%" stop-color="#2d348a"/><stop offset="96.88%" stop-color="#2c3186"/><stop offset="98.44%" stop-color="#2b3083"/><stop offset="100%" stop-color="#2b2f82"/></linearGradient><linearGradient id="h42"><stop offset="0%" stop-color="#2b2f82"/><stop offset="1.56%" stop-color="#2b2f82"/><stop offset="3.12%" stop-color="#2b3083"/><stop offset="4.69%" stop-color="#2c3186"/><stop offset="6.25%" stop-color="#2d348a"/><stop offset="7.81%" stop-color="#2e388f"/><stop offset="9.38%" stop-color="#324095"/><stop offset="10.94%" stop-color="#36499d"/><stop offset="12.5%" stop-color="#3951a4"/><stop offset="14.06%" stop-color="#3b57a7"/><stop offset="15.62%" stop-color="#3d5dab"/><stop offset="17.19%" stop-color="#3d6cb5"/><stop offset="18.75%" stop-color="#3a82c4"/><stop offset="20.31%" stop-color="#2bb5e8"/><stop offset="21.88%" stop-color="#50c8e4"/><stop offset="23.44%" stop-color="#65c6c5"/><stop offset="25%" stop-color="#6fc29c"/><stop offset="26.56%" stop-color="#82c56f"/><stop offset="28.12%" stop-color="#a1cd4a"/><stop offset="29.69%" stop-color="#c8da2d"/><stop offset="31.25%" stop-color="#f0ea0d"/><stop offset="32.81%" stop-color="#fdd509"/><stop offset="34.38%" stop-color="#f9a918"/><stop offset="35.94%" stop-color="#f5881f"/><stop offset="37.5%" stop-color="#f36e21"/><stop offset="39.06%" stop-color="#f05522"/><stop offset="40.62%" stop-color="#ef3c23"/><stop offset="42.19%" stop-color="#ee2524"/><stop offset="43.75%" stop-color="#e31c24"/><stop offset="45.31%" stop-color="#d41d25"/><stop offset="46.88%" stop-color="#c81e26"/><stop offset="48.44%" stop-color="#c01e26"/><stop offset="50%" stop-color="#bc1d25"/><stop offset="51.56%" stop-color="#bc1d25"/><stop offset="53.12%" stop-color="#c01e26"/><stop offset="54.69%" stop-color="#c81e26"/><stop offset="56.25%" stop-color="#d41d25"/><stop offset="57.81%" stop-color="#e31c24"/><stop offset="59.38%" stop-color="#ee2524"/><stop offset="60.94%" stop-color="#ef3b23"/><stop offset="62.5%" stop-color="#f05422"/><stop offset="64.06%" stop-color="#f36e21"/><stop offset="65.62%" stop-color="#f5871f"/><stop offset="67.19%" stop-color="#f9a818"/><stop offset="68.75%" stop-color="#fcd409"/><stop offset="70.31%" stop-color="#f1ea0c"/><stop offset="71.88%" stop-color="#c9db2c"/><stop offset="73.44%" stop-color="#a2cd49"/><stop offset="75%" stop-color="#83c56e"/><stop offset="76.56%" stop-color="#6fc29b"/><stop offset="78.12%" stop-color="#65c6c4"/><stop offset="79.69%" stop-color="#51c8e3"/><stop offset="81.25%" stop-color="#2ab7e9"/><stop offset="82.81%" stop-color="#3a83c5"/><stop offset="84.38%" stop-color="#3c6db6"/><stop offset="85.94%" stop-color="#3d5eab"/><stop offset="87.5%" stop-color="#3b57a8"/><stop offset="89.06%" stop-color="#3952a4"/><stop offset="90.62%" stop-color="#36499d"/><stop offset="92.19%" stop-color="#324095"/><stop offset="93.75%" stop-color="#2e388f"/><stop offset="95.31%" stop-color="#2d348a"/><stop offset="96.88%" stop-color="#2c3186"/><stop offset="98.44%" stop-color="#2b3083"/><stop offset="100%" stop-color="#2b2f82"/></linearGradient><linearGradient id="h43"><stop offset="0%" stop-color="#2b2f82"/><stop offset="1.56%" stop-color="#2b2f82"/><stop offset="3.12%" stop-color="#2b3083"/><stop offset="4.69%" stop-color="#2c3186"/><stop offset="6.25%" stop-color="#2d348a"/><stop offset="7.81%" stop-color="#2f388f"/><stop offset="9.38%" stop-color="#324096"/><stop offset="10.94%" stop-color="#36499d"/><stop offset="12.5%" stop-color="#3a52a4"/><stop offset="14.06%" stop-color="#3b58a8"/><stop offset="15.62%" stop-color="#3d5eac"/><stop offset="17.19%" stop-color="#3c6fb7"/><stop offset="18.75%" stop-color="#3888c8"/><stop offset="20.31%" stop-color="#29bced"/><stop offset="21.88%" stop-color="#53c7e0"/><stop offset="23.44%" stop-color="#66c5bf"/><stop offset="25%" stop-color="#71c294"/><stop offset="26.56%" stop-color="#86c566"/><stop offset="28.12%" stop-color="#aad044"/><stop offset="29.69%" stop-color="#d2de25"/><stop offset="31.25%" stop-color="#faee04"/><stop offset="32.81%" stop-color="#fbc80d"/><stop offset="34.38%" stop-color="#f79b1c"/><stop offset="35.94%" stop-color="#f47e20"/><stop offset="37.5%" stop-color="#f26422"/><stop offset="39.06%" stop-color="#f04823"/><stop offset="40.62%" stop-color="#ee2e23"/><stop offset="42.19%" stop-color="#e81c24"/><stop offset="43.75%" stop-color="#d51d25"/><stop offset="45.31%" stop-color="#c51e26"/><stop offset="46.88%" stop-color="#b91d24"/><stop offset="48.44%" stop-color="#b01c22"/><stop offset="50%" stop-color="#ab1b21"/><stop offset="51.56%" stop-color="#ab1b21"/><stop offset="53.12%" stop-color="#af1c22"/><stop offset="54.69%" stop-color="#b81d24"/><stop offset="56.25%" stop-color="#c51e26"/><stop offset="57.81%" stop-color="#d51d25"/><stop offset="59.38%" stop-color="#e81c24"/><stop offset="60.94%" stop-color="#ee2e23"/><stop offset="62.5%" stop-color="#f04723"/><stop offset="64.06%" stop-color="#f16322"/><stop offset="65.62%" stop-color="#f47d20"/><stop offset="67.19%" stop-color="#f79a1d"/><stop offset="68.75%" stop-color="#fbc70e"/><stop offset="70.31%" stop-color="#fbee03"/><stop offset="71.88%" stop-color="#d3de24"/><stop offset="73.44%" stop-color="#abd043"/><stop offset="75%" stop-color="#87c565"/><stop offset="76.56%" stop-color="#71c293"/><stop offset="78.12%" stop-color="#66c5be"/><stop offset="79.69%" stop-color="#54c7df"/><stop offset="81.25%" stop-color="#28beee"/><stop offset="82.81%" stop-color="#3889c9"/><stop offset="84.38%" stop-color="#3c6fb7"/><stop offset="85.94%" stop-color="#3d5eac"/><stop offset="87.5%" stop-color="#3b58a8"/><stop offset="89.06%" stop-color="#3a52a4"/><stop offset="90.62%" stop-color="#36499d"/><stop offset="92.19%" stop-color="#324096"/><stop offset="93.75%" stop-color="#2f388f"/><stop offset="95.31%" stop-color="#2d348a"/><stop offset="96.88%" stop-color="#2c3286"/><stop offset="98.44%" stop-color="#2b3083"/><stop offset="100%" stop-color="#2b2f82"/></linearGradient><linearGradient id="h44"><stop offset="0%" stop-color="#2b2f82"/><stop offset="1.56%" stop-color="#2b2f82"/><stop offset="3.12%" stop-color="#2b3083"/><stop offset="4.69%" stop-color="#2c3286"/><stop offset="6.25%" stop-color="#2d348a"/><stop offset="7.81%" stop-color="#2f398f"/><stop offset="9.38%" stop-color="#324096"/><stop offset="10.94%" stop-color="#364a9e"/><stop offset="12.5%" stop-color="#3a52a4"/><stop offset="14.06%" stop-color="#3c58a8"/><stop offset="15.62%" stop-color="#3e5fac"/><stop offset="17.19%" stop-color="#3c71b8"/><stop offset="18.75%" stop-color="#368ecc"/><stop offset="20.31%" stop-color="#2ec0ee"/><stop offset="21.88%" stop-color="#56c7db"/><stop offset="23.44%" stop-color="#68c5b8"/><stop offset="25%" stop-color="#75c38c"/><stop offset="26.56%" stop-color="#8ac65e"/><stop offset="28.12%" stop-color="#b2d33d"/><stop offset="29.69%" stop-color="#dbe21d"/><stop offset="31.25%" stop-color="#feea02"/><stop offset="32.81%" stop-color="#fabb12"/><stop offset="34.38%" stop-color="#f6901e"/><stop offset="35.94%" stop-color="#f37420"/><stop offset="37.5%" stop-color="#f15822"/><stop offset="39.06%" stop-color="#ef3b23"/><stop offset="40.62%" stop-color="#ed2124"/><stop offset="42.19%" stop-color="#da1d25"/><stop offset="43.75%" stop-color="#c71e26"/><stop offset="45.31%" stop-color="#b61d24"/><stop offset="46.88%" stop-color="#a81b21"/><stop offset="48.44%" stop-color="#9f191e"/><stop offset="50%" stop-color="#9a191d"/><stop offset="51.56%" stop-color="#9a191d"/><stop offset="53.12%" stop-color="#9f191e"/><stop offset="54.69%" stop-color="#a81b20"/><stop offset="56.25%" stop-color="#b51c24"/><stop offset="57.81%" stop-color="#c61e26"/><stop offset="59.38%" stop-color="#da1d25"/><stop offset="60.94%" stop-color="#ed2024"/><stop offset="62.5%" stop-color="#ef3a23"/><stop offset="64.06%" stop-color="#f15822"/><stop offset="65.62%" stop-color="#f37321"/><stop offset="67.19%" stop-color="#f6901e"/><stop offset="68.75%" stop-color="#faba12"/><stop offset="70.31%" stop-color="#fee902"/><stop offset="71.88%" stop-color="#dce21c"/><stop offset="73.44%" stop-color="#b3d33d"/><stop offset="75%" stop-color="#8bc65c"/><stop offset="76.56%" stop-color="#75c38b"/><stop offset="78.12%" stop-color="#68c5b7"/><stop offset="79.69%" stop-color="#57c7db"/><stop offset="81.25%" stop-color="#2fc0ed"/><stop offset="82.81%" stop-color="#368fcd"/><stop offset="84.38%" stop-color="#3c71b9"/><stop offset="85.94%" stop-color="#3e5fac"/><stop offset="87.5%" stop-color="#3c58a8"/><stop offset="89.06%" stop-color="#3a52a4"/><stop offset="90.62%" stop-color="#364a9e"/><stop offset="92.19%" stop-color="#324196"/><stop offset="93.75%" stop-color="#2f398f"/><stop offset="95.31%" stop-color="#2d348a"/><stop offset="96.88%" stop-color="#2c3286"/><stop offset="98.44%" stop-color="#2b3083"/><stop offset="100%" stop-color="#2b2f82"/></linearGradient><linearGradient id="h45"><stop offset="0%" stop-color="#2b2f82"/><stop offset="1.56%" stop-color="#2b2f82"/><stop offset="3.12%" stop-color="#2b3083"/><stop offset="4.69%" stop-color="#2c3286"/><stop offset="6.25%" stop-color="#2d348a"/><stop offset="7.81%" stop-color="#2f398f"/><stop offset="9.38%" stop-color="#324196"/><stop offset="10.94%" stop-color="#364a9e"/><stop offset="12.5%" stop-color="#3a52a4"/><stop offset="14.06%" stop-color="#3c58a8"/><stop offset="15.62%" stop-color="#3e5fac"/><stop offset="17.19%" stop-color="#3c72b9"/><stop offset="18.75%" stop-color="#3691ce"/><stop offset="20.31%" stop-color="#31c1ed"/><stop offset="21.88%" stop-color="#58c7d9"/><stop offset="23.44%" stop-color="#69c4b5"/><stop offset="25%" stop-color="#76c388"/><stop offset="26.56%" stop-color="#8dc659"/><stop offset="28.12%" stop-color="#b7d43a"/><stop offset="29.69%" stop-color="#e0e419"/><stop offset="31.25%" stop-color="#fee404"/><stop offset="32.81%" stop-color="#fab414"/><stop offset="34.38%" stop-color="#f68c1f"/><stop offset="35.94%" stop-color="#f36f21"/><stop offset="37.5%" stop-color="#f05222"/><stop offset="39.06%" stop-color="#ee3423"/><stop offset="40.62%" stop-color="#eb1c24"/><stop offset="42.19%" stop-color="#d41d25"/><stop offset="43.75%" stop-color="#c01e26"/><stop offset="45.31%" stop-color="#ad1b22"/><stop offset="46.88%" stop-color="#a0191f"/><stop offset="48.44%" stop-color="#96181c"/><stop offset="50%" stop-color="#92171b"/><stop offset="51.56%" stop-color="#91171b"/><stop offset="53.12%" stop-color="#96181c"/><stop offset="54.69%" stop-color="#9f191f"/><stop offset="56.25%" stop-color="#ad1b22"/><stop offset="57.81%" stop-color="#bf1e26"/><stop offset="59.38%" stop-color="#d31d25"/><stop offset="60.94%" stop-color="#ea1c24"/><stop offset="62.5%" stop-color="#ee3423"/><stop offset="64.06%" stop-color="#f05122"/><stop offset="65.62%" stop-color="#f36e21"/><stop offset="67.19%" stop-color="#f68b1f"/><stop offset="68.75%" stop-color="#fab314"/><stop offset="70.31%" stop-color="#fee304"/><stop offset="71.88%" stop-color="#e1e418"/><stop offset="73.44%" stop-color="#b8d539"/><stop offset="75%" stop-color="#8ec759"/><stop offset="76.56%" stop-color="#77c387"/><stop offset="78.12%" stop-color="#69c4b4"/><stop offset="79.69%" stop-color="#58c7d8"/><stop offset="81.25%" stop-color="#33c1ed"/><stop offset="82.81%" stop-color="#3592cf"/><stop offset="84.38%" stop-color="#3c72b9"/><stop offset="85.94%" stop-color="#3e5fac"/><stop offset="87.5%" stop-color="#3c59a8"/><stop offset="89.06%" stop-color="#3a53a5"/><stop offset="90.62%" stop-color="#364a9e"/><stop offset="92.19%" stop-color="#324196"/><stop offset="93.75%" stop-color="#2f3990"/><stop offset="95.31%" stop-color="#2d348a"/><stop offset="96.88%" stop-color="#2c3286"/><stop offset="98.44%" stop-color="#2b3083"/><stop offset="100%" stop-color="#2b2f82"/></linearGradient><linearGradient id="h46"><stop offset="0%" stop-color="#2b2f82"/><stop offset="1.56%" stop-color="#2b2f82"/><stop offset="3.12%" stop-color="#2b3083"/><stop offset="4.69%" stop-color="#2c3286"/><stop offset="6.25%" stop-color="#2d348a"/><stop offset="7.81%" stop-color="#2f3990"/><stop offset="9.38%" stop-color="#324196"/><stop offset="10.94%" stop-color="#374b9f"/><stop offset="12.5%" stop-color="#3a53a5"/><stop offset="14.06%" stop-color="#3c59a9"/><stop offset="15.62%" stop-color="#3e5fad"/><stop offset="17.19%" stop-color="#3c74bb"/><stop offset="18.75%" stop-color="#3497d3"/><stop offset="20.31%" stop-color="#39c3ed"/><stop offset="21.88%" stop-color="#5bc7d5"/><stop offset="23.44%" stop-color="#6ac4ae"/><stop offset="25%" stop-color="#7ac380"/><stop offset="26.56%" stop-color="#95c954"/><stop offset="28.12%" stop-color="#bfd734"/><stop offset="29.69%" stop-color="#eae711"/><stop offset="31.25%" stop-color="#fdd708"/><stop offset="32.81%" stop-color="#f9a718"/><stop offset="34.38%" stop-color="#f5821f"/><stop offset="35.94%" stop-color="#f26522"/><stop offset="37.5%" stop-color="#ef4623"/><stop offset="39.06%" stop-color="#ee2724"/><stop offset="40.62%" stop-color="#dd1d25"/><stop offset="42.19%" stop-color="#c61e26"/><stop offset="43.75%" stop-color="#b01c22"/><stop offset="45.31%" stop-color="#9d191e"/><stop offset="46.88%" stop-color="#8f171b"/><stop offset="48.44%" stop-color="#851619"/><stop offset="50%" stop-color="#811517"/><stop offset="51.56%" stop-color="#801517"/><stop offset="53.12%" stop-color="#851619"/><stop offset="54.69%" stop-color="#8f171b"/><stop offset="56.25%" stop-color="#9d191e"/><stop offset="57.81%" stop-color="#af1c22"/><stop offset="59.38%" stop-color="#c51e26"/><stop offset="60.94%" stop-color="#dd1d25"/><stop offset="62.5%" stop-color="#ee2724"/><stop offset="64.06%" stop-color="#ef4523"/><stop offset="65.62%" stop-color="#f26522"/><stop offset="67.19%" stop-color="#f5821f"/><stop offset="68.75%" stop-color="#f8a619"/><stop offset="70.31%" stop-color="#fdd609"/><stop offset="71.88%" stop-color="#ebe811"/><stop offset="73.44%" stop-color="#c0d733"/><stop offset="75%" stop-color="#96c953"/><stop offset="76.56%" stop-color="#7bc47f"/><stop offset="78.12%" stop-color="#6ac4ad"/><stop offset="79.69%" stop-color="#5bc7d4"/><stop offset="81.25%" stop-color="#3ac3ec"/><stop offset="82.81%" stop-color="#3398d3"/><stop offset="84.38%" stop-color="#3c75bb"/><stop offset="85.94%" stop-color="#3e60ad"/><stop offset="87.5%" stop-color="#3c59a9"/><stop offset="89.06%" stop-color="#3a53a5"/><stop offset="90.62%" stop-color="#374b9f"/><stop offset="92.19%" stop-color="#334197"/><stop offset="93.75%" stop-color="#2f3990"/><stop offset="95.31%" stop-color="#2d348a"/><stop offset="96.88%" stop-color="#2c3286"/><stop offset="98.44%" stop-color="#2b3083"/><stop offset="100%" stop-color="#2b2f82"/></linearGradient><linearGradient id="h47"><stop offset="0%" stop-color="#2b2f82"/><stop offset="1.56%" stop-color="#2b2f82"/><stop offset="3.12%" stop-color="#2b3083"/><stop offset="4.69%" stop-color="#2c3286"/><stop offset="6.25%" stop-color="#2d348a"/><stop offset="7.81%" stop-color="#2f3990"/><stop offset="9.38%" stop-color="#334197"/><stop offset="10.94%" stop-color="#374b9f"/><stop offset="12.5%" stop-color="#3a53a5"/><stop offset="14.06%" stop-color="#3c59a9"/><stop offset="15.62%" stop-color="#3e60ad"/><stop offset="17.19%" stop-color="#3b75bb"/><stop offset="18.75%" stop-color="#339ad5"/><stop offset="20.31%" stop-color="#3dc4ec"/><stop offset="21.88%" stop-color="#5cc7d3"/><stop offset="23.44%" stop-color="#6bc4ab"/><stop offset="25%" stop-color="#7cc47c"/><stop offset="26.56%" stop-color="#99ca51"/><stop offset="28.12%" stop-color="#c3d830"/><stop offset="29.69%" stop-color="#eee90e"/><stop offset="31.25%" stop-color="#fcd10a"/><stop offset="32.81%" stop-color="#f8a01b"/><stop offset="34.38%" stop-color="#f47e20"/><stop offset="35.94%" stop-color="#f16022"/><stop offset="37.5%" stop-color="#ef3f23"/><stop offset="39.06%" stop-color="#ed2124"/><stop offset="40.62%" stop-color="#d71d25"/><stop offset="42.19%" stop-color="#be1e26"/><stop offset="43.75%" stop-color="#a71a20"/><stop offset="45.31%" stop-color="#95181c"/><stop offset="46.88%" stop-color="#861619"/><stop offset="48.44%" stop-color="#7d1417"/><stop offset="50%" stop-color="#7a1416"/><stop offset="51.56%" stop-color="#7a1416"/><stop offset="53.12%" stop-color="#7d1417"/><stop offset="54.69%" stop-color="#861619"/><stop offset="56.25%" stop-color="#94181c"/><stop offset="57.81%" stop-color="#a71a20"/><stop offset="59.38%" stop-color="#be1e26"/><stop offset="60.94%" stop-color="#d61d25"/><stop offset="62.5%" stop-color="#ed2024"/><stop offset="64.06%" stop-color="#ef3f23"/><stop offset="65.62%" stop-color="#f16022"/><stop offset="67.19%" stop-color="#f47d20"/><stop offset="68.75%" stop-color="#f89f1b"/><stop offset="70.31%" stop-color="#fcd00b"/><stop offset="71.88%" stop-color="#f0ea0d"/><stop offset="73.44%" stop-color="#c4d930"/><stop offset="75%" stop-color="#9acb50"/><stop offset="76.56%" stop-color="#7dc47b"/><stop offset="78.12%" stop-color="#6bc4aa"/><stop offset="79.69%" stop-color="#5dc7d2"/><stop offset="81.25%" stop-color="#3ec4ec"/><stop offset="82.81%" stop-color="#329bd6"/><stop offset="84.38%" stop-color="#3b76bc"/><stop offset="85.94%" stop-color="#3e60ad"/><stop offset="87.5%" stop-color="#3c59a9"/><stop offset="89.06%" stop-color="#3a53a5"/><stop offset="90.62%" stop-color="#374b9f"/><stop offset="92.19%" stop-color="#334197"/><stop offset="93.75%" stop-color="#2f3990"/><stop offset="95.31%" stop-color="#2d358a"/><stop offset="96.88%" stop-color="#2c3286"/><stop offset="98.44%" stop-color="#2b3083"/><stop offset="100%" stop-color="#2b2f82"/></linearGradient><linearGradient id="h48"><stop offset="0%" stop-color="#2b2f82"/><stop offset="1.56%" stop-color="#2b2f82"/><stop offset="3.12%" stop-color="#2b3083"/><stop offset="4.69%" stop-color="#2c3286"/><stop offset="6.25%" stop-color="#2d348a"/><stop offset="7.81%" stop-color="#2f3990"/><stop offset="9.38%" stop-color="#334197"/><stop offset="10.94%" stop-color="#374b9f"/><stop offset="12.5%" stop-color="#3a53a5"/><stop offset="14.06%" stop-color="#3c59a9"/><stop offset="15.62%" stop-color="#3e60ad"/><stop offset="17.19%" stop-color="#3b76bc"/><stop offset="18.75%" stop-color="#329dd7"/><stop offset="20.31%" stop-color="#41c5ec"/><stop offset="21.88%" stop-color="#5ec6d1"/><stop offset="23.44%" stop-color="#6cc3a7"/><stop offset="25%" stop-color="#7ec478"/><stop offset="26.56%" stop-color="#9dcc4e"/><stop offset="28.12%" stop-color="#c8da2d"/><stop offset="29.69%" stop-color="#f3eb0a"/><stop offset="31.25%" stop-color="#fccb0c"/><stop offset="32.81%" stop-color="#f79a1d"/><stop offset="34.38%" stop-color="#f47920"/><stop offset="35.94%" stop-color="#f15b22"/><stop offset="37.5%" stop-color="#ef3923"/><stop offset="39.06%" stop-color="#eb1c24"/><stop offset="40.62%" stop-color="#d01d25"/><stop offset="42.19%" stop-color="#b71d24"/><stop offset="43.75%" stop-color="#9f191f"/><stop offset="45.31%" stop-color="#8c171a"/><stop offset="46.88%" stop-color="#7e1517"/><stop offset="48.44%" stop-color="#7a1416"/><stop offset="50%" stop-color="#7a1416"/><stop offset="51.56%" stop-color="#7a1416"/><stop offset="53.12%" stop-color="#7a1416"/><stop offset="54.69%" stop-color="#7e1517"/><stop offset="56.25%" stop-color="#8c171a"/><stop offset="57.81%" stop-color="#9f191e"/><stop offset="59.38%" stop-color="#b61d24"/><stop offset="60.94%" stop-color="#cf1d25"/><stop offset="62.5%" stop-color="#eb1c24"/><stop offset="64.06%" stop-color="#ef3823"/><stop offset="65.62%" stop-color="#f15a22"/><stop offset="67.19%" stop-color="#f47820"/><stop offset="68.75%" stop-color="#f7991d"/><stop offset="70.31%" stop-color="#fcca0d"/><stop offset="71.88%" stop-color="#f4ec09"/><stop offset="73.44%" stop-color="#c9da2c"/><stop offset="75%" stop-color="#9ecc4d"/><stop offset="76.56%" stop-color="#7ec477"/><stop offset="78.12%" stop-color="#6cc3a6"/><stop offset="79.69%" stop-color="#5ec6d0"/><stop offset="81.25%" stop-color="#42c5ec"/><stop offset="82.81%" stop-color="#329ed8"/><stop offset="84.38%" stop-color="#3b77bd"/><stop offset="85.94%" stop-color="#3e61ae"/><stop offset="87.5%" stop-color="#3c5aa9"/><stop offset="89.06%" stop-color="#3a53a5"/><stop offset="90.62%" stop-color="#374b9f"/><stop offset="92.19%" stop-color="#334297"/><stop offset="93.75%" stop-color="#2f3990"/><stop offset="95.31%" stop-color="#2d358a"/><stop offset="96.88%" stop-color="#2c3286"/><stop offset="98.44%" stop-color="#2b3083"/><stop offset="100%" stop-color="#2b2f82"/></linearGradient><linearGradient id="h49"><stop offset="0%" stop-color="#2b2f82"/><stop offset="1.56%" stop-color="#2b2f82"/><stop offset="3.12%" stop-color="#2b3083"/><stop offset="4.69%" stop-color="#2c3286"/><stop offset="6.25%" stop-color="#2d358a"/><stop offset="7.81%" stop-color="#2f3990"/><stop offset="9.38%" stop-color="#334297"/><stop offset="10.94%" stop-color="#374c9f"/><stop offset="12.5%" stop-color="#3a53a5"/><stop offset="14.06%" stop-color="#3c5aa9"/><stop offset="15.62%" stop-color="#3e61ae"/><stop offset="17.19%" stop-color="#3b77bd"/><stop offset="18.75%" stop-color="#31a0d9"/><stop offset="20.31%" stop-color="#44c6ec"/><stop offset="21.88%" stop-color="#5fc6ce"/><stop offset="23.44%" stop-color="#6dc3a4"/><stop offset="25%" stop-color="#80c474"/><stop offset="26.56%" stop-color="#a0cd4b"/><stop offset="28.12%" stop-color="#ccdc2a"/><stop offset="29.69%" stop-color="#f8ed06"/><stop offset="31.25%" stop-color="#fbc50e"/><stop offset="32.81%" stop-color="#f7941e"/><stop offset="34.38%" stop-color="#f37420"/><stop offset="35.94%" stop-color="#f05522"/><stop offset="37.5%" stop-color="#ee3323"/><stop offset="39.06%" stop-color="#e51c24"/><stop offset="40.62%" stop-color="#c91e26"/><stop offset="42.19%" stop-color="#af1c22"/><stop offset="43.75%" stop-color="#97181d"/><stop offset="45.31%" stop-color="#841518"/><stop offset="46.88%" stop-color="#7a1416"/><stop offset="48.44%" stop-color="#7a1416"/><stop offset="50%" stop-color="#7a1416"/><stop offset="51.56%" stop-color="#7a1416"/><stop offset="53.12%" stop-color="#7a1416"/><stop offset="54.69%" stop-color="#7a1416"/><stop offset="56.25%" stop-color="#841518"/><stop offset="57.81%" stop-color="#97181d"/><stop offset="59.38%" stop-color="#ae1b22"/><stop offset="60.94%" stop-color="#c81e26"/><stop offset="62.5%" stop-color="#e41c24"/><stop offset="64.06%" stop-color="#ee3223"/><stop offset="65.62%" stop-color="#f05422"/><stop offset="67.19%" stop-color="#f37420"/><stop offset="68.75%" stop-color="#f7931e"/><stop offset="70.31%" stop-color="#fbc40f"/><stop offset="71.88%" stop-color="#f9ee05"/><stop offset="73.44%" stop-color="#cddc29"/><stop offset="75%" stop-color="#a1cd4a"/><stop offset="76.56%" stop-color="#80c473"/><stop offset="78.12%" stop-color="#6dc3a3"/><stop offset="79.69%" stop-color="#60c6ce"/><stop offset="81.25%" stop-color="#46c7eb"/><stop offset="82.81%" stop-color="#31a1da"/><stop offset="84.38%" stop-color="#3b78bd"/><stop offset="85.94%" stop-color="#3e62ae"/><stop offset="87.5%" stop-color="#3c5aa9"/><stop offset="89.06%" stop-color="#3a54a5"/><stop offset="90.62%" stop-color="#374c9f"/><stop offset="92.19%" stop-color="#334297"/><stop offset="93.75%" stop-color="#2f3a90"/><stop offset="95.31%" stop-color="#2d358a"/><stop offset="96.88%" stop-color="#2c3286"/><stop offset="98.44%" stop-color="#2b3083"/><stop offset="100%" stop-color="#2b2f82"/></linearGradient></defs>
<rect x="1031.5" y="793.1" width="483.9" height="2.6" fill="url(#h0)"/><rect x="1031.5" y="795.1" width="483.9" height="2.6" fill="url(#h1)"/><rect x="1031.5" y="797.09" width="483.9" height="2.6" fill="url(#h2)"/><rect x="1031.5" y="799.09" width="483.9" height="2.6" fill="url(#h3)"/><rect x="1031.5" y="801.09" width="483.9" height="2.6" fill="url(#h4)"/><rect x="1031.5" y="803.08" width="483.9" height="2.6" fill="url(#h5)"/><rect x="1031.5" y="805.08" width="483.9" height="2.6" fill="url(#h6)"/><rect x="1031.5" y="807.08" width="483.9" height="2.6" fill="url(#h7)"/><rect x="1031.5" y="809.07" width="483.9" height="2.6" fill="url(#h8)"/><rect x="1031.5" y="811.07" width="483.9" height="2.6" fill="url(#h9)"/><rect x="1031.5" y="813.07" width="483.9" height="2.6" fill="url(#h10)"/><rect x="1031.5" y="815.07" width="483.9" height="2.6" fill="url(#h11)"/><rect x="1031.5" y="817.06" width="483.9" height="2.6" fill="url(#h12)"/><rect x="1031.5" y="819.06" width="483.9" height="2.6" fill="url(#h13)"/><rect x="1031.5" y="821.06" width="483.9" height="2.6" fill="url(#h14)"/><rect x="1031.5" y="823.05" width="483.9" height="2.6" fill="url(#h15)"/><rect x="1031.5" y="825.05" width="483.9" height="2.6" fill="url(#h16)"/><rect x="1031.5" y="827.05" width="483.9" height="2.6" fill="url(#h17)"/><rect x="1031.5" y="829.04" width="483.9" height="2.6" fill="url(#h18)"/><rect x="1031.5" y="831.04" width="483.9" height="2.6" fill="url(#h19)"/><rect x="1031.5" y="833.04" width="483.9" height="2.6" fill="url(#h20)"/><rect x="1031.5" y="835.03" width="483.9" height="2.6" fill="url(#h21)"/><rect x="1031.5" y="837.03" width="483.9" height="2.6" fill="url(#h22)"/><rect x="1031.5" y="839.03" width="483.9" height="2.6" fill="url(#h22)"/><rect x="1031.5" y="841.02" width="483.9" height="2.6" fill="url(#h23)"/><rect x="1031.5" y="843.02" width="483.9" height="2.6" fill="url(#h24)"/><rect x="1031.5" y="845.02" width="483.9" height="2.6" fill="url(#h24)"/><rect x="1031.5" y="847.01" width="483.9" height="2.6" fill="url(#h24)"/><rect x="1031.5" y="849.01" width="483.9" height="2.6" fill="url(#h24)"/><rect x="1031.5" y="851.01" width="483.9" height="2.6" fill="url(#h24)"/><rect x="1031.5" y="853" width="483.9" height="2.6" fill="url(#h23)"/><rect x="1031.5" y="855" width="483.9" height="2.6" fill="url(#h22)"/><rect x="1031.5" y="857" width="483.9" height="2.6" fill="url(#h22)"/><rect x="1031.5" y="859" width="483.9" height="2.6" fill="url(#h21)"/><rect x="1031.5" y="860.99" width="483.9" height="2.6" fill="url(#h20)"/><rect x="1031.5" y="862.99" width="483.9" height="2.6" fill="url(#h19)"/><rect x="1031.5" y="864.99" width="483.9" height="2.6" fill="url(#h18)"/><rect x="1031.5" y="866.98" width="483.9" height="2.6" fill="url(#h17)"/><rect x="1031.5" y="868.98" width="483.9" height="2.6" fill="url(#h16)"/><rect x="1031.5" y="870.98" width="483.9" height="2.6" fill="url(#h15)"/><rect x="1031.5" y="872.97" width="483.9" height="2.6" fill="url(#h14)"/><rect x="1031.5" y="874.97" width="483.9" height="2.6" fill="url(#h13)"/><rect x="1031.5" y="876.97" width="483.9" height="2.6" fill="url(#h12)"/><rect x="1031.5" y="878.96" width="483.9" height="2.6" fill="url(#h11)"/><rect x="1031.5" y="880.96" width="483.9" height="2.6" fill="url(#h10)"/><rect x="1031.5" y="882.96" width="483.9" height="2.6" fill="url(#h9)"/><rect x="1031.5" y="884.95" width="483.9" height="2.6" fill="url(#h8)"/><rect x="1031.5" y="886.95" width="483.9" height="2.6" fill="url(#h7)"/><rect x="1031.5" y="888.95" width="483.9" height="2.6" fill="url(#h6)"/><rect x="1031.5" y="890.94" width="483.9" height="2.6" fill="url(#h5)"/><rect x="1031.5" y="892.94" width="483.9" height="2.6" fill="url(#h4)"/><rect x="1031.5" y="894.94" width="483.9" height="2.6" fill="url(#h3)"/><rect x="1031.5" y="896.93" width="483.9" height="2.6" fill="url(#h2)"/><rect x="1031.5" y="898.93" width="483.9" height="2.6" fill="url(#h1)"/><rect x="1031.5" y="900.93" width="483.9" height="2.6" fill="url(#h0)"/><rect x="1031.5" y="902.93" width="483.9" height="2.6" fill="url(#h25)"/><rect x="1031.5" y="904.92" width="483.9" height="2.6" fill="url(#h26)"/><rect x="1031.5" y="906.92" width="483.9" height="2.6" fill="url(#h27)"/><rect x="1031.5" y="908.92" width="483.9" height="2.6" fill="url(#h28)"/><rect x="1031.5" y="910.91" width="483.9" height="2.6" fill="url(#h29)"/><rect x="1031.5" y="912.91" width="483.9" height="2.6" fill="url(#h30)"/><rect x="1031.5" y="914.91" width="483.9" height="2.6" fill="url(#h31)"/><rect x="1031.5" y="916.9" width="483.9" height="2.6" fill="url(#h32)"/><rect x="1031.5" y="918.9" width="483.9" height="2.6" fill="url(#h33)"/><rect x="1031.5" y="920.9" width="483.9" height="2.6" fill="url(#h34)"/><rect x="1031.5" y="922.89" width="483.9" height="2.6" fill="url(#h35)"/><rect x="1031.5" y="924.89" width="483.9" height="2.6" fill="url(#h36)"/><rect x="1031.5" y="926.89" width="483.9" height="2.6" fill="url(#h37)"/><rect x="1031.5" y="928.88" width="483.9" height="2.6" fill="url(#h38)"/><rect x="1031.5" y="930.88" width="483.9" height="2.6" fill="url(#h39)"/><rect x="1031.5" y="932.88" width="483.9" height="2.6" fill="url(#h40)"/><rect x="1031.5" y="934.87" width="483.9" height="2.6" fill="url(#h41)"/><rect x="1031.5" y="936.87" width="483.9" height="2.6" fill="url(#h42)"/><rect x="1031.5" y="938.87" width="483.9" height="2.6" fill="url(#h43)"/><rect x="1031.5" y="940.86" width="483.9" height="2.6" fill="url(#h44)"/><rect x="1031.5" y="942.86" width="483.9" height="2.6" fill="url(#h45)"/><rect x="1031.5" y="944.86" width="483.9" height="2.6" fill="url(#h46)"/><rect x="1031.5" y="946.86" width="483.9" height="2.6" fill="url(#h47)"/><rect x="1031.5" y="948.85" width="483.9" height="2.6" fill="url(#h47)"/><rect x="1031.5" y="950.85" width="483.9" height="2.6" fill="url(#h48)"/><rect x="1031.5" y="952.85" width="483.9" height="2.6" fill="url(#h49)"/><rect x="1031.5" y="954.84" width="483.9" height="2.6" fill="url(#h49)"/><rect x="1031.5" y="956.84" width="483.9" height="2.6" fill="url(#h49)"/><rect x="1031.5" y="958.84" width="483.9" height="2.6" fill="url(#h49)"/><rect x="1031.5" y="960.83" width="483.9" height="2.6" fill="url(#h49)"/><rect x="1031.5" y="962.83" width="483.9" height="2.6" fill="url(#h48)"/><rect x="1031.5" y="964.83" width="483.9" height="2.6" fill="url(#h47)"/><rect x="1031.5" y="966.82" width="483.9" height="2.6" fill="url(#h47)"/><rect x="1031.5" y="968.82" width="483.9" height="2.6" fill="url(#h46)"/><rect x="1031.5" y="970.82" width="483.9" height="2.6" fill="url(#h45)"/><rect x="1031.5" y="972.81" width="483.9" height="2.6" fill="url(#h44)"/><rect x="1031.5" y="974.81" width="483.9" height="2.6" fill="url(#h43)"/><rect x="1031.5" y="976.81" width="483.9" height="2.6" fill="url(#h42)"/><rect x="1031.5" y="978.8" width="483.9" height="2.6" fill="url(#h41)"/><rect x="1031.5" y="980.8" width="483.9" height="2.6" fill="url(#h40)"/><rect x="1031.5" y="982.8" width="483.9" height="2.6" fill="url(#h39)"/><rect x="1031.5" y="984.79" width="483.9" height="2.6" fill="url(#h38)"/><rect x="1031.5" y="986.79" width="483.9" height="2.6" fill="url(#h37)"/><rect x="1031.5" y="988.79" width="483.9" height="2.6" fill="url(#h36)"/><rect x="1031.5" y="990.79" width="483.9" height="2.6" fill="url(#h35)"/><rect x="1031.5" y="992.78" width="483.9" height="2.6" fill="url(#h34)"/><rect x="1031.5" y="994.78" width="483.9" height="2.6" fill="url(#h33)"/><rect x="1031.5" y="996.78" width="483.9" height="2.6" fill="url(#h32)"/><rect x="1031.5" y="998.77" width="483.9" height="2.6" fill="url(#h31)"/><rect x="1031.5" y="1000.77" width="483.9" height="2.6" fill="url(#h30)"/><rect x="1031.5" y="1002.77" width="483.9" height="2.6" fill="url(#h29)"/><rect x="1031.5" y="1004.76" width="483.9" height="2.6" fill="url(#h28)"/><rect x="1031.5" y="1006.76" width="483.9" height="2.6" fill="url(#h27)"/><rect x="1031.5" y="1008.76" width="483.9" height="2.6" fill="url(#h26)"/><rect x="1031.5" y="1010.75" width="483.9" height="2.6" fill="url(#h25)"/><rect x="1031.5" y="1012.75" width="483.9" height="2.6" fill="url(#h0)"/><rect x="1031.5" y="1014.75" width="483.9" height="2.6" fill="url(#h1)"/><rect x="1031.5" y="1016.74" width="483.9" height="2.6" fill="url(#h2)"/><rect x="1031.5" y="1018.74" width="483.9" height="2.6" fill="url(#h3)"/><rect x="1031.5" y="1020.74" width="483.9" height="2.6" fill="url(#h4)"/><rect x="1031.5" y="1022.73" width="483.9" height="2.6" fill="url(#h5)"/><rect x="1031.5" y="1024.73" width="483.9" height="2.6" fill="url(#h6)"/><rect x="1031.5" y="1026.73" width="483.9" height="2.6" fill="url(#h7)"/><rect x="1031.5" y="1028.72" width="483.9" height="2.6" fill="url(#h8)"/><rect x="1031.5" y="1030.72" width="483.9" height="2.6" fill="url(#h9)"/><rect x="1031.5" y="1032.72" width="483.9" height="2.6" fill="url(#h10)"/><rect x="1031.5" y="1034.72" width="483.9" height="2.6" fill="url(#h11)"/><rect x="1031.5" y="1036.71" width="483.9" height="2.6" fill="url(#h12)"/><rect x="1031.5" y="1038.71" width="483.9" height="2.6" fill="url(#h13)"/><rect x="1031.5" y="1040.71" width="483.9" height="2.6" fill="url(#h14)"/><rect x="1031.5" y="1042.7" width="483.9" height="2.6" fill="url(#h15)"/><rect x="1031.5" y="1044.7" width="483.9" height="2.6" fill="url(#h16)"/><rect x="1031.5" y="1046.7" width="483.9" height="2.6" fill="url(#h17)"/><rect x="1031.5" y="1048.69" width="483.9" height="2.6" fill="url(#h18)"/><rect x="1031.5" y="1050.69" width="483.9" height="2.6" fill="url(#h19)"/><rect x="1031.5" y="1052.69" width="483.9" height="2.6" fill="url(#h20)"/><rect x="1031.5" y="1054.68" width="483.9" height="2.6" fill="url(#h21)"/><rect x="1031.5" y="1056.68" width="483.9" height="2.6" fill="url(#h22)"/><rect x="1031.5" y="1058.68" width="483.9" height="2.6" fill="url(#h22)"/><rect x="1031.5" y="1060.67" width="483.9" height="2.6" fill="url(#h23)"/><rect x="1031.5" y="1062.67" width="483.9" height="2.6" fill="url(#h24)"/><rect x="1031.5" y="1064.67" width="483.9" height="2.6" fill="url(#h24)"/><rect x="1031.5" y="1066.66" width="483.9" height="2.6" fill="url(#h24)"/><rect x="1031.5" y="1068.66" width="483.9" height="2.6" fill="url(#h24)"/><rect x="1031.5" y="1070.66" width="483.9" height="2.6" fill="url(#h24)"/><rect x="1031.5" y="1072.65" width="483.9" height="2.6" fill="url(#h23)"/><rect x="1031.5" y="1074.65" width="483.9" height="2.6" fill="url(#h22)"/><rect x="1031.5" y="1076.65" width="483.9" height="2.6" fill="url(#h22)"/><rect x="1031.5" y="1078.64" width="483.9" height="2.6" fill="url(#h21)"/><rect x="1031.5" y="1080.64" width="483.9" height="2.6" fill="url(#h20)"/><rect x="1031.5" y="1082.64" width="483.9" height="2.6" fill="url(#h19)"/><rect x="1031.5" y="1084.64" width="483.9" height="2.6" fill="url(#h18)"/><rect x="1031.5" y="1086.63" width="483.9" height="2.6" fill="url(#h17)"/><rect x="1031.5" y="1088.63" width="483.9" height="2.6" fill="url(#h16)"/><rect x="1031.5" y="1090.63" width="483.9" height="2.6" fill="url(#h15)"/><rect x="1031.5" y="1092.62" width="483.9" height="2.6" fill="url(#h14)"/><rect x="1031.5" y="1094.62" width="483.9" height="2.6" fill="url(#h13)"/><rect x="1031.5" y="1096.62" width="483.9" height="2.6" fill="url(#h12)"/><rect x="1031.5" y="1098.61" width="483.9" height="2.6" fill="url(#h11)"/><rect x="1031.5" y="1100.61" width="483.9" height="2.6" fill="url(#h10)"/><rect x="1031.5" y="1102.61" width="483.9" height="2.6" fill="url(#h9)"/><rect x="1031.5" y="1104.6" width="483.9" height="2.6" fill="url(#h8)"/><rect x="1031.5" y="1106.6" width="483.9" height="2.6" fill="url(#h7)"/><rect x="1031.5" y="1108.6" width="483.9" height="2.6" fill="url(#h6)"/><rect x="1031.5" y="1110.59" width="483.9" height="2.6" fill="url(#h5)"/><rect x="1031.5" y="1112.59" width="483.9" height="2.6" fill="url(#h4)"/><rect x="1031.5" y="1114.59" width="483.9" height="2.6" fill="url(#h3)"/><rect x="1031.5" y="1116.58" width="483.9" height="2.6" fill="url(#h2)"/><rect x="1031.5" y="1118.58" width="483.9" height="2.6" fill="url(#h1)"/><rect x="1031.5" y="1120.58" width="483.9" height="2.6" fill="url(#h0)"/><rect x="1031.5" y="1122.58" width="483.9" height="2.6" fill="url(#h25)"/><rect x="1031.5" y="1124.57" width="483.9" height="2.6" fill="url(#h26)"/><rect x="1031.5" y="1126.57" width="483.9" height="2.6" fill="url(#h27)"/><rect x="1031.5" y="1128.57" width="483.9" height="2.6" fill="url(#h28)"/><rect x="1031.5" y="1130.56" width="483.9" height="2.6" fill="url(#h29)"/><rect x="1031.5" y="1132.56" width="483.9" height="2.6" fill="url(#h30)"/><rect x="1031.5" y="1134.56" width="483.9" height="2.6" fill="url(#h31)"/><rect x="1031.5" y="1136.55" width="483.9" height="2.6" fill="url(#h32)"/><rect x="1031.5" y="1138.55" width="483.9" height="2.6" fill="url(#h33)"/><rect x="1031.5" y="1140.55" width="483.9" height="2.6" fill="url(#h34)"/><rect x="1031.5" y="1142.54" width="483.9" height="2.6" fill="url(#h35)"/><rect x="1031.5" y="1144.54" width="483.9" height="2.6" fill="url(#h36)"/><rect x="1031.5" y="1146.54" width="483.9" height="2.6" fill="url(#h37)"/><rect x="1031.5" y="1148.53" width="483.9" height="2.6" fill="url(#h38)"/><rect x="1031.5" y="1150.53" width="483.9" height="2.6" fill="url(#h39)"/><rect x="1031.5" y="1152.53" width="483.9" height="2.6" fill="url(#h40)"/><rect x="1031.5" y="1154.52" width="483.9" height="2.6" fill="url(#h41)"/><rect x="1031.5" y="1156.52" width="483.9" height="2.6" fill="url(#h42)"/><rect x="1031.5" y="1158.52" width="483.9" height="2.6" fill="url(#h43)"/><rect x="1031.5" y="1160.51" width="483.9" height="2.6" fill="url(#h44)"/><rect x="1031.5" y="1162.51" width="483.9" height="2.6" fill="url(#h45)"/><rect x="1031.5" y="1164.51" width="483.9" height="2.6" fill="url(#h46)"/><rect x="1031.5" y="1166.51" width="483.9" height="2.6" fill="url(#h47)"/><rect x="1031.5" y="1168.5" width="483.9" height="2.6" fill="url(#h47)"/><rect x="1031.5" y="1170.5" width="483.9" height="2.6" fill="url(#h48)"/><rect x="1031.5" y="1172.5" width="483.9" height="2.6" fill="url(#h49)"/><rect x="1031.5" y="1174.49" width="483.9" height="2.6" fill="url(#h49)"/><rect x="1031.5" y="1176.49" width="483.9" height="2.6" fill="url(#h49)"/><rect x="1031.5" y="1178.49" width="483.9" height="2.6" fill="url(#h49)"/><rect x="1031.5" y="1180.48" width="483.9" height="2.6" fill="url(#h49)"/><rect x="1031.5" y="1182.48" width="483.9" height="2.6" fill="url(#h48)"/><rect x="1031.5" y="1184.48" width="483.9" height="2.6" fill="url(#h47)"/><rect x="1031.5" y="1186.47" width="483.9" height="2.6" fill="url(#h47)"/><rect x="1031.5" y="1188.47" width="483.9" height="2.6" fill="url(#h46)"/><rect x="1031.5" y="1190.47" width="483.9" height="2.6" fill="url(#h45)"/><rect x="1031.5" y="1192.46" width="483.9" height="2.6" fill="url(#h44)"/><rect x="1031.5" y="1194.46" width="483.9" height="2.6" fill="url(#h43)"/><rect x="1031.5" y="1196.46" width="483.9" height="2.6" fill="url(#h42)"/><rect x="1031.5" y="1198.45" width="483.9" height="2.6" fill="url(#h41)"/><rect x="1031.5" y="1200.45" width="483.9" height="2.6" fill="url(#h40)"/><rect x="1031.5" y="1202.45" width="483.9" height="2.6" fill="url(#h39)"/><rect x="1031.5" y="1204.44" width="483.9" height="2.6" fill="url(#h38)"/><rect x="1031.5" y="1206.44" width="483.9" height="2.6" fill="url(#h37)"/><rect x="1031.5" y="1208.44" width="483.9" height="2.6" fill="url(#h36)"/><rect x="1031.5" y="1210.43" width="483.9" height="2.6" fill="url(#h35)"/><rect x="1031.5" y="1212.43" width="483.9" height="2.6" fill="url(#h34)"/><rect x="1031.5" y="1214.43" width="483.9" height="2.6" fill="url(#h33)"/><rect x="1031.5" y="1216.43" width="483.9" height="2.6" fill="url(#h32)"/><rect x="1031.5" y="1218.42" width="483.9" height="2.6" fill="url(#h31)"/><rect x="1031.5" y="1220.42" width="483.9" height="2.6" fill="url(#h30)"/><rect x="1031.5" y="1222.42" width="483.9" height="2.6" fill="url(#h29)"/><rect x="1031.5" y="1224.41" width="483.9" height="2.6" fill="url(#h28)"/><rect x="1031.5" y="1226.41" width="483.9" height="2.6" fill="url(#h27)"/><rect x="1031.5" y="1228.41" width="483.9" height="2.6" fill="url(#h26)"/><rect x="1031.5" y="1230.4" width="483.9" height="2.6" fill="url(#h25)"/>
<text x="1590.4" y="824.1" font-family='"Liberation Sans", "DejaVu Sans", sans-serif' font-size="40.5" text-anchor="start" fill="#262626">0.008</text>
<text x="1590.4" y="897.25" font-family='"Liberation Sans", "DejaVu Sans", sans-serif' font-size="40.5" text-anchor="start" fill="#262626">0.006</text>
<text x="1590.4" y="970.4" font-family='"Liberation Sans", "DejaVu Sans", sans-serif' font-size="40.5" text-anchor="start" fill="#262626">0.004</text>
<text x="1590.4" y="1043.55" font-family='"Liberation Sans", "DejaVu Sans", sans-serif' font-size="40.5" text-anchor="start" fill="#262626">0.002</text>
<text x="1590.4" y="1116.7" font-family='"Liberation Sans", "DejaVu Sans", sans-serif' font-size="40.5" text-anchor="start" fill="#262626">0</text>
<text x="1590.4" y="1189.85" font-family='"Liberation Sans", "DejaVu Sans", sans-serif' font-size="40.5" text-anchor="start" fill="#262626">-0.002</text>
<text x="1031.5" y="1294.7" font-family='"Liberation Sans", "DejaVu Sans", sans-serif' font-size="47" text-anchor="middle" fill="#262626">0</text>
<text x="1152.47" y="1294.7" font-family='"Liberation Sans", "DejaVu Sans", sans-serif' font-size="47" text-anchor="middle" fill="#262626"><tspan font-family='"Noto Serif CJK SC", "Liberation Serif", serif' font-style="italic" font-size="40">π</tspan><tspan dx="1.6">/</tspan>4</text>
<text x="1273.45" y="1294.7" font-family='"Liberation Sans", "DejaVu Sans", sans-serif' font-size="47" text-anchor="middle" fill="#262626"><tspan font-family='"Noto Serif CJK SC", "Liberation Serif", serif' font-style="italic" font-size="40">π</tspan><tspan dx="1.6">/</tspan>2</text>
<text x="1394.43" y="1294.7" font-family='"Liberation Sans", "DejaVu Sans", sans-serif' font-size="47" text-anchor="middle" fill="#262626">3<tspan font-family='"Noto Serif CJK SC", "Liberation Serif", serif' font-style="italic" font-size="40">π</tspan><tspan dx="1.6">/</tspan>4</text>
<text x="1515.9" y="1294.7" font-family='"Liberation Sans", "DejaVu Sans", sans-serif' font-size="47" text-anchor="middle" fill="#262626"><tspan font-family='"Noto Serif CJK SC", "Liberation Serif", serif' font-style="italic" font-size="40">π</tspan></text>
<text x="1015.3" y="1251.9" font-family='"Liberation Sans", "DejaVu Sans", sans-serif' font-size="47" text-anchor="end" fill="#262626">0</text>
<text x="1015.3" y="1142.08" font-family='"Liberation Sans", "DejaVu Sans", sans-serif' font-size="47" text-anchor="end" fill="#262626"><tspan font-family='"Noto Serif CJK SC", "Liberation Serif", serif' font-style="italic" font-size="40">π</tspan><tspan dx="1.6">/</tspan>2</text>
<text x="1015.3" y="1032.25" font-family='"Liberation Sans", "DejaVu Sans", sans-serif' font-size="47" text-anchor="end" fill="#262626"><tspan font-family='"Noto Serif CJK SC", "Liberation Serif", serif' font-style="italic" font-size="40">π</tspan></text>
<text x="1015.3" y="922.43" font-family='"Liberation Sans", "DejaVu Sans", sans-serif' font-size="47" text-anchor="end" fill="#262626">3<tspan font-family='"Noto Serif CJK SC", "Liberation Serif", serif' font-style="italic" font-size="40">π</tspan><tspan dx="1.6">/</tspan>2</text>
<text x="1015.3" y="812.6" font-family='"Liberation Sans", "DejaVu Sans", sans-serif' font-size="47" text-anchor="end" fill="#262626">2<tspan font-family='"Noto Serif CJK SC", "Liberation Serif", serif' font-style="italic" font-size="40">π</tspan></text>
<text x="1271.6" y="1361.2" font-family='"Noto Serif CJK SC", "Liberation Serif", serif' font-size="43.5" text-anchor="middle" fill="#262626" style="font-style:italic">θ</text>
<text transform="translate(907.7 1029.3) rotate(-90) scale(1.15 1)" font-family='"Liberation Serif", "DejaVu Serif", serif' font-style="italic" font-size="52" fill="#262626">ϕ</text>
<text x="1293.5" y="1412.6" font-family='"Liberation Serif", "DejaVu Serif", serif' font-size="30" text-anchor="middle" fill="#1a1a1a" letter-spacing="0.5">(d)</text>
</g>
</svg></body></html>
